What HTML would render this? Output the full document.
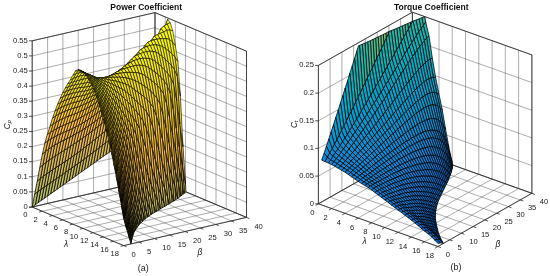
<!DOCTYPE html>
<html><head><meta charset="utf-8"><title>Power and Torque Coefficient</title>
<style>html,body{margin:0;padding:0;background:#fff}svg{display:block}</style></head>
<body>
<svg width="550" height="276" viewBox="0 0 550 276">
<rect width="550" height="276" fill="#fff"/>
<line x1="32.2" y1="207" x2="155" y2="178.8" stroke="#5a5a5a" stroke-width="0.5"/>
<line x1="155" y1="178.8" x2="155" y2="12.6" stroke="#5a5a5a" stroke-width="0.5"/>
<line x1="42.4" y1="211.3" x2="165.2" y2="183.1" stroke="#5a5a5a" stroke-width="0.5"/>
<line x1="165.2" y1="183.1" x2="165.2" y2="16.9" stroke="#5a5a5a" stroke-width="0.5"/>
<line x1="52.5" y1="215.6" x2="175.3" y2="187.4" stroke="#5a5a5a" stroke-width="0.5"/>
<line x1="175.3" y1="187.4" x2="175.3" y2="21.2" stroke="#5a5a5a" stroke-width="0.5"/>
<line x1="62.7" y1="219.9" x2="185.5" y2="191.7" stroke="#5a5a5a" stroke-width="0.5"/>
<line x1="185.5" y1="191.7" x2="185.5" y2="25.5" stroke="#5a5a5a" stroke-width="0.5"/>
<line x1="72.9" y1="224.2" x2="195.7" y2="196" stroke="#5a5a5a" stroke-width="0.5"/>
<line x1="195.7" y1="196" x2="195.7" y2="29.8" stroke="#5a5a5a" stroke-width="0.5"/>
<line x1="83" y1="228.4" x2="205.8" y2="200.2" stroke="#5a5a5a" stroke-width="0.5"/>
<line x1="205.8" y1="200.2" x2="205.8" y2="34" stroke="#5a5a5a" stroke-width="0.5"/>
<line x1="93.2" y1="232.7" x2="216" y2="204.5" stroke="#5a5a5a" stroke-width="0.5"/>
<line x1="216" y1="204.5" x2="216" y2="38.3" stroke="#5a5a5a" stroke-width="0.5"/>
<line x1="103.4" y1="237" x2="226.2" y2="208.8" stroke="#5a5a5a" stroke-width="0.5"/>
<line x1="226.2" y1="208.8" x2="226.2" y2="42.6" stroke="#5a5a5a" stroke-width="0.5"/>
<line x1="113.5" y1="241.3" x2="236.3" y2="213.1" stroke="#5a5a5a" stroke-width="0.5"/>
<line x1="236.3" y1="213.1" x2="236.3" y2="46.9" stroke="#5a5a5a" stroke-width="0.5"/>
<line x1="123.7" y1="245.6" x2="246.5" y2="217.4" stroke="#5a5a5a" stroke-width="0.5"/>
<line x1="246.5" y1="217.4" x2="246.5" y2="51.2" stroke="#5a5a5a" stroke-width="0.5"/>
<line x1="32.2" y1="207" x2="123.7" y2="245.6" stroke="#5a5a5a" stroke-width="0.5"/>
<line x1="32.2" y1="207" x2="32.2" y2="40.8" stroke="#5a5a5a" stroke-width="0.5"/>
<line x1="47.6" y1="203.5" x2="139.1" y2="242.1" stroke="#5a5a5a" stroke-width="0.5"/>
<line x1="47.6" y1="203.5" x2="47.6" y2="37.3" stroke="#5a5a5a" stroke-width="0.5"/>
<line x1="62.9" y1="199.9" x2="154.4" y2="238.5" stroke="#5a5a5a" stroke-width="0.5"/>
<line x1="62.9" y1="199.9" x2="62.9" y2="33.8" stroke="#5a5a5a" stroke-width="0.5"/>
<line x1="78.2" y1="196.4" x2="169.8" y2="235" stroke="#5a5a5a" stroke-width="0.5"/>
<line x1="78.2" y1="196.4" x2="78.2" y2="30.2" stroke="#5a5a5a" stroke-width="0.5"/>
<line x1="93.6" y1="192.9" x2="185.1" y2="231.5" stroke="#5a5a5a" stroke-width="0.5"/>
<line x1="93.6" y1="192.9" x2="93.6" y2="26.7" stroke="#5a5a5a" stroke-width="0.5"/>
<line x1="109" y1="189.4" x2="200.4" y2="228" stroke="#5a5a5a" stroke-width="0.5"/>
<line x1="109" y1="189.4" x2="109" y2="23.2" stroke="#5a5a5a" stroke-width="0.5"/>
<line x1="124.3" y1="185.8" x2="215.8" y2="224.4" stroke="#5a5a5a" stroke-width="0.5"/>
<line x1="124.3" y1="185.8" x2="124.3" y2="19.7" stroke="#5a5a5a" stroke-width="0.5"/>
<line x1="139.7" y1="182.3" x2="231.2" y2="220.9" stroke="#5a5a5a" stroke-width="0.5"/>
<line x1="139.7" y1="182.3" x2="139.7" y2="16.1" stroke="#5a5a5a" stroke-width="0.5"/>
<line x1="155" y1="178.8" x2="246.5" y2="217.4" stroke="#5a5a5a" stroke-width="0.5"/>
<line x1="155" y1="178.8" x2="155" y2="12.6" stroke="#5a5a5a" stroke-width="0.5"/>
<line x1="32.2" y1="207" x2="155" y2="178.8" stroke="#5a5a5a" stroke-width="0.5"/>
<line x1="155" y1="178.8" x2="246.5" y2="217.4" stroke="#5a5a5a" stroke-width="0.5"/>
<line x1="32.2" y1="191.9" x2="155" y2="163.7" stroke="#5a5a5a" stroke-width="0.5"/>
<line x1="155" y1="163.7" x2="246.5" y2="202.3" stroke="#5a5a5a" stroke-width="0.5"/>
<line x1="32.2" y1="176.8" x2="155" y2="148.6" stroke="#5a5a5a" stroke-width="0.5"/>
<line x1="155" y1="148.6" x2="246.5" y2="187.2" stroke="#5a5a5a" stroke-width="0.5"/>
<line x1="32.2" y1="161.7" x2="155" y2="133.5" stroke="#5a5a5a" stroke-width="0.5"/>
<line x1="155" y1="133.5" x2="246.5" y2="172.1" stroke="#5a5a5a" stroke-width="0.5"/>
<line x1="32.2" y1="146.6" x2="155" y2="118.4" stroke="#5a5a5a" stroke-width="0.5"/>
<line x1="155" y1="118.4" x2="246.5" y2="157" stroke="#5a5a5a" stroke-width="0.5"/>
<line x1="32.2" y1="131.5" x2="155" y2="103.3" stroke="#5a5a5a" stroke-width="0.5"/>
<line x1="155" y1="103.3" x2="246.5" y2="141.9" stroke="#5a5a5a" stroke-width="0.5"/>
<line x1="32.2" y1="116.3" x2="155" y2="88.1" stroke="#5a5a5a" stroke-width="0.5"/>
<line x1="155" y1="88.1" x2="246.5" y2="126.7" stroke="#5a5a5a" stroke-width="0.5"/>
<line x1="32.2" y1="101.2" x2="155" y2="73" stroke="#5a5a5a" stroke-width="0.5"/>
<line x1="155" y1="73" x2="246.5" y2="111.6" stroke="#5a5a5a" stroke-width="0.5"/>
<line x1="32.2" y1="86.1" x2="155" y2="57.9" stroke="#5a5a5a" stroke-width="0.5"/>
<line x1="155" y1="57.9" x2="246.5" y2="96.5" stroke="#5a5a5a" stroke-width="0.5"/>
<line x1="32.2" y1="71" x2="155" y2="42.8" stroke="#5a5a5a" stroke-width="0.5"/>
<line x1="155" y1="42.8" x2="246.5" y2="81.4" stroke="#5a5a5a" stroke-width="0.5"/>
<line x1="32.2" y1="55.9" x2="155" y2="27.7" stroke="#5a5a5a" stroke-width="0.5"/>
<line x1="155" y1="27.7" x2="246.5" y2="66.3" stroke="#5a5a5a" stroke-width="0.5"/>
<line x1="32.2" y1="40.8" x2="155" y2="12.6" stroke="#5a5a5a" stroke-width="0.5"/>
<line x1="155" y1="12.6" x2="246.5" y2="51.2" stroke="#5a5a5a" stroke-width="0.5"/>
<line x1="32.2" y1="207" x2="123.7" y2="245.6" stroke="#262626" stroke-width="0.8"/>
<line x1="123.7" y1="245.6" x2="246.5" y2="217.4" stroke="#262626" stroke-width="0.8"/>
<line x1="32.2" y1="207" x2="32.2" y2="40.8" stroke="#262626" stroke-width="0.8"/>
<line x1="32.2" y1="40.8" x2="155" y2="12.6" stroke="#262626" stroke-width="0.8"/>
<line x1="155" y1="12.6" x2="246.5" y2="51.2" stroke="#262626" stroke-width="0.8"/>
<line x1="246.5" y1="51.2" x2="246.5" y2="217.4" stroke="#262626" stroke-width="0.8"/>
<line x1="32.2" y1="207" x2="155" y2="178.8" stroke="#262626" stroke-width="0.8"/>
<line x1="155" y1="178.8" x2="246.5" y2="217.4" stroke="#262626" stroke-width="0.8"/>
<line x1="155" y1="178.8" x2="155" y2="12.6" stroke="#262626" stroke-width="0.8"/>
<line x1="32.2" y1="207" x2="29.1" y2="207.7" stroke="#262626" stroke-width="0.8"/>
<line x1="42.4" y1="211.3" x2="39.2" y2="212" stroke="#262626" stroke-width="0.8"/>
<line x1="52.5" y1="215.6" x2="49.4" y2="216.3" stroke="#262626" stroke-width="0.8"/>
<line x1="62.7" y1="219.9" x2="59.6" y2="220.6" stroke="#262626" stroke-width="0.8"/>
<line x1="72.9" y1="224.2" x2="69.7" y2="224.9" stroke="#262626" stroke-width="0.8"/>
<line x1="83" y1="228.4" x2="79.9" y2="229.2" stroke="#262626" stroke-width="0.8"/>
<line x1="93.2" y1="232.7" x2="90.1" y2="233.4" stroke="#262626" stroke-width="0.8"/>
<line x1="103.4" y1="237" x2="100.2" y2="237.7" stroke="#262626" stroke-width="0.8"/>
<line x1="113.5" y1="241.3" x2="110.4" y2="242" stroke="#262626" stroke-width="0.8"/>
<line x1="123.7" y1="245.6" x2="120.6" y2="246.3" stroke="#262626" stroke-width="0.8"/>
<line x1="123.7" y1="245.6" x2="126.6" y2="246.8" stroke="#262626" stroke-width="0.8"/>
<line x1="139.1" y1="242.1" x2="142" y2="243.3" stroke="#262626" stroke-width="0.8"/>
<line x1="154.4" y1="238.5" x2="157.3" y2="239.8" stroke="#262626" stroke-width="0.8"/>
<line x1="169.8" y1="235" x2="172.7" y2="236.3" stroke="#262626" stroke-width="0.8"/>
<line x1="185.1" y1="231.5" x2="188" y2="232.7" stroke="#262626" stroke-width="0.8"/>
<line x1="200.4" y1="228" x2="203.4" y2="229.2" stroke="#262626" stroke-width="0.8"/>
<line x1="215.8" y1="224.4" x2="218.7" y2="225.7" stroke="#262626" stroke-width="0.8"/>
<line x1="231.2" y1="220.9" x2="234.1" y2="222.2" stroke="#262626" stroke-width="0.8"/>
<line x1="246.5" y1="217.4" x2="249.4" y2="218.6" stroke="#262626" stroke-width="0.8"/>
<line x1="32.2" y1="207" x2="29" y2="207" stroke="#262626" stroke-width="0.8"/>
<line x1="32.2" y1="191.9" x2="29" y2="191.9" stroke="#262626" stroke-width="0.8"/>
<line x1="32.2" y1="176.8" x2="29" y2="176.8" stroke="#262626" stroke-width="0.8"/>
<line x1="32.2" y1="161.7" x2="29" y2="161.7" stroke="#262626" stroke-width="0.8"/>
<line x1="32.2" y1="146.6" x2="29" y2="146.6" stroke="#262626" stroke-width="0.8"/>
<line x1="32.2" y1="131.5" x2="29" y2="131.5" stroke="#262626" stroke-width="0.8"/>
<line x1="32.2" y1="116.3" x2="29" y2="116.3" stroke="#262626" stroke-width="0.8"/>
<line x1="32.2" y1="101.2" x2="29" y2="101.2" stroke="#262626" stroke-width="0.8"/>
<line x1="32.2" y1="86.1" x2="29" y2="86.1" stroke="#262626" stroke-width="0.8"/>
<line x1="32.2" y1="71" x2="29" y2="71" stroke="#262626" stroke-width="0.8"/>
<line x1="32.2" y1="55.9" x2="29" y2="55.9" stroke="#262626" stroke-width="0.8"/>
<line x1="32.2" y1="40.8" x2="29" y2="40.8" stroke="#262626" stroke-width="0.8"/>
<g font-family="Liberation Sans, Arial, sans-serif" font-size="7.6" fill="#1a1a1a">
<text x="27.5" y="217.2" text-anchor="end">0</text>
<text x="37.7" y="221.5" text-anchor="end">2</text>
<text x="47.8" y="225.8" text-anchor="end">4</text>
<text x="58" y="230.1" text-anchor="end">6</text>
<text x="68.2" y="234.4" text-anchor="end">8</text>
<text x="78.3" y="238.6" text-anchor="end">10</text>
<text x="88.5" y="242.9" text-anchor="end">12</text>
<text x="98.7" y="247.2" text-anchor="end">14</text>
<text x="108.8" y="251.5" text-anchor="end">16</text>
<text x="119" y="255.8" text-anchor="end">18</text>
<text x="131.6" y="257.3">0</text>
<text x="147" y="253.8">5</text>
<text x="162.3" y="250.2">10</text>
<text x="177.7" y="246.7">15</text>
<text x="193" y="243.2">20</text>
<text x="208.3" y="239.7">25</text>
<text x="223.7" y="236.1">30</text>
<text x="239.1" y="232.6">35</text>
<text x="254.4" y="229.1">40</text>
<text x="27.8" y="208.7" text-anchor="end">0</text>
<text x="27.8" y="193.6" text-anchor="end">0.05</text>
<text x="27.8" y="178.5" text-anchor="end">0.1</text>
<text x="27.8" y="163.4" text-anchor="end">0.15</text>
<text x="27.8" y="148.3" text-anchor="end">0.2</text>
<text x="27.8" y="133.2" text-anchor="end">0.25</text>
<text x="27.8" y="118" text-anchor="end">0.3</text>
<text x="27.8" y="102.9" text-anchor="end">0.35</text>
<text x="27.8" y="87.8" text-anchor="end">0.4</text>
<text x="27.8" y="72.7" text-anchor="end">0.45</text>
<text x="27.8" y="57.6" text-anchor="end">0.5</text>
<text x="27.8" y="42.5" text-anchor="end">0.55</text>
</g>
<text x="146.2" y="9.6" text-anchor="middle" font-family="Liberation Sans, Arial, sans-serif" font-weight="bold" font-size="8.5" fill="#111">Power Coefficient</text>
<text transform="translate(9.6,124.6) rotate(-90)" text-anchor="middle" font-family="Liberation Sans, sans-serif" font-style="italic" font-size="8.2" fill="#1a1a1a">C<tspan font-size="5.8" dy="1.7">p</tspan></text>
<text x="66.1" y="246.6" text-anchor="middle" font-family="Liberation Sans, sans-serif" font-style="italic" font-size="8.4" fill="#1a1a1a">λ</text>
<text x="199.9" y="255.3" text-anchor="middle" font-family="Liberation Sans, sans-serif" font-style="italic" font-size="8.4" fill="#1a1a1a">β</text>
<text x="143.2" y="270.8" text-anchor="middle" font-family="Liberation Sans, sans-serif" font-size="9" fill="#1a1a1a">(a)</text>
<g stroke="#000" stroke-width="0.62" stroke-linejoin="round">
<path d="M151.9 121.8l2.6 -19.5l3 -2.8l-2.5 20.1z" fill="#efb94b" stroke-width=".69"/>
<path d="M148.9 123.9l2.5 -18.8l3.1 -2.8l-2.6 19.5z" fill="#edb94c" stroke-width=".70"/>
<path d="M145.8 126.1l2.5 -18.1l3.1 -2.9l-2.5 18.8z" fill="#ecb94d" stroke-width=".70"/>
<path d="M142.7 128.3l2.6 -17.6l3 -2.7l-2.5 18.1z" fill="#eab94d" stroke-width=".70"/>
<path d="M139.7 130.5l2.6 -17.2l3.1 -2.6l-2.6 17.6z" fill="#e9b94e" stroke-width=".70"/>
<path d="M136.6 132.7l2.5 -16.9l3.1 -2.5l-2.6 17.2z" fill="#e7b94f" stroke-width=".70"/>
<path d="M133.5 134.9l2.6 -16.6l3 -2.5l-2.5 16.9z" fill="#e6b950" stroke-width=".71"/>
<path d="M154.5 102.3l2.5 -19l3.1 -3.9l-2.6 20.1z" fill="#febf3c" stroke-width=".66"/>
<path d="M130.4 137.1l2.6 -16.4l3.1 -2.4l-2.6 16.6z" fill="#e4b950" stroke-width=".71"/>
<path d="M151.4 105.1l2.5 -18.1l3.1 -3.7l-2.5 19z" fill="#fdbe3d" stroke-width=".67"/>
<path d="M148.3 108l2.6 -17.4l3 -3.6l-2.5 18.1z" fill="#fcbd3f" stroke-width=".67"/>
<path d="M127.4 139.2l2.5 -16l3.1 -2.5l-2.6 16.4z" fill="#e3b951" stroke-width=".71"/>
<path d="M145.3 110.7l2.5 -16.8l3.1 -3.3l-2.6 17.4z" fill="#fbbc41" stroke-width=".67"/>
<path d="M124.3 141.4l2.5 -15.7l3.1 -2.5l-2.5 16z" fill="#e1b952" stroke-width=".71"/>
<path d="M142.2 113.3l2.5 -16.5l3.1 -2.9l-2.5 16.8z" fill="#fabb42" stroke-width=".67"/>
<path d="M121.2 143.6l2.6 -15.4l3 -2.5l-2.5 15.7z" fill="#e0ba53" stroke-width=".72"/>
<path d="M139.1 115.8l2.6 -16.3l3 -2.7l-2.5 16.5z" fill="#f8bb44" stroke-width=".68"/>
<path d="M118.2 145.8l2.5 -15.1l3.1 -2.5l-2.6 15.4z" fill="#deba53" stroke-width=".72"/>
<path d="M182.4 165l2 28.2l1.5 -1.3l-0.4 -8.2z" fill="#d0bb5a" stroke-width=".74"/>
<path d="M136.1 118.3l2.5 -16.1l3.1 -2.7l-2.6 16.3z" fill="#f7ba45" stroke-width=".68"/>
<path d="M115.1 148l2.5 -14.9l3.1 -2.4l-2.5 15.1z" fill="#ddba54" stroke-width=".72"/>
<path d="M157 83.3l2.6 -18.7l3 -5.3l-2.5 20.1z" fill="#fccd2f" stroke-width=".63"/>
<path d="M133 120.7l2.5 -16l3.1 -2.5l-2.5 16.1z" fill="#f5ba46" stroke-width=".68"/>
<path d="M153.9 87l2.6 -17.5l3.1 -4.9l-2.6 18.7z" fill="#fdcb30" stroke-width=".64"/>
<path d="M112 150.2l2.6 -14.6l3 -2.5l-2.5 14.9z" fill="#dbba55" stroke-width=".72"/>
<path d="M129.9 123.2l2.6 -15.8l3 -2.7l-2.5 16z" fill="#f4ba48" stroke-width=".69"/>
<path d="M150.9 90.6l2.5 -16.4l3.1 -4.7l-2.6 17.5z" fill="#fec932" stroke-width=".64"/>
<path d="M181.9 181.1l0.8 13.4l1.1 -0.8z" fill="#c1bc60" stroke-width=".76"/>
<path d="M109 152.4l2.5 -14.4l3.1 -2.4l-2.6 14.6z" fill="#daba55" stroke-width=".72"/>
<path d="M147.8 93.9l2.5 -15.7l3.1 -4l-2.5 16.4z" fill="#fec734" stroke-width=".64"/>
<path d="M126.8 125.7l2.6 -15.7l3.1 -2.6l-2.6 15.8z" fill="#f2b949" stroke-width=".69"/>
<path d="M179.4 147.3l2.5 33.8l1.9 12.6l0.6 -0.5l-2 -28.2z" fill="#e3b951" stroke-width=".71"/>
<path d="M144.7 96.8l2.6 -15l3 -3.6l-2.5 15.7z" fill="#fec535" stroke-width=".65"/>
<path d="M105.9 154.5l2.5 -14l3.1 -2.5l-2.5 14.4z" fill="#d8ba56" stroke-width=".73"/>
<path d="M123.8 128.2l2.5 -15.6l3.1 -2.6l-2.6 15.7z" fill="#f0b94a" stroke-width=".69"/>
<path d="M179.9 124.2l2.5 40.8l3.1 18.7l-2.5 -36.9z" fill="#f7ba45" stroke-width=".68"/>
<path d="M141.7 99.5l2.5 -14.3l3.1 -3.4l-2.6 15z" fill="#ffc436" stroke-width=".65"/>
<path d="M102.8 156.7l2.6 -13.8l3 -2.4l-2.5 14z" fill="#d7ba57" stroke-width=".73"/>
<path d="M120.7 130.7l2.5 -15.4l3.1 -2.7l-2.5 15.6z" fill="#eeb94b" stroke-width=".69"/>
<path d="M178.8 166.1l2.4 29.7l1.5 -1.3l-0.8 -13.4z" fill="#d1bb59" stroke-width=".74"/>
<path d="M138.6 102.2l2.5 -13.9l3.1 -3.1l-2.5 14.3z" fill="#ffc338" stroke-width=".65"/>
<path d="M99.7 158.9l2.6 -13.6l3.1 -2.4l-2.6 13.8z" fill="#d5ba57" stroke-width=".73"/>
<path d="M117.6 133.1l2.6 -15.1l3 -2.7l-2.5 15.4z" fill="#edb94c" stroke-width=".70"/>
<path d="M135.5 104.7l2.6 -13.4l3 -3l-2.5 13.9z" fill="#fec239" stroke-width=".66"/>
<path d="M96.7 161.1l2.5 -13.4l3.1 -2.4l-2.6 13.6z" fill="#d4bb58" stroke-width=".73"/>
<path d="M114.6 135.6l2.5 -15l3.1 -2.6l-2.6 15.1z" fill="#ebb94d" stroke-width=".70"/>
<path d="M159.6 64.6l2.5 -18.5l3.1 -6.8l-2.6 20z" fill="#f7da25" stroke-width=".60"/>
<path d="M132.5 107.4l2.5 -13.1l3.1 -3l-2.6 13.4z" fill="#fec03a" stroke-width=".66"/>
<path d="M178.3 182.3l1 14.8l1.6 -1.1z" fill="#c2bc5f" stroke-width=".76"/>
<path d="M156.5 69.5l2.5 -17.1l3.1 -6.3l-2.5 18.5z" fill="#f8d727" stroke-width=".61"/>
<path d="M93.6 163.3l2.5 -13.3l3.1 -2.3l-2.5 13.4z" fill="#d2bb59" stroke-width=".74"/>
<path d="M153.4 74.2l2.6 -15.9l3 -5.9l-2.5 17.1z" fill="#f9d429" stroke-width=".61"/>
<path d="M111.5 138l2.5 -14.7l3.1 -2.7l-2.5 15z" fill="#e9b94e" stroke-width=".70"/>
<path d="M129.4 110l2.5 -12.8l3.1 -2.9l-2.5 13.1z" fill="#febf3c" stroke-width=".66"/>
<path d="M150.3 78.2l2.6 -14.9l3.1 -5l-2.6 15.9z" fill="#fad22a" stroke-width=".62"/>
<path d="M175.8 151.2l2.5 31.1l2.6 13.7l0.3 -0.2l-2.4 -29.7z" fill="#e1b952" stroke-width=".71"/>
<path d="M90.5 165.5l2.6 -13.2l3 -2.3l-2.5 13.3z" fill="#d1bb59" stroke-width=".74"/>
<path d="M108.4 140.5l2.6 -14.5l3 -2.7l-2.5 14.7z" fill="#e8b94f" stroke-width=".70"/>
<path d="M147.3 81.8l2.5 -14.1l3.1 -4.4l-2.6 14.9z" fill="#fbd02c" stroke-width=".62"/>
<path d="M126.3 112.6l2.6 -12.5l3 -2.9l-2.5 12.8z" fill="#fdbe3d" stroke-width=".67"/>
<path d="M176.3 128.3l2.5 37.8l3.1 15l-2.5 -33.8z" fill="#f6ba46" stroke-width=".68"/>
<path d="M144.2 85.2l2.5 -13.6l3.1 -3.9l-2.5 14.1z" fill="#fcce2d" stroke-width=".63"/>
<path d="M176.8 100.9l2.6 46.4l3 17.7l-2.5 -40.8z" fill="#fec833" stroke-width=".64"/>
<path d="M105.4 142.9l2.5 -14.3l3.1 -2.6l-2.6 14.5z" fill="#e6b950" stroke-width=".71"/>
<path d="M87.5 167.7l2.5 -13l3.1 -2.4l-2.6 13.2z" fill="#cfbb5a" stroke-width=".74"/>
<path d="M175.2 169.8l2.5 28.6l1.6 -1.3l-1 -14.8z" fill="#d0bb59" stroke-width=".74"/>
<path d="M123.2 115.3l2.6 -12.4l3.1 -2.8l-2.6 12.5z" fill="#fcbd3f" stroke-width=".67"/>
<path d="M141.1 88.3l2.6 -13.2l3 -3.5l-2.5 13.6z" fill="#fccd2f" stroke-width=".63"/>
<path d="M102.3 145.3l2.5 -14l3.1 -2.7l-2.5 14.3z" fill="#e4b951" stroke-width=".71"/>
<path d="M177.3 76l2.6 48.2l3.1 22.6l-2.6 -50.8z" fill="#f8d727" stroke-width=".61"/>
<path d="M84.4 169.8l2.5 -12.9l3.1 -2.2l-2.5 13z" fill="#cebb5b" stroke-width=".74"/>
<path d="M120.2 118l2.5 -12.3l3.1 -2.8l-2.6 12.4z" fill="#fbbc41" stroke-width=".67"/>
<path d="M138.1 91.3l2.5 -12.8l3.1 -3.4l-2.6 13.2z" fill="#fdcb30" stroke-width=".64"/>
<path d="M99.2 147.7l2.6 -13.8l3 -2.6l-2.5 14z" fill="#e2b951" stroke-width=".71"/>
<path d="M174.7 185.8l1 13.8l1.9 -1.1z" fill="#c1bc60" stroke-width=".76"/>
<path d="M117.1 120.6l2.5 -12.2l3.1 -2.7l-2.5 12.3z" fill="#fabb42" stroke-width=".67"/>
<path d="M81.3 172l2.6 -12.8l3 -2.3l-2.5 12.9z" fill="#ccbb5b" stroke-width=".74"/>
<path d="M135 94.3l2.5 -12.4l3.1 -3.4l-2.5 12.8z" fill="#fdca31" stroke-width=".64"/>
<path d="M96.1 150l2.6 -13.6l3.1 -2.5l-2.6 13.8z" fill="#e1ba52" stroke-width=".71"/>
<path d="M172.2 156.9l2.5 28.9l2.9 12.7l0.1 -0.1l-2.5 -28.6z" fill="#deba53" stroke-width=".72"/>
<path d="M114 123.3l2.6 -12.3l3 -2.6l-2.5 12.2z" fill="#f8bb44" stroke-width=".68"/>
<path d="M131.9 97.2l2.6 -12l3 -3.3l-2.5 12.4z" fill="#fec832" stroke-width=".64"/>
<path d="M78.2 174.2l2.6 -12.7l3.1 -2.3l-2.6 12.8z" fill="#cabb5c" stroke-width=".75"/>
<path d="M159 52.4l2.6 -16.8l3 -7.8l-2.5 18.3z" fill="#f5e41d" stroke-width=".58"/>
<path d="M162.1 46.1l2.5 -18.3l3.1 -8.6l-2.5 20.1z" fill="#f5e91a" stroke-width=".57"/>
<path d="M156 58.3l2.5 -15.5l3.1 -7.2l-2.6 16.8z" fill="#f5e020" stroke-width=".59"/>
<path d="M172.7 134.9l2.5 34.9l3.1 12.5l-2.5 -31.1z" fill="#f2b949" stroke-width=".69"/>
<path d="M152.9 63.3l2.5 -14.3l3.1 -6.2l-2.5 15.5z" fill="#f6dd22" stroke-width=".60"/>
<path d="M93.1 152.3l2.5 -13.4l3.1 -2.5l-2.6 13.6z" fill="#dfba53" stroke-width=".72"/>
<path d="M111 126l2.5 -12.3l3.1 -2.7l-2.6 12.3z" fill="#f7ba45" stroke-width=".68"/>
<path d="M128.9 100.1l2.5 -11.7l3.1 -3.2l-2.6 12z" fill="#fec734" stroke-width=".65"/>
<path d="M75.2 176.4l2.5 -12.7l3.1 -2.2l-2.6 12.7z" fill="#c9bc5c" stroke-width=".75"/>
<path d="M149.8 67.7l2.6 -13.5l3 -5.2l-2.5 14.3z" fill="#f7da24" stroke-width=".60"/>
<path d="M173.2 108.7l2.6 42.5l3 14.9l-2.5 -37.8z" fill="#ffc436" stroke-width=".65"/>
<path d="M171.6 174.8l2.4 26l1.7 -1.2l-1 -13.8z" fill="#cdbb5b" stroke-width=".74"/>
<path d="M146.7 71.6l2.6 -12.8l3.1 -4.6l-2.6 13.5z" fill="#f7d826" stroke-width=".61"/>
<path d="M125.8 102.9l2.5 -11.4l3.1 -3.1l-2.5 11.7z" fill="#fec535" stroke-width=".65"/>
<path d="M107.9 128.6l2.5 -12.2l3.1 -2.7l-2.5 12.3z" fill="#f5ba47" stroke-width=".68"/>
<path d="M90 154.7l2.5 -13.4l3.1 -2.4l-2.5 13.4z" fill="#ddba54" stroke-width=".72"/>
<path d="M72.1 178.6l2.6 -12.7l3 -2.2l-2.5 12.7z" fill="#c7bc5d" stroke-width=".75"/>
<path d="M173.7 84.1l2.6 44.2l3.1 19l-2.6 -46.4z" fill="#f9d329" stroke-width=".62"/>
<path d="M143.7 75.1l2.5 -12.2l3.1 -4.1l-2.6 12.8z" fill="#f8d627" stroke-width=".61"/>
<path d="M122.7 105.7l2.6 -11.1l3 -3.1l-2.5 11.4z" fill="#ffc436" stroke-width=".65"/>
<path d="M104.8 131.3l2.6 -12.3l3 -2.6l-2.5 12.2z" fill="#f3ba48" stroke-width=".69"/>
<path d="M86.9 156.9l2.6 -13.2l3 -2.4l-2.5 13.4z" fill="#dcba54" stroke-width=".72"/>
<path d="M140.6 78.5l2.5 -11.7l3.1 -3.9l-2.5 12.2z" fill="#f9d429" stroke-width=".61"/>
<path d="M174.3 69l2.5 31.9l3.1 23.3l-2.6 -48.2z" fill="#f6dc23" stroke-width=".60"/>
<path d="M69 180.8l2.6 -12.7l3.1 -2.2l-2.6 12.7z" fill="#c6bc5e" stroke-width=".75"/>
<path d="M174.8 56.7l2.5 19.3l3.1 20l-2.5 -34.5z" fill="#f5e41d" stroke-width=".58"/>
<path d="M171.1 190.6l0.9 11.4l1.7 -1z" fill="#bfbc61" stroke-width=".76"/>
<path d="M119.6 108.4l2.6 -10.8l3.1 -3l-2.6 11.1z" fill="#ffc338" stroke-width=".65"/>
<path d="M101.8 133.9l2.5 -12.4l3.1 -2.5l-2.6 12.3z" fill="#f1b949" stroke-width=".69"/>
<path d="M137.5 81.9l2.6 -11.4l3 -3.7l-2.5 11.7z" fill="#fad32a" stroke-width=".62"/>
<path d="M83.9 159.2l2.5 -13.1l3.1 -2.4l-2.6 13.2z" fill="#daba55" stroke-width=".72"/>
<path d="M66 183l2.5 -12.8l3.1 -2.1l-2.6 12.7z" fill="#c4bc5e" stroke-width=".76"/>
<path d="M168.6 163.7l2.5 26.9l2.6 10.4l0.3 -0.2l-2.4 -26z" fill="#daba55" stroke-width=".72"/>
<path d="M116.6 111l2.5 -10.4l3.1 -3l-2.6 10.8z" fill="#fec139" stroke-width=".66"/>
<path d="M164.6 27.8l2.6 -3.8l3 -1.3l-2.5 -3.5z" fill="#f9fb0e" stroke-width=".54"/>
<path d="M134.5 85.2l2.5 -11l3.1 -3.7l-2.6 11.4z" fill="#fbd12b" stroke-width=".62"/>
<path d="M98.7 136.4l2.5 -12.4l3.1 -2.5l-2.5 12.4z" fill="#efb94a" stroke-width=".69"/>
<path d="M169.1 142.7l2.5 32.1l3.1 11l-2.5 -28.9z" fill="#edb94c" stroke-width=".70"/>
<path d="M80.8 161.5l2.5 -13l3.1 -2.4l-2.5 13.1z" fill="#d9ba56" stroke-width=".73"/>
<path d="M161.6 35.6l2.5 -9.7l3.1 -1.9l-2.6 3.8z" fill="#f7f412" stroke-width=".55"/>
<path d="M169.6 117.8l2.6 39.1l3 12.9l-2.5 -34.9z" fill="#fec03b" stroke-width=".66"/>
<path d="M62.9 185.1l2.5 -12.7l3.1 -2.2l-2.5 12.8z" fill="#c3bc5f" stroke-width=".76"/>
<path d="M113.5 113.7l2.5 -10.1l3.1 -3l-2.5 10.4z" fill="#fec03b" stroke-width=".66"/>
<path d="M131.4 88.4l2.5 -10.7l3.1 -3.5l-2.5 11z" fill="#fbcf2d" stroke-width=".63"/>
<path d="M158.5 42.8l2.5 -14.2l3.1 -2.7l-2.5 9.7z" fill="#f5ee16" stroke-width=".56"/>
<path d="M172.3 41.6l2.5 15.1l3.1 4.8l-2.6 -16.2z" fill="#f6f114" stroke-width=".56"/>
<path d="M95.6 138.9l2.6 -12.6l3 -2.3l-2.5 12.4z" fill="#eeb94b" stroke-width=".69"/>
<path d="M168 180.6l2.1 22.6l1.9 -1.2l-0.9 -11.4z" fill="#cabb5c" stroke-width=".75"/>
<path d="M155.4 49l2.6 -13.9l3 -6.5l-2.5 14.2z" fill="#f5e919" stroke-width=".57"/>
<path d="M77.7 163.7l2.6 -12.9l3 -2.3l-2.5 13z" fill="#d7ba56" stroke-width=".73"/>
<path d="M167.2 24l2.5 6l3.1 0.7l-2.6 -8z" fill="#f9fb0e" stroke-width=".54"/>
<path d="M170.2 93.2l2.5 41.7l3.1 16.3l-2.6 -42.5z" fill="#fbcf2d" stroke-width=".63"/>
<path d="M152.4 54.2l2.5 -13.2l3.1 -5.9l-2.6 13.9z" fill="#f5e51c" stroke-width=".58"/>
<path d="M169.7 30l2.6 11.6l3 3.7l-2.5 -14.6z" fill="#f9fb0e" stroke-width=".54"/>
<path d="M128.3 91.5l2.6 -10.4l3 -3.4l-2.5 10.7z" fill="#fcce2e" stroke-width=".63"/>
<path d="M110.4 116.4l2.6 -9.9l3 -2.9l-2.5 10.1z" fill="#febf3c" stroke-width=".66"/>
<path d="M59.8 187.3l2.6 -12.8l3 -2.1l-2.5 12.7z" fill="#c1bc60" stroke-width=".76"/>
<path d="M149.3 58.8l2.5 -12.5l3.1 -5.3l-2.5 13.2z" fill="#f5e21e" stroke-width=".59"/>
<path d="M171.7 53.4l2.6 15.6l3 7l-2.5 -19.3z" fill="#f5e81a" stroke-width=".57"/>
<path d="M92.5 141.3l2.6 -12.6l3.1 -2.4l-2.6 12.6z" fill="#ecb94c" stroke-width=".70"/>
<path d="M170.7 77.4l2.5 31.3l3.1 19.6l-2.6 -44.2z" fill="#f7d826" stroke-width=".61"/>
<path d="M74.7 165.9l2.5 -12.9l3.1 -2.2l-2.6 12.9z" fill="#d6ba57" stroke-width=".73"/>
<path d="M125.3 94.6l2.5 -10.1l3.1 -3.4l-2.6 10.4z" fill="#fdcc2f" stroke-width=".63"/>
<path d="M146.2 62.9l2.6 -11.6l3 -5l-2.5 12.5z" fill="#f5e020" stroke-width=".59"/>
<path d="M171.2 65.1l2.5 19l3.1 16.8l-2.5 -31.9z" fill="#f5e020" stroke-width=".59"/>
<path d="M107.4 119l2.5 -9.7l3.1 -2.8l-2.6 9.9z" fill="#fdbe3e" stroke-width=".67"/>
<path d="M164.1 25.9l2.6 4.4l3 -0.3l-2.5 -6z" fill="#f9fb0e" stroke-width=".54"/>
<path d="M56.8 189.5l2.5 -12.9l3.1 -2.1l-2.6 12.8z" fill="#bfbc60" stroke-width=".76"/>
<path d="M143.1 66.8l2.6 -11l3.1 -4.5l-2.6 11.6z" fill="#f6dd22" stroke-width=".59"/>
<path d="M89.5 143.7l2.5 -12.6l3.1 -2.4l-2.6 12.6z" fill="#eab94d" stroke-width=".70"/>
<path d="M169.2 39.2l2.5 14.2l3.1 3.3l-2.5 -15.1z" fill="#f7f412" stroke-width=".55"/>
<path d="M122.2 97.6l2.5 -9.9l3.1 -3.2l-2.5 10.1z" fill="#fdcb30" stroke-width=".64"/>
<path d="M167.5 196.5l0.6 7.8l1.3 -0.7z" fill="#bbbd62" stroke-width=".77"/>
<path d="M71.6 168.1l2.5 -12.9l3.1 -2.2l-2.5 12.9z" fill="#d4bb58" stroke-width=".73"/>
<path d="M166.7 30.3l2.5 8.9l3.1 2.4l-2.6 -11.6z" fill="#f9fb0e" stroke-width=".54"/>
<path d="M104.3 121.5l2.5 -9.5l3.1 -2.7l-2.5 9.7z" fill="#fcbd3f" stroke-width=".67"/>
<path d="M140.1 70.5l2.5 -10.5l3.1 -4.2l-2.6 11z" fill="#f6db24" stroke-width=".60"/>
<path d="M53.7 191.7l2.5 -13l3.1 -2.1l-2.5 12.9z" fill="#bebc61" stroke-width=".76"/>
<path d="M165 171.3l2.5 25.2l1.9 7.1l0.7 -0.4l-2.1 -22.6z" fill="#d4bb58" stroke-width=".73"/>
<path d="M161 28.6l2.6 3.3l3.1 -1.6l-2.6 -4.4z" fill="#f9fb0e" stroke-width=".54"/>
<path d="M165.5 151.2l2.5 29.4l3.1 10l-2.5 -26.9z" fill="#e7b94f" stroke-width=".70"/>
<path d="M86.4 146.1l2.5 -12.7l3.1 -2.3l-2.5 12.6z" fill="#e9b94e" stroke-width=".70"/>
<path d="M119.1 100.6l2.6 -9.8l3 -3.1l-2.5 9.9z" fill="#fec932" stroke-width=".64"/>
<path d="M166 127.7l2.6 36l3 11.1l-2.5 -32.1z" fill="#fbbc41" stroke-width=".67"/>
<path d="M137 74.2l2.6 -10.1l3 -4.1l-2.5 10.5z" fill="#f7d925" stroke-width=".60"/>
<path d="M68.5 170.2l2.6 -12.8l3 -2.2l-2.5 12.9z" fill="#d3bb58" stroke-width=".73"/>
<path d="M168.7 50.8l2.5 14.3l3.1 3.9l-2.6 -15.6z" fill="#f5eb18" stroke-width=".57"/>
<path d="M101.2 124l2.6 -9.4l3 -2.6l-2.5 9.5z" fill="#fbbc41" stroke-width=".67"/>
<path d="M158 35.1l2.5 -1.8l3.1 -1.4l-2.6 -3.3z" fill="#f8f710" stroke-width=".55"/>
<path d="M50.6 193.9l2.6 -13.1l3 -2.1l-2.5 13z" fill="#bcbd62" stroke-width=".77"/>
<path d="M163.6 31.9l2.5 6.8l3.1 0.5l-2.5 -8.9z" fill="#f9fb0e" stroke-width=".54"/>
<path d="M166.6 103.2l2.5 39.5l3.1 14.2l-2.6 -39.1z" fill="#fdca31" stroke-width=".64"/>
<path d="M116 103.6l2.6 -9.6l3.1 -3.2l-2.6 9.8z" fill="#fec833" stroke-width=".64"/>
<path d="M166.1 38.7l2.6 12.1l3 2.6l-2.5 -14.2z" fill="#f7f511" stroke-width=".55"/>
<path d="M83.3 148.5l2.6 -12.8l3 -2.3l-2.5 12.7z" fill="#e7b94f" stroke-width=".70"/>
<path d="M133.9 77.7l2.6 -9.7l3.1 -3.9l-2.6 10.1z" fill="#f8d727" stroke-width=".61"/>
<path d="M164.4 187.4l1.7 18.1l2 -1.2l-0.6 -7.8z" fill="#c5bc5e" stroke-width=".75"/>
<path d="M65.4 172.4l2.6 -12.9l3.1 -2.1l-2.6 12.8z" fill="#d1bb59" stroke-width=".74"/>
<path d="M154.9 41l2.5 -6.4l3.1 -1.3l-2.5 1.8z" fill="#f6f213" stroke-width=".56"/>
<path d="M98.2 126.3l2.5 -9.3l3.1 -2.4l-2.6 9.4z" fill="#fabc42" stroke-width=".67"/>
<path d="M168.1 62.1l2.6 15.3l3 6.7l-2.5 -19z" fill="#f5e31e" stroke-width=".58"/>
<path d="M167.1 85.3l2.5 32.5l3.1 17.1l-2.5 -41.7z" fill="#f9d528" stroke-width=".61"/>
<path d="M130.9 81.1l2.5 -9.4l3.1 -3.7l-2.6 9.7z" fill="#f9d528" stroke-width=".61"/>
<path d="M113 106.5l2.5 -9.4l3.1 -3.1l-2.6 9.6z" fill="#fec634" stroke-width=".65"/>
<path d="M47.6 196.1l2.5 -13.2l3.1 -2.1l-2.6 13.1z" fill="#bbbd62" stroke-width=".77"/>
<path d="M167.6 73.1l2.6 20.1l3 15.5l-2.5 -31.3z" fill="#f6dc23" stroke-width=".60"/>
<path d="M80.3 150.8l2.5 -12.9l3.1 -2.2l-2.6 12.8z" fill="#e5b950" stroke-width=".71"/>
<path d="M151.8 46.3l2.6 -10.3l3 -1.4l-2.5 6.4z" fill="#f5ee16" stroke-width=".56"/>
<path d="M160.5 33.3l2.6 5.3l3 0.1l-2.5 -6.8z" fill="#f9fa0e" stroke-width=".55"/>
<path d="M165.6 48.3l2.5 13.8l3.1 3l-2.5 -14.3z" fill="#f5ee16" stroke-width=".56"/>
<path d="M62.4 174.5l2.5 -12.9l3.1 -2.1l-2.6 12.9z" fill="#d0bb5a" stroke-width=".74"/>
<path d="M95.1 128.7l2.5 -9.4l3.1 -2.3l-2.5 9.3z" fill="#f9bb43" stroke-width=".68"/>
<path d="M127.8 84.5l2.5 -9.2l3.1 -3.6l-2.5 9.4z" fill="#f9d329" stroke-width=".62"/>
<path d="M109.9 109.3l2.5 -9.2l3.1 -3l-2.5 9.4z" fill="#fec536" stroke-width=".65"/>
<path d="M163.1 38.6l2.5 9.7l3.1 2.5l-2.6 -12.1z" fill="#f7f611" stroke-width=".55"/>
<path d="M148.8 51.3l2.5 -10.9l3.1 -4.4l-2.6 10.3z" fill="#f5ea19" stroke-width=".57"/>
<path d="M44.5 198.3l2.5 -13.3l3.1 -2.1l-2.5 13.2z" fill="#b9bd63" stroke-width=".77"/>
<path d="M77.2 153l2.5 -12.9l3.1 -2.2l-2.5 12.9z" fill="#e4b951" stroke-width=".71"/>
<path d="M124.7 87.7l2.6 -9l3 -3.4l-2.5 9.2z" fill="#fad22b" stroke-width=".62"/>
<path d="M145.7 55.8l2.5 -10.9l3.1 -4.5l-2.5 10.9z" fill="#f5e71b" stroke-width=".58"/>
<path d="M92 131.1l2.6 -9.5l3 -2.3l-2.5 9.4z" fill="#f7ba45" stroke-width=".68"/>
<path d="M59.3 176.6l2.5 -12.9l3.1 -2.1l-2.5 12.9z" fill="#cebb5a" stroke-width=".74"/>
<path d="M157.4 34.6l2.6 4.1l3.1 -0.1l-2.6 -5.3z" fill="#f9fa0e" stroke-width=".55"/>
<path d="M106.8 112l2.6 -9.1l3 -2.8l-2.5 9.2z" fill="#ffc337" stroke-width=".65"/>
<path d="M161.9 160.7l2.5 26.7l3.1 9.1l-2.5 -25.2z" fill="#e0ba53" stroke-width=".72"/>
<path d="M162.4 138.6l2.6 32.7l3 9.3l-2.5 -29.4z" fill="#f4ba47" stroke-width=".68"/>
<path d="M163.9 203.1l0.3 3.6l0.6 -0.3z" fill="#b6bd64" stroke-width=".77"/>
<path d="M165.1 59.1l2.5 14l3.1 4.3l-2.6 -15.3z" fill="#f5e61c" stroke-width=".58"/>
<path d="M41.4 200.4l2.6 -13.2l3 -2.2l-2.5 13.3z" fill="#b7bd63" stroke-width=".77"/>
<path d="M161.4 179.1l2.5 24l0.9 3.3l1.3 -0.9l-1.7 -18.1z" fill="#cfbb5a" stroke-width=".74"/>
<path d="M142.6 60l2.6 -10.4l3 -4.7l-2.5 10.9z" fill="#f5e41d" stroke-width=".58"/>
<path d="M74.1 155.2l2.6 -13l3 -2.1l-2.5 12.9z" fill="#e2b951" stroke-width=".71"/>
<path d="M121.7 90.8l2.5 -8.7l3.1 -3.4l-2.6 9z" fill="#fbd02c" stroke-width=".62"/>
<path d="M163 114.2l2.5 37l3.1 12.5l-2.6 -36z" fill="#ffc436" stroke-width=".65"/>
<path d="M162.5 46.5l2.6 12.6l3 3l-2.5 -13.8z" fill="#f6f015" stroke-width=".56"/>
<path d="M160 38.7l2.5 7.8l3.1 1.8l-2.5 -9.7z" fill="#f8f710" stroke-width=".55"/>
<path d="M88.9 133.4l2.6 -9.5l3.1 -2.3l-2.6 9.5z" fill="#f6ba46" stroke-width=".68"/>
<path d="M103.8 114.6l2.5 -9l3.1 -2.7l-2.6 9.1z" fill="#fec238" stroke-width=".66"/>
<path d="M56.2 178.7l2.6 -13.1l3 -1.9l-2.5 12.9z" fill="#cdbb5b" stroke-width=".74"/>
<path d="M139.6 64.1l2.5 -9.8l3.1 -4.7l-2.6 10.4z" fill="#f5e11f" stroke-width=".59"/>
<path d="M154.4 36l2.5 3.2l3.1 -0.5l-2.6 -4.1z" fill="#f8f90f" stroke-width=".55"/>
<path d="M38.3 202.6l2.6 -13.2l3.1 -2.2l-2.6 13.2z" fill="#b6bd64" stroke-width=".78"/>
<path d="M118.6 94l2.5 -8.5l3.1 -3.4l-2.5 8.7z" fill="#fccf2d" stroke-width=".63"/>
<path d="M164.5 69.7l2.6 15.6l3.1 7.9l-2.6 -20.1z" fill="#f5df21" stroke-width=".59"/>
<path d="M163.5 93.6l2.5 34.1l3.1 15l-2.5 -39.5z" fill="#fbd12b" stroke-width=".62"/>
<path d="M71.1 157.4l2.5 -13.2l3.1 -2l-2.6 13z" fill="#e1ba52" stroke-width=".71"/>
<path d="M136.5 68l2.5 -9.1l3.1 -4.6l-2.5 9.8z" fill="#f5df21" stroke-width=".59"/>
<path d="M160.8 194l1.3 13.8l2.1 -1.1l-0.3 -3.6z" fill="#c1bc60" stroke-width=".76"/>
<path d="M164 80.7l2.6 22.5l3 14.6l-2.5 -32.5z" fill="#f7d826" stroke-width=".61"/>
<path d="M85.9 135.7l2.5 -9.7l3.1 -2.1l-2.6 9.5z" fill="#f4ba47" stroke-width=".68"/>
<path d="M100.7 117l2.5 -8.9l3.1 -2.5l-2.5 9z" fill="#fec13a" stroke-width=".66"/>
<path d="M53.2 180.8l2.5 -13.2l3.1 -2l-2.6 13.1z" fill="#cbbb5b" stroke-width=".75"/>
<path d="M115.5 97.1l2.6 -8.4l3 -3.2l-2.5 8.5z" fill="#fccd2e" stroke-width=".63"/>
<path d="M133.4 71.7l2.6 -8.6l3 -4.2l-2.5 9.1z" fill="#f6dc23" stroke-width=".60"/>
<path d="M35.3 204.8l2.5 -13.1l3.1 -2.3l-2.6 13.2z" fill="#b4bd65" stroke-width=".78"/>
<path d="M162 56.2l2.5 13.5l3.1 3.4l-2.5 -14z" fill="#f5e91a" stroke-width=".57"/>
<path d="M151.3 40.4l2.5 -0.5l3.1 -0.7l-2.5 -3.2z" fill="#f7f511" stroke-width=".55"/>
<path d="M156.9 39.2l2.6 6.3l3 1l-2.5 -7.8z" fill="#f8f710" stroke-width=".55"/>
<path d="M68 159.5l2.5 -13.2l3.1 -2.1l-2.5 13.2z" fill="#dfba53" stroke-width=".72"/>
<path d="M159.5 45.5l2.5 10.7l3.1 2.9l-2.6 -12.6z" fill="#f6f214" stroke-width=".56"/>
<path d="M97.6 119.3l2.6 -8.7l3 -2.5l-2.5 8.9z" fill="#fec03b" stroke-width=".66"/>
<path d="M82.8 137.9l2.5 -9.9l3.1 -2l-2.5 9.7z" fill="#f3ba48" stroke-width=".69"/>
<path d="M130.3 75.3l2.6 -8.3l3.1 -3.9l-2.6 8.6z" fill="#f7da24" stroke-width=".60"/>
<path d="M112.4 100.1l2.6 -8.2l3.1 -3.2l-2.6 8.4z" fill="#fdcb30" stroke-width=".63"/>
<path d="M50.1 182.9l2.5 -13.2l3.1 -2.1l-2.5 13.2z" fill="#cabb5c" stroke-width=".75"/>
<path d="M148.2 44.9l2.6 -4.1l3 -0.9l-2.5 0.5z" fill="#f6f214" stroke-width=".56"/>
<path d="M32.2 207l2.5 -13l3.1 -2.3l-2.5 13.1z" fill="#b2bd65" stroke-width=".78"/>
<path d="M158.8 149.4l2.6 29.7l3 8.3l-2.5 -26.7z" fill="#ecb94d" stroke-width=".70"/>
<path d="M158.3 169.7l2.5 24.3l3.1 9.1l-2.5 -24z" fill="#d9ba56" stroke-width=".73"/>
<path d="M64.9 161.6l2.6 -13.3l3 -2l-2.5 13.2z" fill="#deba53" stroke-width=".72"/>
<path d="M127.3 78.7l2.5 -8l3.1 -3.7l-2.6 8.3z" fill="#f7d825" stroke-width=".60"/>
<path d="M159.4 125.9l2.5 34.8l3.1 10.6l-2.6 -32.7z" fill="#febe3d" stroke-width=".66"/>
<path d="M161.5 66.6l2.5 14.1l3.1 4.6l-2.6 -15.6z" fill="#f5e21f" stroke-width=".59"/>
<path d="M94.6 121.6l2.5 -8.6l3.1 -2.4l-2.6 8.7z" fill="#febf3c" stroke-width=".66"/>
<path d="M153.8 39.9l2.6 5l3.1 0.6l-2.6 -6.3z" fill="#f8f710" stroke-width=".55"/>
<path d="M109.4 102.9l2.5 -8.1l3.1 -2.9l-2.6 8.2z" fill="#fdca31" stroke-width=".64"/>
<path d="M79.7 140.1l2.6 -10.1l3 -2l-2.5 9.9z" fill="#f2b949" stroke-width=".69"/>
<path d="M47 185l2.6 -13.2l3 -2.1l-2.5 13.2z" fill="#c8bc5d" stroke-width=".75"/>
<path d="M145.2 49.6l2.5 -7.3l3.1 -1.5l-2.6 4.1z" fill="#f5ee16" stroke-width=".56"/>
<path d="M124.2 82.1l2.5 -7.8l3.1 -3.6l-2.5 8z" fill="#f8d727" stroke-width=".61"/>
<path d="M158.9 53.7l2.6 12.9l3 3.1l-2.5 -13.5z" fill="#f5ec18" stroke-width=".57"/>
<path d="M157.8 185.8l2.5 23.2l0 0l1.8 -1.2l-1.3 -13.8z" fill="#cabb5c" stroke-width=".75"/>
<path d="M156.4 44.9l2.5 8.8l3.1 2.5l-2.5 -10.7z" fill="#f6f313" stroke-width=".56"/>
<path d="M159.9 103.4l2.5 35.2l3.1 12.6l-2.5 -37z" fill="#fdcc2f" stroke-width=".63"/>
<path d="M61.8 163.7l2.6 -13.5l3.1 -1.9l-2.6 13.3z" fill="#ddba54" stroke-width=".72"/>
<path d="M106.3 105.6l2.5 -8.1l3.1 -2.7l-2.5 8.1z" fill="#fec932" stroke-width=".64"/>
<path d="M91.5 123.9l2.5 -8.5l3.1 -2.4l-2.5 8.6z" fill="#fdbe3d" stroke-width=".67"/>
<path d="M160.9 77.1l2.6 16.5l3.1 9.6l-2.6 -22.5z" fill="#f6db23" stroke-width=".60"/>
<path d="M142.1 54.3l2.5 -8.3l3.1 -3.7l-2.5 7.3z" fill="#f5ea19" stroke-width=".57"/>
<path d="M76.7 142.2l2.5 -10.4l3.1 -1.8l-2.6 10.1z" fill="#f0b94a" stroke-width=".69"/>
<path d="M160.4 88.8l2.6 25.4l3 13.5l-2.5 -34.1z" fill="#f9d429" stroke-width=".61"/>
<path d="M44 187.2l2.5 -13.2l3.1 -2.2l-2.6 13.2z" fill="#c7bc5d" stroke-width=".75"/>
<path d="M121.1 85.5l2.6 -7.7l3 -3.5l-2.5 7.8z" fill="#f9d528" stroke-width=".61"/>
<path d="M150.8 40.8l2.5 4l3.1 0.1l-2.6 -5z" fill="#f8f710" stroke-width=".55"/>
<path d="M139 58.9l2.6 -8.8l3 -4.1l-2.5 8.3z" fill="#f5e71b" stroke-width=".58"/>
<path d="M103.2 108.1l2.6 -8l3 -2.6l-2.5 8.1z" fill="#fec833" stroke-width=".64"/>
<path d="M58.8 165.6l2.5 -13.6l3.1 -1.8l-2.6 13.5z" fill="#dbba55" stroke-width=".72"/>
<path d="M88.4 126l2.6 -8.4l3 -2.2l-2.5 8.5z" fill="#fcbd3f" stroke-width=".67"/>
<path d="M157.2 199.8l1 10.4l2.1 -1.2l0 0z" fill="#bdbc61" stroke-width=".77"/>
<path d="M118.1 88.7l2.5 -7.4l3.1 -3.5l-2.6 7.7z" fill="#fad329" stroke-width=".62"/>
<path d="M158.4 63.8l2.5 13.3l3.1 3.6l-2.5 -14.1z" fill="#f5e41d" stroke-width=".58"/>
<path d="M73.6 144.2l2.5 -10.7l3.1 -1.7l-2.5 10.4z" fill="#efb94b" stroke-width=".69"/>
<path d="M40.9 189.4l2.5 -13.2l3.1 -2.2l-2.5 13.2z" fill="#c5bc5e" stroke-width=".75"/>
<path d="M136 63.1l2.5 -8.7l3.1 -4.3l-2.6 8.8z" fill="#f5e41d" stroke-width=".58"/>
<path d="M153.3 44.8l2.6 7.3l3 1.6l-2.5 -8.8z" fill="#f7f412" stroke-width=".56"/>
<path d="M155.9 52.1l2.5 11.7l3.1 2.8l-2.6 -12.9z" fill="#f5ee16" stroke-width=".56"/>
<path d="M147.7 42.3l2.5 3.1l3.1 -0.6l-2.5 -4z" fill="#f7f611" stroke-width=".55"/>
<path d="M100.2 110.6l2.5 -8l3.1 -2.5l-2.6 8z" fill="#fec634" stroke-width=".65"/>
<path d="M115 91.9l2.5 -7.4l3.1 -3.2l-2.5 7.4z" fill="#fad22b" stroke-width=".62"/>
<path d="M132.9 67l2.5 -8.3l3.1 -4.3l-2.5 8.7z" fill="#f5e11f" stroke-width=".59"/>
<path d="M55.7 167.6l2.5 -13.7l3.1 -1.9l-2.5 13.6z" fill="#daba55" stroke-width=".72"/>
<path d="M85.3 128l2.6 -8.3l3.1 -2.1l-2.6 8.4z" fill="#fcbd40" stroke-width=".67"/>
<path d="M155.8 137.5l2.5 32.2l3.1 9.4l-2.6 -29.7z" fill="#f8ba44" stroke-width=".68"/>
<path d="M155.2 158.9l2.6 26.9l3 8.2l-2.5 -24.3z" fill="#e5b950" stroke-width=".71"/>
<path d="M70.5 146.3l2.6 -11l3 -1.8l-2.5 10.7z" fill="#eeb94b" stroke-width=".69"/>
<path d="M37.8 191.7l2.6 -13.2l3 -2.3l-2.5 13.2z" fill="#c4bc5f" stroke-width=".76"/>
<path d="M157.9 74.3l2.5 14.5l3.1 4.8l-2.6 -16.5z" fill="#f6de22" stroke-width=".59"/>
<path d="M154.7 177.4l2.5 22.4l3.1 9.2l-2.5 -23.2z" fill="#d4bb58" stroke-width=".73"/>
<path d="M129.8 70.7l2.6 -7.8l3 -4.2l-2.5 8.3z" fill="#f5df21" stroke-width=".59"/>
<path d="M156.3 115.1l2.5 34.3l3.1 11.3l-2.5 -34.8z" fill="#fec635" stroke-width=".65"/>
<path d="M111.9 94.8l2.6 -7.2l3 -3.1l-2.5 7.4z" fill="#fbd02c" stroke-width=".62"/>
<path d="M97.1 113l2.5 -8l3.1 -2.4l-2.5 8z" fill="#fec535" stroke-width=".65"/>
<path d="M144.6 46l2.6 0.4l3 -1l-2.5 -3.1z" fill="#f6f313" stroke-width=".56"/>
<path d="M150.2 45.4l2.6 6l3.1 0.7l-2.6 -7.3z" fill="#f7f412" stroke-width=".56"/>
<path d="M52.6 169.7l2.6 -13.8l3 -2l-2.5 13.7z" fill="#d9ba56" stroke-width=".73"/>
<path d="M82.3 130l2.5 -8.3l3.1 -2l-2.6 8.3z" fill="#fbbc41" stroke-width=".67"/>
<path d="M155.3 61.3l2.6 13l3 2.8l-2.5 -13.3z" fill="#f5e71b" stroke-width=".58"/>
<path d="M156.8 97.8l2.6 28.1l3 12.7l-2.5 -35.2z" fill="#fbd02c" stroke-width=".62"/>
<path d="M157.3 85.3l2.6 18.1l3.1 10.8l-2.6 -25.4z" fill="#f8d726" stroke-width=".61"/>
<path d="M126.7 74.3l2.6 -7.3l3.1 -4.1l-2.6 7.8z" fill="#f6dd22" stroke-width=".60"/>
<path d="M34.7 194l2.6 -13l3.1 -2.5l-2.6 13.2z" fill="#c2bc5f" stroke-width=".76"/>
<path d="M152.8 51.4l2.5 9.9l3.1 2.5l-2.5 -11.7z" fill="#f6ef16" stroke-width=".56"/>
<path d="M67.5 148.3l2.5 -11.3l3.1 -1.7l-2.6 11z" fill="#ecb94c" stroke-width=".70"/>
<path d="M108.8 97.5l2.6 -7.1l3.1 -2.8l-2.6 7.2z" fill="#fbcf2d" stroke-width=".63"/>
<path d="M154.2 191.9l2.2 19.5l1.8 -1.2l-1 -10.4z" fill="#c7bc5d" stroke-width=".75"/>
<path d="M94 115.4l2.6 -8l3 -2.4l-2.5 8z" fill="#ffc436" stroke-width=".65"/>
<path d="M141.6 50.1l2.5 -2.5l3.1 -1.2l-2.6 -0.4z" fill="#f6f015" stroke-width=".56"/>
<path d="M123.7 77.8l2.5 -6.9l3.1 -3.9l-2.6 7.3z" fill="#f6db24" stroke-width=".60"/>
<path d="M49.6 171.8l2.5 -13.9l3.1 -2l-2.6 13.8z" fill="#d7ba56" stroke-width=".73"/>
<path d="M79.2 131.8l2.5 -8.3l3.1 -1.8l-2.5 8.3z" fill="#fabc42" stroke-width=".67"/>
<path d="M147.2 46.4l2.5 4.8l3.1 0.2l-2.6 -6z" fill="#f7f413" stroke-width=".56"/>
<path d="M64.4 150.2l2.5 -11.6l3.1 -1.6l-2.5 11.3z" fill="#ebb94d" stroke-width=".70"/>
<path d="M105.8 100.1l2.5 -7.1l3.1 -2.6l-2.6 7.1z" fill="#fcce2e" stroke-width=".63"/>
<path d="M154.8 71.8l2.5 13.5l3.1 3.5l-2.5 -14.5z" fill="#f5e020" stroke-width=".59"/>
<path d="M120.6 81.3l2.5 -6.7l3.1 -3.7l-2.5 6.9z" fill="#f7d925" stroke-width=".60"/>
<path d="M138.5 54.4l2.5 -5.1l3.1 -1.7l-2.5 2.5z" fill="#f5ec17" stroke-width=".57"/>
<path d="M91 117.6l2.5 -8l3.1 -2.2l-2.6 8z" fill="#ffc337" stroke-width=".65"/>
<path d="M149.7 51.2l2.6 8.3l3 1.8l-2.5 -9.9z" fill="#f6f015" stroke-width=".56"/>
<path d="M152.3 59.5l2.5 12.3l3.1 2.5l-2.6 -13z" fill="#f5e919" stroke-width=".57"/>
<path d="M46.5 174l2.5 -13.9l3.1 -2.2l-2.5 13.9z" fill="#d6ba57" stroke-width=".73"/>
<path d="M76.1 133.5l2.6 -8.3l3 -1.7l-2.5 8.3z" fill="#f9bb42" stroke-width=".67"/>
<path d="M152.2 147.8l2.5 29.6l3.1 8.4l-2.6 -26.9z" fill="#f1b94a" stroke-width=".69"/>
<path d="M117.5 84.5l2.6 -6.5l3 -3.4l-2.5 6.7z" fill="#f8d726" stroke-width=".61"/>
<path d="M135.4 58.7l2.6 -6.2l3 -3.2l-2.5 5.1z" fill="#f5e91a" stroke-width=".57"/>
<path d="M102.7 102.6l2.6 -7.1l3 -2.5l-2.5 7.1z" fill="#fccc2f" stroke-width=".63"/>
<path d="M61.3 152l2.6 -11.9l3 -1.5l-2.5 11.6z" fill="#eab94e" stroke-width=".70"/>
<path d="M152.7 126.4l2.5 32.5l3.1 10.8l-2.5 -32.2z" fill="#fec03b" stroke-width=".66"/>
<path d="M144.1 47.6l2.5 4l3.1 -0.4l-2.5 -4.8z" fill="#f6f313" stroke-width=".56"/>
<path d="M151.6 167.4l2.6 24.5l3 7.9l-2.5 -22.4z" fill="#dfba53" stroke-width=".72"/>
<path d="M87.9 119.7l2.5 -8l3.1 -2.1l-2.5 8z" fill="#ffc238" stroke-width=".66"/>
<path d="M154.3 82.5l2.5 15.3l3.1 5.6l-2.6 -18.1z" fill="#f7da25" stroke-width=".60"/>
<path d="M153.6 205.3l0.7 7.2l1.5 -0.8z" fill="#babd62" stroke-width=".77"/>
<path d="M153.2 107.3l2.6 30.2l3 11.9l-2.5 -34.3z" fill="#fdcb30" stroke-width=".63"/>
<path d="M43.4 176.2l2.6 -13.8l3 -2.3l-2.5 13.9z" fill="#d4bb58" stroke-width=".73"/>
<path d="M151.1 184.3l2.5 21l2.2 6.4l0.6 -0.3l-2.2 -19.5z" fill="#cfbb5a" stroke-width=".74"/>
<path d="M132.4 62.9l2.5 -6.9l3.1 -3.5l-2.6 6.2z" fill="#f5e61c" stroke-width=".58"/>
<path d="M114.5 87.6l2.5 -6.4l3.1 -3.2l-2.6 6.5z" fill="#f8d628" stroke-width=".61"/>
<path d="M153.7 94.1l2.6 21l3.1 10.8l-2.6 -28.1z" fill="#fad32a" stroke-width=".62"/>
<path d="M73.1 135.3l2.5 -8.4l3.1 -1.7l-2.6 8.3z" fill="#f9bb43" stroke-width=".68"/>
<path d="M99.6 105l2.6 -7l3.1 -2.5l-2.6 7.1z" fill="#fdcb30" stroke-width=".63"/>
<path d="M151.7 69.6l2.6 12.9l3 2.8l-2.5 -13.5z" fill="#f5e21e" stroke-width=".58"/>
<path d="M146.6 51.6l2.6 7.1l3.1 0.8l-2.6 -8.3z" fill="#f6f015" stroke-width=".56"/>
<path d="M58.2 153.9l2.6 -12.3l3.1 -1.5l-2.6 11.9z" fill="#e9b94e" stroke-width=".70"/>
<path d="M84.8 121.7l2.6 -8.1l3 -1.9l-2.5 8z" fill="#fec139" stroke-width=".66"/>
<path d="M129.3 67l2.5 -7.3l3.1 -3.7l-2.5 6.9z" fill="#f5e31e" stroke-width=".58"/>
<path d="M149.2 58.7l2.5 10.9l3.1 2.2l-2.5 -12.3z" fill="#f5eb18" stroke-width=".57"/>
<path d="M141 49.3l2.6 3.1l3 -0.8l-2.5 -4z" fill="#f6f214" stroke-width=".56"/>
<path d="M40.4 178.5l2.5 -13.7l3.1 -2.4l-2.6 13.8z" fill="#d2bb58" stroke-width=".74"/>
<path d="M111.4 90.4l2.5 -6.3l3.1 -2.9l-2.5 6.4z" fill="#f9d429" stroke-width=".61"/>
<path d="M96.6 107.4l2.5 -7l3.1 -2.4l-2.6 7z" fill="#fdca31" stroke-width=".64"/>
<path d="M70 137l2.5 -8.5l3.1 -1.6l-2.5 8.4z" fill="#f8ba44" stroke-width=".68"/>
<path d="M126.2 70.9l2.6 -7.2l3 -4l-2.5 7.3z" fill="#f5e11f" stroke-width=".59"/>
<path d="M55.2 155.9l2.5 -12.6l3.1 -1.7l-2.6 12.3z" fill="#e8b94f" stroke-width=".70"/>
<path d="M150.6 197.4l1.8 16.3l1.9 -1.2l-0.7 -7.2z" fill="#c3bc5f" stroke-width=".76"/>
<path d="M81.7 123.5l2.6 -8.1l3.1 -1.8l-2.6 8.1z" fill="#fec13a" stroke-width=".66"/>
<path d="M151.2 80.2l2.5 13.9l3.1 3.7l-2.5 -15.3z" fill="#f6dc23" stroke-width=".60"/>
<path d="M138 52.5l2.5 1l3.1 -1.1l-2.6 -3.1z" fill="#f6f015" stroke-width=".56"/>
<path d="M108.3 93l2.6 -6.3l3 -2.6l-2.5 6.3z" fill="#fad32a" stroke-width=".62"/>
<path d="M143.6 52.4l2.5 5.9l3.1 0.4l-2.6 -7.1z" fill="#f6f015" stroke-width=".56"/>
<path d="M37.3 181l2.5 -13.6l3.1 -2.6l-2.5 13.7z" fill="#d1bb59" stroke-width=".74"/>
<path d="M123.1 74.6l2.6 -6.8l3.1 -4.1l-2.6 7.2z" fill="#f5de21" stroke-width=".59"/>
<path d="M93.5 109.6l2.5 -7l3.1 -2.2l-2.5 7z" fill="#fec932" stroke-width=".64"/>
<path d="M148.7 67.6l2.5 12.6l3.1 2.3l-2.6 -12.9z" fill="#f5e41d" stroke-width=".58"/>
<path d="M146.1 58.3l2.6 9.3l3 2l-2.5 -10.9z" fill="#f5ec18" stroke-width=".57"/>
<path d="M66.9 138.6l2.6 -8.7l3 -1.4l-2.5 8.5z" fill="#f7ba45" stroke-width=".68"/>
<path d="M149.1 136.9l2.5 30.5l3.1 10l-2.5 -29.6z" fill="#fabc41" stroke-width=".67"/>
<path d="M52.1 157.9l2.5 -12.8l3.1 -1.8l-2.5 12.6z" fill="#e6b94f" stroke-width=".71"/>
<path d="M120.1 78l2.5 -6.3l3.1 -3.9l-2.6 6.8z" fill="#f6dc22" stroke-width=".60"/>
<path d="M148.6 157.2l2.5 27.1l3.1 7.6l-2.6 -24.5z" fill="#eab94e" stroke-width=".70"/>
<path d="M150.7 91l2.5 16.3l3.1 7.8l-2.6 -21z" fill="#f9d528" stroke-width=".61"/>
<path d="M105.3 95.5l2.5 -6.2l3.1 -2.6l-2.6 6.3z" fill="#fad22b" stroke-width=".62"/>
<path d="M134.9 56l2.5 -1.2l3.1 -1.3l-2.5 -1z" fill="#f5ed17" stroke-width=".57"/>
<path d="M78.7 125.2l2.5 -8.1l3.1 -1.7l-2.6 8.1z" fill="#fec03b" stroke-width=".66"/>
<path d="M149.6 117.1l2.6 30.7l3 11.1l-2.5 -32.5z" fill="#fec734" stroke-width=".65"/>
<path d="M150.1 102.9l2.6 23.5l3.1 11.1l-2.6 -30.2z" fill="#fbcf2d" stroke-width=".63"/>
<path d="M140.5 53.5l2.5 4.8l3.1 0l-2.5 -5.9z" fill="#f6f015" stroke-width=".56"/>
<path d="M90.4 111.7l2.6 -7l3 -2.1l-2.5 7z" fill="#fec832" stroke-width=".64"/>
<path d="M148 175l2.6 22.4l3 7.9l-2.5 -21z" fill="#daba55" stroke-width=".72"/>
<path d="M117 81.2l2.5 -5.9l3.1 -3.6l-2.5 6.3z" fill="#f7db24" stroke-width=".60"/>
<path d="M63.9 140.1l2.5 -8.9l3.1 -1.3l-2.6 8.7z" fill="#f7ba45" stroke-width=".68"/>
<path d="M49 160.1l2.6 -13l3 -2l-2.5 12.8z" fill="#e5b950" stroke-width=".71"/>
<path d="M102.2 98l2.5 -6.2l3.1 -2.5l-2.5 6.2z" fill="#fbd12c" stroke-width=".62"/>
<path d="M131.8 59.7l2.6 -3.3l3 -1.6l-2.5 1.2z" fill="#f5ea19" stroke-width=".57"/>
<path d="M148.1 78l2.6 13l3 3.1l-2.5 -13.9z" fill="#f6de21" stroke-width=".59"/>
<path d="M75.6 126.9l2.6 -8.1l3 -1.7l-2.5 8.1z" fill="#febf3c" stroke-width=".66"/>
<path d="M143 58.3l2.6 7.9l3.1 1.4l-2.6 -9.3z" fill="#f5ec17" stroke-width=".57"/>
<path d="M145.6 66.2l2.5 11.8l3.1 2.2l-2.5 -12.6z" fill="#f5e61b" stroke-width=".58"/>
<path d="M147.5 189.8l2.5 19.8l1.5 4.8l0.9 -0.7l-1.8 -16.3z" fill="#ccbb5b" stroke-width=".74"/>
<path d="M150 209.6l0.6 5.3l0.9 -0.5z" fill="#b8bd63" stroke-width=".77"/>
<path d="M113.9 84.1l2.6 -5.7l3 -3.1l-2.5 5.9z" fill="#f7d925" stroke-width=".60"/>
<path d="M87.4 113.6l2.5 -7.1l3.1 -1.8l-2.6 7z" fill="#fec733" stroke-width=".64"/>
<path d="M137.4 54.8l2.6 3.9l3 -0.4l-2.5 -4.8z" fill="#f6ef15" stroke-width=".56"/>
<path d="M128.8 63.7l2.5 -4.4l3.1 -2.9l-2.6 3.3z" fill="#f5e71b" stroke-width=".58"/>
<path d="M99.1 100.4l2.6 -6.3l3 -2.3l-2.5 6.2z" fill="#fbcf2c" stroke-width=".63"/>
<path d="M60.8 141.6l2.5 -9.2l3.1 -1.2l-2.5 8.9z" fill="#f6ba46" stroke-width=".68"/>
<path d="M46 162.4l2.5 -13.2l3.1 -2.1l-2.6 13z" fill="#e3b951" stroke-width=".71"/>
<path d="M72.5 128.5l2.6 -8.1l3.1 -1.6l-2.6 8.1z" fill="#febf3c" stroke-width=".66"/>
<path d="M147.6 88.4l2.5 14.5l3.1 4.4l-2.5 -16.3z" fill="#f8d826" stroke-width=".61"/>
<path d="M110.9 86.7l2.5 -5.6l3.1 -2.7l-2.6 5.7z" fill="#f7d826" stroke-width=".61"/>
<path d="M125.7 67.8l2.5 -5.2l3.1 -3.3l-2.5 4.4z" fill="#f5e51d" stroke-width=".58"/>
<path d="M84.3 115.4l2.5 -7.2l3.1 -1.7l-2.5 7.1z" fill="#fec734" stroke-width=".65"/>
<path d="M140 58.7l2.5 6.8l3.1 0.7l-2.6 -7.9z" fill="#f5ed17" stroke-width=".57"/>
<path d="M96 102.6l2.6 -6.3l3.1 -2.2l-2.6 6.3z" fill="#fcce2d" stroke-width=".63"/>
<path d="M145.1 75.8l2.5 12.6l3.1 2.6l-2.6 -13z" fill="#f5e020" stroke-width=".59"/>
<path d="M42.9 164.8l2.5 -13.3l3.1 -2.3l-2.5 13.2z" fill="#e2b952" stroke-width=".71"/>
<path d="M134.4 56.4l2.5 3.1l3.1 -0.8l-2.6 -3.9z" fill="#f5ee16" stroke-width=".56"/>
<path d="M142.5 65.5l2.6 10.3l3 2.2l-2.5 -11.8z" fill="#f5e81b" stroke-width=".58"/>
<path d="M57.7 143.3l2.6 -9.5l3 -1.4l-2.5 9.2z" fill="#f5ba47" stroke-width=".68"/>
<path d="M147.1 99.4l2.5 17.7l3.1 9.3l-2.6 -23.5z" fill="#fad22b" stroke-width=".62"/>
<path d="M147 201.3l1.8 14.9l1.8 -1.3l-0.6 -5.3z" fill="#c2bc5f" stroke-width=".76"/>
<path d="M145.5 146.6l2.5 28.4l3.1 9.3l-2.5 -27.1z" fill="#f5ba47" stroke-width=".68"/>
<path d="M122.6 71.7l2.6 -5.9l3 -3.2l-2.5 5.2z" fill="#f5e21e" stroke-width=".59"/>
<path d="M146 127.6l2.6 29.6l3 10.2l-2.5 -30.5z" fill="#fec139" stroke-width=".66"/>
<path d="M107.8 89.3l2.5 -5.5l3.1 -2.7l-2.5 5.6z" fill="#f8d727" stroke-width=".61"/>
<path d="M146.5 111.7l2.6 25.2l3.1 10.9l-2.6 -30.7z" fill="#fdcb30" stroke-width=".64"/>
<path d="M69.5 129.9l2.5 -8.2l3.1 -1.3l-2.6 8.1z" fill="#febf3d" stroke-width=".66"/>
<path d="M81.2 117.1l2.6 -7.3l3 -1.6l-2.5 7.2z" fill="#fec634" stroke-width=".65"/>
<path d="M145 164.8l2.5 25l3.1 7.6l-2.6 -22.4z" fill="#e5b950" stroke-width=".71"/>
<path d="M39.8 167.4l2.6 -13.3l3 -2.6l-2.5 13.3z" fill="#e0ba53" stroke-width=".72"/>
<path d="M93 104.7l2.5 -6.3l3.1 -2.1l-2.6 6.3z" fill="#fcce2e" stroke-width=".63"/>
<path d="M119.5 75.3l2.6 -6.1l3.1 -3.4l-2.6 5.9z" fill="#f5e020" stroke-width=".59"/>
<path d="M131.3 59.3l2.5 1.4l3.1 -1.2l-2.5 -3.1z" fill="#f5ec17" stroke-width=".57"/>
<path d="M136.9 59.5l2.5 5.7l3.1 0.3l-2.5 -6.8z" fill="#f5ec17" stroke-width=".57"/>
<path d="M54.6 145.1l2.6 -9.8l3.1 -1.5l-2.6 9.5z" fill="#f4ba47" stroke-width=".68"/>
<path d="M104.7 91.8l2.6 -5.5l3 -2.5l-2.5 5.5z" fill="#f9d528" stroke-width=".61"/>
<path d="M144.5 86.1l2.6 13.3l3 3.5l-2.5 -14.5z" fill="#f7da24" stroke-width=".60"/>
<path d="M66.4 131.2l2.5 -8.3l3.1 -1.2l-2.5 8.2z" fill="#fdbe3d" stroke-width=".67"/>
<path d="M144.4 180.5l2.6 20.8l3 8.3l-2.5 -19.8z" fill="#d7ba57" stroke-width=".73"/>
<path d="M139.4 65.2l2.6 8.9l3.1 1.7l-2.6 -10.3z" fill="#f5e81a" stroke-width=".57"/>
<path d="M142 74.1l2.5 12l3.1 2.3l-2.5 -12.6z" fill="#f5e21f" stroke-width=".59"/>
<path d="M116.5 78.4l2.5 -6l3.1 -3.2l-2.6 6.1z" fill="#f5de21" stroke-width=".59"/>
<path d="M78.2 118.8l2.5 -7.5l3.1 -1.5l-2.6 7.3z" fill="#fec535" stroke-width=".65"/>
<path d="M89.9 106.5l2.5 -6.4l3.1 -1.7l-2.5 6.3z" fill="#fccd2e" stroke-width=".63"/>
<path d="M128.2 62.6l2.6 -0.4l3 -1.5l-2.5 -1.4z" fill="#f5ea19" stroke-width=".57"/>
<path d="M101.7 94.1l2.5 -5.5l3.1 -2.3l-2.6 5.5z" fill="#f9d429" stroke-width=".61"/>
<path d="M51.6 147.1l2.5 -10.1l3.1 -1.7l-2.6 9.8z" fill="#f3b948" stroke-width=".69"/>
<path d="M133.8 60.7l2.6 4.7l3 -0.2l-2.5 -5.7z" fill="#f5ec18" stroke-width=".57"/>
<path d="M144 96.7l2.5 15l3.1 5.4l-2.5 -17.7z" fill="#f9d429" stroke-width=".62"/>
<path d="M113.4 81.1l2.5 -5.6l3.1 -3.1l-2.5 6z" fill="#f6dd22" stroke-width=".60"/>
<path d="M63.3 132.4l2.6 -8.2l3 -1.3l-2.5 8.3z" fill="#fdbe3e" stroke-width=".67"/>
<path d="M143.9 193.2l2.5 18.7l1.5 5l0.9 -0.7l-1.8 -14.9z" fill="#cbbb5c" stroke-width=".75"/>
<path d="M75.1 120.4l2.5 -7.7l3.1 -1.4l-2.5 7.5z" fill="#fec536" stroke-width=".65"/>
<path d="M146.4 211.9l0.6 5.5l0.9 -0.5z" fill="#b8bd63" stroke-width=".77"/>
<path d="M86.8 108.2l2.6 -6.4l3 -1.7l-2.5 6.4z" fill="#fccc2f" stroke-width=".63"/>
<path d="M125.2 65.8l2.5 -1.9l3.1 -1.7l-2.6 0.4z" fill="#f5e81a" stroke-width=".57"/>
<path d="M98.6 96.3l2.5 -5.5l3.1 -2.2l-2.5 5.5z" fill="#f9d329" stroke-width=".62"/>
<path d="M143.5 108l2.5 19.6l3.1 9.3l-2.6 -25.2z" fill="#fcce2e" stroke-width=".63"/>
<path d="M141.5 84.1l2.5 12.6l3.1 2.7l-2.6 -13.3z" fill="#f6dc23" stroke-width=".60"/>
<path d="M136.4 65.4l2.5 7.6l3.1 1.1l-2.6 -8.9z" fill="#f5e91a" stroke-width=".57"/>
<path d="M48.5 149.2l2.5 -10.5l3.1 -1.7l-2.5 10.1z" fill="#f1b949" stroke-width=".69"/>
<path d="M110.3 83.8l2.6 -5.3l3 -3l-2.5 5.6z" fill="#f6db23" stroke-width=".60"/>
<path d="M142.9 120.5l2.6 26.1l3.1 10.6l-2.6 -29.6z" fill="#fec734" stroke-width=".65"/>
<path d="M138.9 73l2.6 11.1l3 2l-2.5 -12z" fill="#f5e31e" stroke-width=".58"/>
<path d="M142.4 136.8l2.6 28l3 10.2l-2.5 -28.4z" fill="#fdbd3e" stroke-width=".67"/>
<path d="M130.8 62.2l2.5 3.8l3.1 -0.6l-2.6 -4.7z" fill="#f5eb18" stroke-width=".57"/>
<path d="M60.3 133.8l2.5 -8.3l3.1 -1.3l-2.6 8.2z" fill="#fdbe3e" stroke-width=".67"/>
<path d="M122.1 69.2l2.5 -3.1l3.1 -2.2l-2.5 1.9z" fill="#f5e61c" stroke-width=".58"/>
<path d="M141.9 153.9l2.5 26.6l3.1 9.3l-2.5 -25z" fill="#f0b94a" stroke-width=".69"/>
<path d="M72 121.7l2.6 -7.8l3 -1.2l-2.5 7.7z" fill="#ffc436" stroke-width=".65"/>
<path d="M83.8 109.8l2.5 -6.5l3.1 -1.5l-2.6 6.4z" fill="#fdcc30" stroke-width=".63"/>
<path d="M95.5 98.4l2.6 -5.6l3 -2l-2.5 5.5z" fill="#fad22a" stroke-width=".62"/>
<path d="M107.3 86.3l2.5 -5l3.1 -2.8l-2.6 5.3z" fill="#f7da24" stroke-width=".60"/>
<path d="M45.4 151.5l2.6 -10.8l3 -2l-2.5 10.5z" fill="#f0b94a" stroke-width=".69"/>
<path d="M140.9 94.3l2.6 13.7l3 3.7l-2.5 -15z" fill="#f8d627" stroke-width=".61"/>
<path d="M133.3 66l2.6 6.6l3 0.4l-2.5 -7.6z" fill="#f5e91a" stroke-width=".57"/>
<path d="M143.4 203.3l2 15.5l1.6 -1.4l-0.6 -5.5z" fill="#c2bc5f" stroke-width=".76"/>
<path d="M141.4 169.6l2.5 23.6l3.1 8.1l-2.6 -20.8z" fill="#e2b951" stroke-width=".71"/>
<path d="M119 72.4l2.6 -3.9l3 -2.4l-2.5 3.1z" fill="#f5e41d" stroke-width=".58"/>
<path d="M127.7 63.9l2.5 3l3.1 -0.9l-2.5 -3.8z" fill="#f5ea19" stroke-width=".57"/>
<path d="M57.2 135.3l2.5 -8.3l3.1 -1.5l-2.5 8.3z" fill="#fcbd3f" stroke-width=".67"/>
<path d="M138.4 82.3l2.5 12l3.1 2.4l-2.5 -12.6z" fill="#f6de22" stroke-width=".59"/>
<path d="M135.9 72.6l2.5 9.7l3.1 1.8l-2.6 -11.1z" fill="#f5e41d" stroke-width=".58"/>
<path d="M92.4 100.1l2.6 -5.5l3.1 -1.8l-2.6 5.6z" fill="#fad22b" stroke-width=".62"/>
<path d="M68.9 122.9l2.6 -7.9l3.1 -1.1l-2.6 7.8z" fill="#ffc436" stroke-width=".65"/>
<path d="M80.7 111.3l2.5 -6.6l3.1 -1.4l-2.5 6.5z" fill="#fdcb30" stroke-width=".64"/>
<path d="M104.2 88.6l2.5 -4.9l3.1 -2.4l-2.5 5z" fill="#f7d925" stroke-width=".60"/>
<path d="M42.4 154.1l2.5 -11.2l3.1 -2.2l-2.6 10.8z" fill="#eeb94b" stroke-width=".69"/>
<path d="M115.9 75.5l2.6 -4.8l3.1 -2.2l-2.6 3.9z" fill="#f5e21f" stroke-width=".59"/>
<path d="M140.4 104.9l2.5 15.6l3.1 7.1l-2.5 -19.6z" fill="#fbd02c" stroke-width=".62"/>
<path d="M140.8 183.4l2.6 19.9l3 8.6l-2.5 -18.7z" fill="#d6ba57" stroke-width=".73"/>
<path d="M124.6 66.1l2.6 1.7l3 -0.9l-2.5 -3z" fill="#f5e91a" stroke-width=".57"/>
<path d="M130.2 66.9l2.6 5.5l3.1 0.2l-2.6 -6.6z" fill="#f5e91a" stroke-width=".57"/>
<path d="M54.1 137l2.6 -8.4l3 -1.6l-2.5 8.3z" fill="#fcbd40" stroke-width=".67"/>
<path d="M101.1 90.8l2.6 -4.8l3 -2.3l-2.5 4.9z" fill="#f8d826" stroke-width=".61"/>
<path d="M89.4 101.8l2.5 -5.7l3.1 -1.5l-2.6 5.5z" fill="#fad12b" stroke-width=".62"/>
<path d="M77.6 112.7l2.6 -6.6l3 -1.4l-2.5 6.6z" fill="#fdcb30" stroke-width=".64"/>
<path d="M65.9 124.2l2.5 -8.1l3.1 -1.1l-2.6 7.9z" fill="#ffc437" stroke-width=".65"/>
<path d="M139.9 115.9l2.5 20.9l3.1 9.8l-2.6 -26.1z" fill="#fdca31" stroke-width=".64"/>
<path d="M112.9 78.5l2.5 -5.3l3.1 -2.5l-2.6 4.8z" fill="#f5e020" stroke-width=".59"/>
<path d="M137.9 92.1l2.5 12.8l3.1 3.1l-2.6 -13.7z" fill="#f7d826" stroke-width=".61"/>
<path d="M132.8 72.4l2.5 8.4l3.1 1.5l-2.5 -9.7z" fill="#f5e51c" stroke-width=".58"/>
<path d="M135.3 80.8l2.6 11.3l3 2.2l-2.5 -12z" fill="#f5df20" stroke-width=".59"/>
<path d="M139.3 128.1l2.5 25.8l3.1 10.9l-2.6 -28z" fill="#ffc337" stroke-width=".65"/>
<path d="M121.6 68.5l2.5 0.2l3.1 -0.9l-2.6 -1.7z" fill="#f5e81a" stroke-width=".58"/>
<path d="M51 138.7l2.6 -8.4l3.1 -1.7l-2.6 8.4z" fill="#fbbc41" stroke-width=".67"/>
<path d="M98.1 92.8l2.5 -4.8l3.1 -2l-2.6 4.8z" fill="#f8d727" stroke-width=".61"/>
<path d="M138.8 143.2l2.6 26.4l3 10.9l-2.5 -26.6z" fill="#fabc42" stroke-width=".67"/>
<path d="M140.3 194.9l2.5 17.5l2.1 6.8l0.5 -0.4l-2 -15.5z" fill="#ccbb5b" stroke-width=".74"/>
<path d="M86.3 103.3l2.5 -5.8l3.1 -1.4l-2.5 5.7z" fill="#fbd12b" stroke-width=".62"/>
<path d="M127.2 67.8l2.5 4.6l3.1 0l-2.6 -5.5z" fill="#f5e91a" stroke-width=".57"/>
<path d="M109.8 81.3l2.5 -5.5l3.1 -2.6l-2.5 5.3z" fill="#f5de21" stroke-width=".59"/>
<path d="M142.8 212.4l0.9 7.7l1.2 -0.9z" fill="#babd62" stroke-width=".77"/>
<path d="M74.6 113.9l2.5 -6.8l3.1 -1l-2.6 6.6z" fill="#fdca31" stroke-width=".64"/>
<path d="M62.8 125.5l2.5 -8.1l3.1 -1.3l-2.5 8.1z" fill="#ffc337" stroke-width=".65"/>
<path d="M137.3 101.9l2.6 14l3 4.6l-2.5 -15.6z" fill="#fad22a" stroke-width=".62"/>
<path d="M138.3 158.4l2.5 25l3.1 9.8l-2.5 -23.6z" fill="#eeb94b" stroke-width=".69"/>
<path d="M118.5 70.7l2.5 -1l3.1 -1l-2.5 -0.2z" fill="#f5e61b" stroke-width=".58"/>
<path d="M95 94.6l2.5 -4.9l3.1 -1.7l-2.5 4.8z" fill="#f8d627" stroke-width=".61"/>
<path d="M48 140.7l2.5 -8.5l3.1 -1.9l-2.6 8.4z" fill="#fabc42" stroke-width=".67"/>
<path d="M129.7 72.4l2.6 7.2l3 1.2l-2.5 -8.4z" fill="#f5e61c" stroke-width=".58"/>
<path d="M106.7 83.7l2.6 -5.2l3 -2.7l-2.5 5.5z" fill="#f6dd22" stroke-width=".60"/>
<path d="M134.8 89.9l2.5 12l3.1 3l-2.5 -12.8z" fill="#f7da24" stroke-width=".60"/>
<path d="M83.2 104.7l2.6 -5.8l3 -1.4l-2.5 5.8z" fill="#fbd02c" stroke-width=".62"/>
<path d="M132.3 79.6l2.5 10.3l3.1 2.2l-2.6 -11.3z" fill="#f5e11f" stroke-width=".59"/>
<path d="M59.7 127l2.6 -8.2l3 -1.4l-2.5 8.1z" fill="#ffc338" stroke-width=".65"/>
<path d="M71.5 115l2.5 -7l3.1 -0.9l-2.5 6.8z" fill="#fdca31" stroke-width=".64"/>
<path d="M124.1 68.7l2.5 3.7l3.1 0l-2.5 -4.6z" fill="#f5e81a" stroke-width=".57"/>
<path d="M136.8 111.9l2.6 16.2l3 8.7l-2.5 -20.9z" fill="#fccd2e" stroke-width=".63"/>
<path d="M137.8 172.2l2.5 22.7l3.1 8.4l-2.6 -19.9z" fill="#e2b951" stroke-width=".71"/>
<path d="M103.7 86l2.5 -5l3.1 -2.5l-2.6 5.2z" fill="#f6dc23" stroke-width=".60"/>
<path d="M115.4 73.2l2.6 -2l3 -1.5l-2.5 1z" fill="#f5e51c" stroke-width=".58"/>
<path d="M44.9 142.9l2.5 -8.6l3.1 -2.1l-2.5 8.5z" fill="#f9bb43" stroke-width=".68"/>
<path d="M91.9 96.1l2.6 -5l3 -1.4l-2.5 4.9z" fill="#f8d628" stroke-width=".61"/>
<path d="M80.2 106.1l2.5 -6l3.1 -1.2l-2.6 5.8z" fill="#fbd02c" stroke-width=".62"/>
<path d="M139.8 203.7l2.5 17.3l0.1 0.4l1.3 -1.3l-0.9 -7.7z" fill="#c5bc5e" stroke-width=".75"/>
<path d="M126.6 72.4l2.6 6.3l3.1 0.9l-2.6 -7.2z" fill="#f5e61c" stroke-width=".58"/>
<path d="M56.7 128.6l2.5 -8.3l3.1 -1.5l-2.6 8.2z" fill="#ffc238" stroke-width=".66"/>
<path d="M68.4 116.1l2.6 -7.2l3 -0.9l-2.5 7z" fill="#fdca31" stroke-width=".64"/>
<path d="M136.3 122.3l2.5 20.9l3.1 10.7l-2.5 -25.8z" fill="#fec733" stroke-width=".64"/>
<path d="M121 69.7l2.6 3l3 -0.3l-2.5 -3.7z" fill="#f5e81a" stroke-width=".57"/>
<path d="M134.3 99.1l2.5 12.8l3.1 4l-2.6 -14z" fill="#f9d528" stroke-width=".61"/>
<path d="M100.6 88l2.5 -4.7l3.1 -2.3l-2.5 5z" fill="#f6db24" stroke-width=".60"/>
<path d="M112.3 75.8l2.6 -2.8l3.1 -1.8l-2.6 2z" fill="#f5e31e" stroke-width=".58"/>
<path d="M142.3 221l0.1 0.5l0 -0.1z" fill="#b3bd65" stroke-width=".78"/>
<path d="M129.2 78.7l2.5 8.9l3.1 2.3l-2.5 -10.3z" fill="#f5e21f" stroke-width=".59"/>
<path d="M131.7 87.6l2.6 11.5l3 2.8l-2.5 -12z" fill="#f6dc23" stroke-width=".60"/>
<path d="M88.8 97.5l2.6 -5l3.1 -1.4l-2.6 5z" fill="#f9d528" stroke-width=".61"/>
<path d="M135.8 133.9l2.5 24.5l3.1 11.2l-2.6 -26.4z" fill="#fec13a" stroke-width=".66"/>
<path d="M137.2 184.3l2.6 19.4l3 8.7l-2.5 -17.5z" fill="#d8ba56" stroke-width=".73"/>
<path d="M77.1 107.1l2.5 -6.1l3.1 -0.9l-2.5 6z" fill="#fbcf2c" stroke-width=".63"/>
<path d="M53.6 130.3l2.5 -8.3l3.1 -1.7l-2.5 8.3z" fill="#fec239" stroke-width=".66"/>
<path d="M65.3 117.4l2.6 -7.4l3.1 -1.1l-2.6 7.2z" fill="#fec931" stroke-width=".64"/>
<path d="M109.3 78.5l2.5 -3.8l3.1 -1.7l-2.6 2.8z" fill="#f5e21f" stroke-width=".59"/>
<path d="M123.6 72.7l2.5 5.2l3.1 0.8l-2.6 -6.3z" fill="#f5e71b" stroke-width=".58"/>
<path d="M97.5 89.7l2.6 -4.5l3 -1.9l-2.5 4.7z" fill="#f7da24" stroke-width=".60"/>
<path d="M118 71.2l2.5 1.9l3.1 -0.4l-2.6 -3z" fill="#f5e71b" stroke-width=".58"/>
<path d="M135.2 147.5l2.6 24.7l3 11.2l-2.5 -25z" fill="#f9bb43" stroke-width=".68"/>
<path d="M133.7 108.2l2.6 14.1l3.1 5.8l-2.6 -16.2z" fill="#fbd02c" stroke-width=".62"/>
<path d="M85.8 98.9l2.5 -5.2l3.1 -1.2l-2.6 5z" fill="#f9d528" stroke-width=".61"/>
<path d="M139.2 211.5l1.6 11.3l1.6 -1.3l-0.1 -0.5z" fill="#bebc61" stroke-width=".76"/>
<path d="M50.5 132.2l2.6 -8.3l3 -1.9l-2.5 8.3z" fill="#fec13a" stroke-width=".66"/>
<path d="M126.1 77.9l2.6 7.7l3 2l-2.5 -8.9z" fill="#f5e31e" stroke-width=".58"/>
<path d="M74 108l2.6 -6.2l3 -0.8l-2.5 6.1z" fill="#fbcf2c" stroke-width=".63"/>
<path d="M131.2 96.2l2.5 12l3.1 3.7l-2.5 -12.8z" fill="#f8d726" stroke-width=".61"/>
<path d="M106.2 81l2.6 -4.5l3 -1.8l-2.5 3.8z" fill="#f5e020" stroke-width=".59"/>
<path d="M128.7 85.6l2.5 10.6l3.1 2.9l-2.6 -11.5z" fill="#f5de21" stroke-width=".59"/>
<path d="M62.3 118.8l2.5 -7.6l3.1 -1.2l-2.6 7.4z" fill="#fec932" stroke-width=".64"/>
<path d="M94.5 91.1l2.5 -4.4l3.1 -1.5l-2.6 4.5z" fill="#f7da25" stroke-width=".60"/>
<path d="M114.9 73l2.5 0.7l3.1 -0.6l-2.5 -1.9z" fill="#f5e71b" stroke-width=".58"/>
<path d="M136.7 194.8l2.5 16.7l3.1 9.5l-2.5 -17.3z" fill="#cfbb5a" stroke-width=".74"/>
<path d="M134.7 160.7l2.5 23.6l3.1 10.6l-2.5 -22.7z" fill="#eeb94b" stroke-width=".69"/>
<path d="M120.5 73.1l2.5 4.3l3.1 0.5l-2.5 -5.2z" fill="#f5e71b" stroke-width=".58"/>
<path d="M82.7 100.1l2.5 -5.3l3.1 -1.1l-2.5 5.2z" fill="#f9d429" stroke-width=".61"/>
<path d="M133.2 117.7l2.6 16.2l3 9.3l-2.5 -20.9z" fill="#fdcb30" stroke-width=".64"/>
<path d="M47.5 134.3l2.6 -8.2l3.1 -2.2l-2.6 8.3z" fill="#fec03b" stroke-width=".66"/>
<path d="M103.1 83.3l2.6 -4.9l3.1 -1.9l-2.6 4.5z" fill="#f5df21" stroke-width=".59"/>
<path d="M71 108.9l2.5 -6.4l3.1 -0.7l-2.6 6.2z" fill="#fbcf2d" stroke-width=".63"/>
<path d="M59.2 120.3l2.5 -7.7l3.1 -1.4l-2.5 7.6z" fill="#fec832" stroke-width=".64"/>
<path d="M91.4 92.5l2.5 -4.5l3.1 -1.3l-2.5 4.4z" fill="#f7d925" stroke-width=".60"/>
<path d="M123 77.4l2.6 6.7l3.1 1.5l-2.6 -7.7z" fill="#f5e41d" stroke-width=".58"/>
<path d="M111.8 74.7l2.6 -0.3l3 -0.7l-2.5 -0.7z" fill="#f5e61c" stroke-width=".58"/>
<path d="M130.7 104.8l2.5 12.9l3.1 4.6l-2.6 -14.1z" fill="#fad32a" stroke-width=".62"/>
<path d="M132.7 127.4l2.5 20.1l3.1 10.9l-2.5 -24.5z" fill="#fec635" stroke-width=".65"/>
<path d="M79.6 101l2.6 -5.4l3 -0.8l-2.5 5.3z" fill="#f9d429" stroke-width=".61"/>
<path d="M134.2 172.7l2.5 22.1l3.1 8.9l-2.6 -19.4z" fill="#e4b950" stroke-width=".71"/>
<path d="M117.4 73.7l2.6 3.5l3 0.2l-2.5 -4.3z" fill="#f5e71b" stroke-width=".58"/>
<path d="M125.6 84.1l2.5 9.4l3.1 2.7l-2.5 -10.6z" fill="#f5e020" stroke-width=".59"/>
<path d="M128.1 93.5l2.6 11.3l3 3.4l-2.5 -12z" fill="#f7da25" stroke-width=".60"/>
<path d="M100.1 85.2l2.5 -5l3.1 -1.8l-2.6 4.9z" fill="#f5de21" stroke-width=".59"/>
<path d="M67.9 110l2.5 -6.5l3.1 -1l-2.5 6.4z" fill="#fbcf2d" stroke-width=".63"/>
<path d="M56.1 122l2.6 -7.9l3 -1.5l-2.5 7.7z" fill="#fec833" stroke-width=".64"/>
<path d="M136.2 202.7l2.5 15.9l1.4 5l0.7 -0.8l-1.6 -11.3z" fill="#c8bc5d" stroke-width=".75"/>
<path d="M88.3 93.7l2.6 -4.5l3 -1.2l-2.5 4.5z" fill="#f7d925" stroke-width=".60"/>
<path d="M108.8 76.5l2.5 -1.1l3.1 -1l-2.6 0.3z" fill="#f5e51c" stroke-width=".58"/>
<path d="M132.2 138l2.5 22.7l3.1 11.5l-2.6 -24.7z" fill="#fec03b" stroke-width=".66"/>
<path d="M138.7 218.6l0.7 5.6l0.7 -0.6z" fill="#b8bd63" stroke-width=".77"/>
<path d="M120 77.2l2.5 5.8l3.1 1.1l-2.6 -6.7z" fill="#f5e51c" stroke-width=".58"/>
<path d="M76.6 101.8l2.5 -5.6l3.1 -0.6l-2.6 5.4z" fill="#f9d429" stroke-width=".61"/>
<path d="M97 86.7l2.5 -4.8l3.1 -1.7l-2.5 5z" fill="#f6de22" stroke-width=".59"/>
<path d="M114.4 74.4l2.5 2.8l3.1 0l-2.6 -3.5z" fill="#f5e71b" stroke-width=".58"/>
<path d="M130.1 113.5l2.6 13.9l3.1 6.5l-2.6 -16.2z" fill="#fcce2d" stroke-width=".63"/>
<path d="M53.1 123.9l2.5 -8l3.1 -1.8l-2.6 7.9z" fill="#fec734" stroke-width=".64"/>
<path d="M64.8 111.2l2.6 -6.6l3 -1.1l-2.5 6.5z" fill="#fccf2d" stroke-width=".63"/>
<path d="M133.6 183.1l2.6 19.6l3 8.8l-2.5 -16.7z" fill="#dbba55" stroke-width=".72"/>
<path d="M85.2 94.8l2.6 -4.6l3.1 -1l-2.6 4.5z" fill="#f7d925" stroke-width=".60"/>
<path d="M122.5 83l2.6 8.1l3 2.4l-2.5 -9.4z" fill="#f5e11f" stroke-width=".59"/>
<path d="M105.7 78.4l2.5 -1.9l3.1 -1.1l-2.5 1.1z" fill="#f5e41d" stroke-width=".58"/>
<path d="M127.6 101.6l2.5 11.9l3.1 4.2l-2.5 -12.9z" fill="#f9d528" stroke-width=".61"/>
<path d="M125.1 91.1l2.5 10.5l3.1 3.2l-2.6 -11.3z" fill="#f6dc23" stroke-width=".60"/>
<path d="M131.6 149.8l2.6 22.9l3 11.6l-2.5 -23.6z" fill="#f9bb43" stroke-width=".68"/>
<path d="M93.9 88l2.6 -4.6l3 -1.5l-2.5 4.8z" fill="#f6dd22" stroke-width=".59"/>
<path d="M73.5 102.5l2.5 -5.7l3.1 -0.6l-2.5 5.6z" fill="#f9d429" stroke-width=".61"/>
<path d="M50 126.1l2.5 -8l3.1 -2.2l-2.5 8z" fill="#fec635" stroke-width=".65"/>
<path d="M116.9 77.2l2.5 4.9l3.1 0.9l-2.5 -5.8z" fill="#f5e51c" stroke-width=".58"/>
<path d="M111.3 75.4l2.5 1.9l3.1 -0.1l-2.5 -2.8z" fill="#f5e71b" stroke-width=".58"/>
<path d="M129.6 122.3l2.6 15.7l3 9.5l-2.5 -20.1z" fill="#fdc931" stroke-width=".64"/>
<path d="M61.7 112.6l2.6 -6.8l3.1 -1.2l-2.6 6.6z" fill="#fcce2d" stroke-width=".63"/>
<path d="M102.6 80.2l2.6 -3l3 -0.7l-2.5 1.9z" fill="#f5e31e" stroke-width=".58"/>
<path d="M82.2 95.6l2.5 -4.7l3.1 -0.7l-2.6 4.6z" fill="#f7d925" stroke-width=".60"/>
<path d="M135.7 209.2l2.5 15.5l0.2 1l1 -1.5l-0.7 -5.6z" fill="#c3bc5f" stroke-width=".76"/>
<path d="M131.1 160.9l2.5 22.2l3.1 11.7l-2.5 -22.1z" fill="#f1b94a" stroke-width=".69"/>
<path d="M119.4 82.1l2.6 7l3.1 2l-2.6 -8.1z" fill="#f5e21e" stroke-width=".58"/>
<path d="M90.9 89.2l2.5 -4.3l3.1 -1.5l-2.6 4.6z" fill="#f6dd22" stroke-width=".60"/>
<path d="M127.1 109.7l2.5 12.6l3.1 5.1l-2.6 -13.9z" fill="#fad12b" stroke-width=".62"/>
<path d="M70.4 103.5l2.6 -5.9l3 -0.8l-2.5 5.7z" fill="#f9d429" stroke-width=".62"/>
<path d="M133.1 192.1l2.6 17.1l3 9.4l-2.5 -15.9z" fill="#d4bb58" stroke-width=".73"/>
<path d="M138.2 224.7l0.1 1.1l0.1 -0.1z" fill="#b4bd65" stroke-width=".78"/>
<path d="M122 89.1l2.5 9.5l3.1 3l-2.5 -10.5z" fill="#f6de22" stroke-width=".59"/>
<path d="M108.2 76.5l2.6 0.9l3 -0.1l-2.5 -1.9z" fill="#f5e61b" stroke-width=".58"/>
<path d="M58.7 114.1l2.5 -6.9l3.1 -1.4l-2.6 6.8z" fill="#fcce2e" stroke-width=".63"/>
<path d="M124.5 98.6l2.6 11.1l3 3.8l-2.5 -11.9z" fill="#f8d826" stroke-width=".61"/>
<path d="M113.8 77.3l2.6 4l3 0.8l-2.5 -4.9z" fill="#f5e61c" stroke-width=".58"/>
<path d="M99.5 81.9l2.6 -3.9l3.1 -0.8l-2.6 3z" fill="#f5e21e" stroke-width=".59"/>
<path d="M129.1 131.2l2.5 18.6l3.1 10.9l-2.5 -22.7z" fill="#fec536" stroke-width=".65"/>
<path d="M79.1 96.2l2.5 -4.9l3.1 -0.4l-2.5 4.7z" fill="#f7d925" stroke-width=".60"/>
<path d="M87.8 90.2l2.5 -4.2l3.1 -1.1l-2.5 4.3z" fill="#f6dd22" stroke-width=".60"/>
<path d="M67.4 104.6l2.5 -6.1l3.1 -0.9l-2.6 5.9z" fill="#f9d429" stroke-width=".62"/>
<path d="M55.6 115.9l2.5 -7.1l3.1 -1.6l-2.5 6.9z" fill="#fccd2e" stroke-width=".63"/>
<path d="M116.4 81.3l2.5 6.2l3.1 1.6l-2.6 -7z" fill="#f5e31d" stroke-width=".58"/>
<path d="M130.6 171l2.5 21.1l3.1 10.6l-2.6 -19.6z" fill="#e8b94e" stroke-width=".70"/>
<path d="M105.2 77.2l2.5 0.2l3.1 0l-2.6 -0.9z" fill="#f5e61b" stroke-width=".58"/>
<path d="M96.5 83.4l2.5 -4.4l3.1 -1l-2.6 3.9z" fill="#f5e11f" stroke-width=".59"/>
<path d="M135.1 214.8l2 12.5l1.2 -1.5l-0.1 -1.1z" fill="#bfbc60" stroke-width=".76"/>
<path d="M126.5 117.7l2.6 13.5l3.1 6.8l-2.6 -15.7z" fill="#fccd2e" stroke-width=".63"/>
<path d="M110.8 77.4l2.5 3.3l3.1 0.6l-2.6 -4z" fill="#f5e61b" stroke-width=".58"/>
<path d="M76 96.8l2.6 -5l3 -0.5l-2.5 4.9z" fill="#f7d925" stroke-width=".60"/>
<path d="M128.6 140.3l2.5 20.6l3.1 11.8l-2.6 -22.9z" fill="#fec03b" stroke-width=".66"/>
<path d="M118.9 87.5l2.6 8.2l3 2.9l-2.5 -9.5z" fill="#f5e020" stroke-width=".59"/>
<path d="M124 106.1l2.5 11.6l3.1 4.6l-2.5 -12.6z" fill="#f9d429" stroke-width=".62"/>
<path d="M84.7 90.9l2.6 -4.3l3 -0.6l-2.5 4.2z" fill="#f6dd22" stroke-width=".60"/>
<path d="M121.5 95.7l2.5 10.4l3.1 3.6l-2.6 -11.1z" fill="#f7da24" stroke-width=".60"/>
<path d="M132.6 199.7l2.5 15.1l3.1 9.9l-2.5 -15.5z" fill="#cebb5a" stroke-width=".74"/>
<path d="M52.5 118.1l2.6 -7.3l3 -2l-2.5 7.1z" fill="#fdcc2f" stroke-width=".63"/>
<path d="M64.3 105.8l2.5 -6.2l3.1 -1.1l-2.5 6.1z" fill="#f9d329" stroke-width=".62"/>
<path d="M93.4 84.9l2.5 -4.7l3.1 -1.2l-2.5 4.4z" fill="#f5e11f" stroke-width=".59"/>
<path d="M102.1 78l2.5 -0.5l3.1 -0.1l-2.5 -0.2z" fill="#f5e61b" stroke-width=".58"/>
<path d="M113.3 80.7l2.5 5.3l3.1 1.5l-2.5 -6.2z" fill="#f5e41d" stroke-width=".58"/>
<path d="M73 97.6l2.5 -5.2l3.1 -0.6l-2.6 5z" fill="#f7d925" stroke-width=".60"/>
<path d="M107.7 77.4l2.5 2.7l3.1 0.6l-2.5 -3.3z" fill="#f5e71b" stroke-width=".58"/>
<path d="M128 150l2.6 21l3 12.1l-2.5 -22.2z" fill="#fabc41" stroke-width=".67"/>
<path d="M126 125.6l2.6 14.7l3 9.5l-2.5 -18.6z" fill="#fec932" stroke-width=".64"/>
<path d="M130 179.5l2.6 20.2l3.1 9.5l-2.6 -17.1z" fill="#e2b952" stroke-width=".71"/>
<path d="M81.6 91.3l2.6 -4.3l3.1 -0.4l-2.6 4.3z" fill="#f6dd22" stroke-width=".60"/>
<path d="M61.2 107.2l2.6 -6.4l3 -1.2l-2.5 6.2z" fill="#fad32a" stroke-width=".62"/>
<path d="M115.8 86l2.6 7.2l3.1 2.5l-2.6 -8.2z" fill="#f5e11f" stroke-width=".59"/>
<path d="M90.3 86l2.6 -4.7l3 -1.1l-2.5 4.7z" fill="#f5e11f" stroke-width=".59"/>
<path d="M123.5 113.3l2.5 12.3l3.1 5.6l-2.6 -13.5z" fill="#fbd02c" stroke-width=".62"/>
<path d="M99 79l2.6 -1.3l3 -0.2l-2.5 0.5z" fill="#f5e61c" stroke-width=".58"/>
<path d="M118.4 93.2l2.5 9.3l3.1 3.6l-2.5 -10.4z" fill="#f6dd22" stroke-width=".60"/>
<path d="M120.9 102.5l2.6 10.8l3 4.4l-2.5 -11.6z" fill="#f8d727" stroke-width=".61"/>
<path d="M69.9 98.5l2.5 -5.3l3.1 -0.8l-2.5 5.2z" fill="#f7d825" stroke-width=".60"/>
<path d="M132.1 205.4l2.5 14.3l2.2 8l0.3 -0.4l-2 -12.5z" fill="#cabb5c" stroke-width=".75"/>
<path d="M110.2 80.1l2.6 4.4l3 1.5l-2.5 -5.3z" fill="#f5e61c" stroke-width=".58"/>
<path d="M58.1 108.8l2.6 -6.5l3.1 -1.5l-2.6 6.4z" fill="#fad22a" stroke-width=".62"/>
<path d="M104.6 77.5l2.6 1.9l3 0.7l-2.5 -2.7z" fill="#f5e81b" stroke-width=".58"/>
<path d="M78.6 91.8l2.5 -4.5l3.1 -0.3l-2.6 4.3z" fill="#f6dd22" stroke-width=".60"/>
<path d="M134.6 219.7l1.4 9.1l0.8 -1.1z" fill="#bcbd62" stroke-width=".77"/>
<path d="M127.5 158.9l2.5 20.6l3.1 12.6l-2.5 -21.1z" fill="#f5ba47" stroke-width=".68"/>
<path d="M125.5 133.2l2.5 16.8l3.1 10.9l-2.5 -20.6z" fill="#fec535" stroke-width=".65"/>
<path d="M87.3 86.6l2.5 -4.6l3.1 -0.7l-2.6 4.7z" fill="#f5e11f" stroke-width=".59"/>
<path d="M95.9 80.2l2.6 -2.4l3.1 -0.1l-2.6 1.3z" fill="#f5e61c" stroke-width=".58"/>
<path d="M66.8 99.6l2.6 -5.5l3 -0.9l-2.5 5.3z" fill="#f7d826" stroke-width=".61"/>
<path d="M112.8 84.5l2.5 6.3l3.1 2.4l-2.6 -7.2z" fill="#f5e31e" stroke-width=".58"/>
<path d="M129.5 187l2.6 18.4l3 9.4l-2.5 -15.1z" fill="#dcba54" stroke-width=".72"/>
<path d="M55.1 110.8l2.5 -6.6l3.1 -1.9l-2.6 6.5z" fill="#fad12b" stroke-width=".62"/>
<path d="M122.9 120.3l2.6 12.9l3.1 7.1l-2.6 -14.7z" fill="#fccd2e" stroke-width=".63"/>
<path d="M75.5 92.4l2.5 -4.6l3.1 -0.5l-2.5 4.5z" fill="#f6dd22" stroke-width=".60"/>
<path d="M101.6 77.7l2.5 1.1l3.1 0.6l-2.6 -1.9z" fill="#f5e81a" stroke-width=".57"/>
<path d="M115.3 90.8l2.6 8.2l3 3.5l-2.5 -9.3z" fill="#f5df21" stroke-width=".59"/>
<path d="M107.2 79.4l2.5 3.7l3.1 1.4l-2.6 -4.4z" fill="#f5e71b" stroke-width=".58"/>
<path d="M84.2 87l2.5 -4.4l3.1 -0.6l-2.5 4.6z" fill="#f5e11f" stroke-width=".59"/>
<path d="M120.4 109.1l2.5 11.2l3.1 5.3l-2.5 -12.3z" fill="#f9d429" stroke-width=".62"/>
<path d="M117.9 99l2.5 10.1l3.1 4.2l-2.6 -10.8z" fill="#f7da25" stroke-width=".60"/>
<path d="M92.9 81.3l2.5 -3.4l3.1 -0.1l-2.6 2.4z" fill="#f5e51c" stroke-width=".58"/>
<path d="M63.8 100.8l2.5 -5.7l3.1 -1l-2.6 5.5z" fill="#f7d826" stroke-width=".61"/>
<path d="M125 140.7l2.5 18.2l3.1 12.1l-2.6 -21z" fill="#fec139" stroke-width=".66"/>
<path d="M127 167.1l2.5 19.9l3.1 12.7l-2.6 -20.2z" fill="#efb94b" stroke-width=".69"/>
<path d="M131.5 210.2l2.6 13.8l1.4 5.6l0.5 -0.8l-1.4 -9.1z" fill="#c7bc5d" stroke-width=".75"/>
<path d="M109.7 83.1l2.5 5.5l3.1 2.2l-2.5 -6.3z" fill="#f5e51d" stroke-width=".58"/>
<path d="M72.4 93.2l2.6 -4.8l3 -0.6l-2.5 4.6z" fill="#f6dd22" stroke-width=".60"/>
<path d="M98.5 77.8l2.5 0.5l3.1 0.5l-2.5 -1.1z" fill="#f5e81a" stroke-width=".57"/>
<path d="M81.1 87.3l2.6 -4.1l3 -0.6l-2.5 4.4z" fill="#f5e11f" stroke-width=".59"/>
<path d="M104.1 78.8l2.5 3l3.1 1.3l-2.5 -3.7z" fill="#f5e81a" stroke-width=".57"/>
<path d="M60.7 102.3l2.5 -5.8l3.1 -1.4l-2.5 5.7z" fill="#f8d726" stroke-width=".61"/>
<path d="M89.8 82l2.5 -4.1l3.1 0l-2.5 3.4z" fill="#f5e51c" stroke-width=".58"/>
<path d="M134.1 224l0.9 6.4l0.5 -0.8z" fill="#b9bd63" stroke-width=".77"/>
<path d="M122.4 127l2.6 13.7l3 9.3l-2.5 -16.8z" fill="#fdca31" stroke-width=".64"/>
<path d="M129 193.6l2.5 16.6l3.1 9.5l-2.5 -14.3z" fill="#d7ba57" stroke-width=".73"/>
<path d="M112.2 88.6l2.6 7.1l3.1 3.3l-2.6 -8.2z" fill="#f5e11f" stroke-width=".59"/>
<path d="M114.8 95.7l2.5 9.2l3.1 4.2l-2.5 -10.1z" fill="#f6dd22" stroke-width=".60"/>
<path d="M119.9 115.3l2.5 11.7l3.1 6.2l-2.6 -12.9z" fill="#fbd12b" stroke-width=".62"/>
<path d="M69.4 94.1l2.5 -4.9l3.1 -0.8l-2.6 4.8z" fill="#f6dd22" stroke-width=".60"/>
<path d="M117.3 104.9l2.6 10.4l3 5l-2.5 -11.2z" fill="#f8d727" stroke-width=".61"/>
<path d="M124.4 148.3l2.6 18.8l3 12.4l-2.5 -20.6z" fill="#fdbe3e" stroke-width=".67"/>
<path d="M57.6 104.2l2.6 -6l3 -1.7l-2.5 5.8z" fill="#f8d627" stroke-width=".61"/>
<path d="M78 87.8l2.6 -4.1l3.1 -0.5l-2.6 4.1z" fill="#f5e11f" stroke-width=".59"/>
<path d="M95.4 77.9l2.6 -0.1l3 0.5l-2.5 -0.5z" fill="#f5e91a" stroke-width=".57"/>
<path d="M106.6 81.8l2.6 4.7l3 2.1l-2.5 -5.5z" fill="#f5e61b" stroke-width=".58"/>
<path d="M126.4 174.4l2.6 19.2l3.1 11.8l-2.6 -18.4z" fill="#e9b94e" stroke-width=".70"/>
<path d="M86.7 82.6l2.6 -4.5l3 -0.2l-2.5 4.1z" fill="#f5e51c" stroke-width=".58"/>
<path d="M101 78.3l2.6 2.4l3 1.1l-2.5 -3z" fill="#f5e91a" stroke-width=".57"/>
<path d="M66.3 95.1l2.5 -5l3.1 -0.9l-2.5 4.9z" fill="#f6dd22" stroke-width=".60"/>
<path d="M109.2 86.5l2.5 6.3l3.1 2.9l-2.6 -7.1z" fill="#f5e31e" stroke-width=".58"/>
<path d="M121.9 133.5l2.5 14.8l3.1 10.6l-2.5 -18.2z" fill="#fec734" stroke-width=".65"/>
<path d="M131 214.3l2.5 13.4l0.9 3.8l0.6 -1.1l-0.9 -6.4z" fill="#c4bc5e" stroke-width=".76"/>
<path d="M75 88.4l2.5 -4.2l3.1 -0.5l-2.6 4.1z" fill="#f5e11f" stroke-width=".59"/>
<path d="M92.3 77.9l2.6 -0.8l3.1 0.7l-2.6 0.1z" fill="#f5ea19" stroke-width=".57"/>
<path d="M83.7 83.2l2.5 -4.8l3.1 -0.3l-2.6 4.5z" fill="#f5e51c" stroke-width=".58"/>
<path d="M111.7 92.8l2.6 8.1l3 4l-2.5 -9.2z" fill="#f5df20" stroke-width=".59"/>
<path d="M128.5 199.3l2.5 15l3.1 9.7l-2.6 -13.8z" fill="#d3bb58" stroke-width=".73"/>
<path d="M103.6 80.7l2.5 4l3.1 1.8l-2.6 -4.7z" fill="#f5e81a" stroke-width=".57"/>
<path d="M123.9 155.7l2.5 18.7l3.1 12.6l-2.5 -19.9z" fill="#f9bb42" stroke-width=".67"/>
<path d="M119.3 121.3l2.6 12.2l3.1 7.2l-2.6 -13.7z" fill="#fcce2e" stroke-width=".63"/>
<path d="M98 77.8l2.5 1.8l3.1 1.1l-2.6 -2.4z" fill="#f5ea19" stroke-width=".57"/>
<path d="M114.3 100.9l2.5 9.6l3.1 4.8l-2.6 -10.4z" fill="#f7da24" stroke-width=".60"/>
<path d="M133.5 227.7l0.7 4.3l0.2 -0.5z" fill="#b7bd64" stroke-width=".77"/>
<path d="M63.2 96.5l2.6 -5.2l3 -1.2l-2.5 5z" fill="#f6dc23" stroke-width=".60"/>
<path d="M116.8 110.5l2.5 10.8l3.1 5.7l-2.5 -11.7z" fill="#f9d429" stroke-width=".61"/>
<path d="M71.9 89.2l2.6 -4.4l3 -0.6l-2.5 4.2z" fill="#f5e11f" stroke-width=".59"/>
<path d="M125.9 180.7l2.6 18.6l3 10.9l-2.5 -16.6z" fill="#e5b950" stroke-width=".71"/>
<path d="M106.1 84.7l2.5 5.5l3.1 2.6l-2.5 -6.3z" fill="#f5e51c" stroke-width=".58"/>
<path d="M80.6 83.7l2.5 -4.7l3.1 -0.6l-2.5 4.8z" fill="#f5e61c" stroke-width=".58"/>
<path d="M89.3 78.1l2.5 -2l3.1 1l-2.6 0.8z" fill="#f5ea19" stroke-width=".57"/>
<path d="M60.2 98.2l2.5 -5.4l3.1 -1.5l-2.6 5.2z" fill="#f6db23" stroke-width=".60"/>
<path d="M121.4 139.8l2.5 15.9l3.1 11.4l-2.6 -18.8z" fill="#ffc437" stroke-width=".65"/>
<path d="M100.5 79.6l2.5 3.3l3.1 1.8l-2.5 -4z" fill="#f5e919" stroke-width=".57"/>
<path d="M94.9 77.1l2.5 1.1l3.1 1.4l-2.5 -1.8z" fill="#f5eb18" stroke-width=".57"/>
<path d="M108.7 90.2l2.6 7.1l3.1 3.6l-2.6 -8.1z" fill="#f5e21f" stroke-width=".59"/>
<path d="M68.8 90.1l2.6 -4.5l3.1 -0.8l-2.6 4.4z" fill="#f5e11f" stroke-width=".59"/>
<path d="M123.4 162.4l2.5 18.3l3.1 12.9l-2.6 -19.2z" fill="#f5ba46" stroke-width=".68"/>
<path d="M118.8 127.2l2.6 12.6l3 8.5l-2.5 -14.8z" fill="#fdcb30" stroke-width=".64"/>
<path d="M130.5 217.7l2.5 13.1l0.6 2.6l0.6 -1.4l-0.7 -4.3z" fill="#c3bc5f" stroke-width=".76"/>
<path d="M111.2 97.3l2.5 8.8l3.1 4.4l-2.5 -9.6z" fill="#f6dd22" stroke-width=".59"/>
<path d="M77.5 84.2l2.6 -4.4l3 -0.8l-2.5 4.7z" fill="#f5e61c" stroke-width=".58"/>
<path d="M116.3 116l2.5 11.2l3.1 6.3l-2.6 -12.2z" fill="#fad22b" stroke-width=".62"/>
<path d="M127.9 204.1l2.6 13.6l3 10l-2.5 -13.4z" fill="#d0bb5a" stroke-width=".74"/>
<path d="M113.7 106.1l2.6 9.9l3 5.3l-2.5 -10.8z" fill="#f8d826" stroke-width=".61"/>
<path d="M86.2 78.4l2.5 -3.2l3.1 0.9l-2.5 2z" fill="#f5ea19" stroke-width=".57"/>
<path d="M103 82.9l2.6 4.8l3 2.5l-2.5 -5.5z" fill="#f5e71b" stroke-width=".58"/>
<path d="M65.8 91.3l2.5 -4.6l3.1 -1.1l-2.6 4.5z" fill="#f5e11f" stroke-width=".59"/>
<path d="M133 230.8l0.4 2.9l0.2 -0.3z" fill="#b6bd64" stroke-width=".78"/>
<path d="M91.8 76.1l2.6 0.6l3 1.5l-2.5 -1.1z" fill="#f5ed17" stroke-width=".57"/>
<path d="M97.4 78.2l2.6 2.8l3 1.9l-2.5 -3.3z" fill="#f5eb18" stroke-width=".57"/>
<path d="M125.4 186l2.5 18.1l3.1 10.2l-2.5 -15z" fill="#e1b952" stroke-width=".71"/>
<path d="M120.8 145.8l2.6 16.6l3 12l-2.5 -18.7z" fill="#fec13a" stroke-width=".66"/>
<path d="M74.5 84.8l2.5 -4.1l3.1 -0.9l-2.6 4.4z" fill="#f5e61c" stroke-width=".58"/>
<path d="M105.6 87.7l2.5 6.3l3.1 3.3l-2.6 -7.1z" fill="#f5e41d" stroke-width=".58"/>
<path d="M83.1 79l2.6 -4l3 0.2l-2.5 3.2z" fill="#f5eb19" stroke-width=".57"/>
<path d="M62.7 92.8l2.5 -4.8l3.1 -1.3l-2.5 4.6z" fill="#f5e020" stroke-width=".59"/>
<path d="M108.1 94l2.6 7.8l3 4.3l-2.5 -8.8z" fill="#f5e020" stroke-width=".59"/>
<path d="M118.3 132.7l2.5 13.1l3.1 9.9l-2.5 -15.9z" fill="#fec932" stroke-width=".64"/>
<path d="M122.8 168.1l2.6 17.9l3.1 13.3l-2.6 -18.6z" fill="#f2b949" stroke-width=".69"/>
<path d="M100 81l2.5 4.1l3.1 2.6l-2.6 -4.8z" fill="#f5ea19" stroke-width=".57"/>
<path d="M110.7 101.8l2.5 9.2l3.1 5l-2.6 -9.9z" fill="#f6db23" stroke-width=".60"/>
<path d="M88.7 75.2l2.6 0.2l3.1 1.3l-2.6 -0.6z" fill="#f5ee16" stroke-width=".56"/>
<path d="M71.4 85.6l2.5 -4.1l3.1 -0.8l-2.5 4.1z" fill="#f5e61c" stroke-width=".58"/>
<path d="M115.7 121.2l2.6 11.5l3.1 7.1l-2.6 -12.6z" fill="#fbd02c" stroke-width=".63"/>
<path d="M94.4 76.7l2.5 2.2l3.1 2.1l-2.6 -2.8z" fill="#f5ed17" stroke-width=".57"/>
<path d="M113.2 111l2.5 10.2l3.1 6l-2.5 -11.2z" fill="#f8d628" stroke-width=".61"/>
<path d="M129.9 220.5l2.6 12.6l0.4 2.1l0.5 -1.5l-0.4 -2.9z" fill="#c1bc5f" stroke-width=".76"/>
<path d="M80.1 79.8l2.5 -4.5l3.1 -0.3l-2.6 4z" fill="#f5ea19" stroke-width=".57"/>
<path d="M127.4 207.6l2.5 12.9l3.1 10.3l-2.5 -13.1z" fill="#cebb5a" stroke-width=".74"/>
<path d="M102.5 85.1l2.6 5.5l3 3.4l-2.5 -6.3z" fill="#f5e71b" stroke-width=".58"/>
<path d="M120.3 151.5l2.5 16.6l3.1 12.6l-2.5 -18.3z" fill="#febe3d" stroke-width=".66"/>
<path d="M124.9 190.3l2.5 17.3l3.1 10.1l-2.6 -13.6z" fill="#dfba53" stroke-width=".72"/>
<path d="M68.3 86.7l2.6 -4.2l3 -1l-2.5 4.1z" fill="#f5e51c" stroke-width=".58"/>
<path d="M132.5 233.1l0.3 2.3l0.1 -0.2z" fill="#b5bd65" stroke-width=".78"/>
<path d="M85.7 75l2.5 -0.7l3.1 1.1l-2.6 -0.2z" fill="#f6ef15" stroke-width=".56"/>
<path d="M96.9 78.9l2.5 3.6l3.1 2.6l-2.5 -4.1z" fill="#f5ec17" stroke-width=".57"/>
<path d="M77 80.7l2.5 -4.8l3.1 -0.6l-2.5 4.5z" fill="#f5ea19" stroke-width=".57"/>
<path d="M105.1 90.6l2.5 6.9l3.1 4.3l-2.6 -7.8z" fill="#f5e31d" stroke-width=".58"/>
<path d="M91.3 75.4l2.5 1.6l3.1 1.9l-2.5 -2.2z" fill="#f6ef15" stroke-width=".56"/>
<path d="M117.8 137.8l2.5 13.7l3.1 10.9l-2.6 -16.6z" fill="#fec734" stroke-width=".65"/>
<path d="M122.3 172.9l2.6 17.4l3 13.8l-2.5 -18.1z" fill="#efb94b" stroke-width=".69"/>
<path d="M107.6 97.5l2.5 8.4l3.1 5.1l-2.5 -9.2z" fill="#f5df21" stroke-width=".59"/>
<path d="M65.2 88l2.6 -4.3l3.1 -1.2l-2.6 4.2z" fill="#f5e51c" stroke-width=".58"/>
<path d="M115.2 125.9l2.6 11.9l3 8l-2.5 -13.1z" fill="#fcce2e" stroke-width=".63"/>
<path d="M110.1 105.9l2.6 9.5l3 5.8l-2.5 -10.2z" fill="#f7da25" stroke-width=".60"/>
<path d="M112.7 115.4l2.5 10.5l3.1 6.8l-2.6 -11.5z" fill="#f9d429" stroke-width=".62"/>
<path d="M99.4 82.5l2.6 4.8l3.1 3.3l-2.6 -5.5z" fill="#f5ea19" stroke-width=".57"/>
<path d="M73.9 81.5l2.6 -4.5l3 -1.1l-2.5 4.8z" fill="#f5ea19" stroke-width=".57"/>
<path d="M82.6 75.3l2.5 -2.1l3.1 1.1l-2.5 0.7z" fill="#f6f015" stroke-width=".56"/>
<path d="M93.8 77l2.6 3l3 2.5l-2.5 -3.6z" fill="#f6ef16" stroke-width=".56"/>
<path d="M119.8 156.5l2.5 16.4l3.1 13.1l-2.6 -17.9z" fill="#fcbd40" stroke-width=".67"/>
<path d="M129.4 222.8l2.6 12.2l0.4 2l0.4 -1.6l-0.3 -2.3z" fill="#c1bc60" stroke-width=".76"/>
<path d="M88.2 74.3l2.6 1l3 1.7l-2.5 -1.6z" fill="#f6f114" stroke-width=".56"/>
<path d="M126.9 210.4l2.5 12.4l3.1 10.3l-2.6 -12.6z" fill="#cdbb5b" stroke-width=".74"/>
<path d="M102 87.3l2.5 6.2l3.1 4l-2.5 -6.9z" fill="#f5e71b" stroke-width=".58"/>
<path d="M124.3 193.8l2.6 16.6l3 10.1l-2.5 -12.9z" fill="#ddba54" stroke-width=".72"/>
<path d="M70.9 82.5l2.5 -4.2l3.1 -1.3l-2.6 4.5z" fill="#f5ea19" stroke-width=".57"/>
<path d="M79.5 75.9l2.6 -3.3l3 0.6l-2.5 2.1z" fill="#f6f015" stroke-width=".56"/>
<path d="M117.2 142.3l2.6 14.2l3 11.6l-2.5 -16.6z" fill="#fec536" stroke-width=".65"/>
<path d="M104.5 93.5l2.6 7.4l3 5l-2.5 -8.4z" fill="#f5e31e" stroke-width=".58"/>
<path d="M132 235l0.3 2.2l0.1 -0.2z" fill="#b5bd65" stroke-width=".78"/>
<path d="M96.4 80l2.5 4.2l3.1 3.1l-2.6 -4.8z" fill="#f5ed17" stroke-width=".57"/>
<path d="M121.8 177l2.5 16.8l3.1 13.8l-2.5 -17.3z" fill="#edb94c" stroke-width=".70"/>
<path d="M107.1 100.9l2.5 8.8l3.1 5.7l-2.6 -9.5z" fill="#f6de22" stroke-width=".59"/>
<path d="M114.7 130.2l2.5 12.1l3.1 9.2l-2.5 -13.7z" fill="#fdcc2f" stroke-width=".63"/>
<path d="M85.1 73.2l2.6 0.7l3.1 1.4l-2.6 -1z" fill="#f6f313" stroke-width=".56"/>
<path d="M90.8 75.3l2.5 2.4l3.1 2.3l-2.6 -3z" fill="#f6f114" stroke-width=".56"/>
<path d="M109.6 109.7l2.5 9.7l3.1 6.5l-2.5 -10.5z" fill="#f7d826" stroke-width=".61"/>
<path d="M67.8 83.7l2.5 -3.9l3.1 -1.5l-2.5 4.2z" fill="#f5e919" stroke-width=".57"/>
<path d="M112.1 119.4l2.6 10.8l3.1 7.6l-2.6 -11.9z" fill="#fad22a" stroke-width=".62"/>
<path d="M76.5 77l2.5 -4.3l3.1 -0.1l-2.6 3.3z" fill="#f6ef15" stroke-width=".56"/>
<path d="M98.9 84.2l2.6 5.4l3 3.9l-2.5 -6.2z" fill="#f5ea19" stroke-width=".57"/>
<path d="M119.2 160.8l2.6 16.2l3.1 13.3l-2.6 -17.4z" fill="#fabc42" stroke-width=".67"/>
<path d="M126.3 212.7l2.6 12l3.1 10.3l-2.6 -12.2z" fill="#ccbb5b" stroke-width=".74"/>
<path d="M128.9 224.7l2.5 11.8l0.5 2.3l0.4 -1.6l-0.3 -2.2z" fill="#c1bc60" stroke-width=".76"/>
<path d="M93.3 77.7l2.5 3.7l3.1 2.8l-2.5 -4.2z" fill="#f6f015" stroke-width=".56"/>
<path d="M101.5 89.6l2.5 6.7l3.1 4.6l-2.6 -7.4z" fill="#f5e61b" stroke-width=".58"/>
<path d="M82.1 72.6l2.5 0l3.1 1.3l-2.6 -0.7z" fill="#f7f412" stroke-width=".56"/>
<path d="M87.7 73.9l2.5 1.9l3.1 1.9l-2.5 -2.4z" fill="#f6f313" stroke-width=".56"/>
<path d="M123.8 196.8l2.5 15.9l3.1 10.1l-2.5 -12.4z" fill="#dcba54" stroke-width=".72"/>
<path d="M73.4 78.3l2.5 -4.7l3.1 -0.9l-2.5 4.3z" fill="#f6ef16" stroke-width=".56"/>
<path d="M116.7 146.4l2.5 14.4l3.1 12.1l-2.5 -16.4z" fill="#ffc337" stroke-width=".65"/>
<path d="M104 96.3l2.5 7.9l3.1 5.5l-2.5 -8.8z" fill="#f5e21f" stroke-width=".59"/>
<path d="M114.2 134.2l2.5 12.2l3.1 10.1l-2.6 -14.2z" fill="#fdcb30" stroke-width=".64"/>
<path d="M131.4 236.5l0.4 2.5l0.1 -0.2z" fill="#b5bd64" stroke-width=".78"/>
<path d="M106.5 104.2l2.6 9l3 6.2l-2.5 -9.7z" fill="#f6dd22" stroke-width=".60"/>
<path d="M121.3 180.4l2.5 16.4l3.1 13.6l-2.6 -16.6z" fill="#ebb94d" stroke-width=".70"/>
<path d="M95.8 81.4l2.6 4.7l3.1 3.5l-2.6 -5.4z" fill="#f5ed17" stroke-width=".57"/>
<path d="M109.1 113.2l2.5 9.9l3.1 7.1l-2.6 -10.8z" fill="#f8d727" stroke-width=".61"/>
<path d="M111.6 123.1l2.6 11.1l3 8.1l-2.5 -12.1z" fill="#fad12b" stroke-width=".62"/>
<path d="M70.3 79.8l2.6 -4.6l3 -1.6l-2.5 4.7z" fill="#f5ee16" stroke-width=".56"/>
<path d="M79 72.7l2.5 -1.3l3.1 1.2l-2.5 0z" fill="#f7f512" stroke-width=".55"/>
<path d="M90.2 75.8l2.6 3l3 2.6l-2.5 -3.7z" fill="#f6f214" stroke-width=".56"/>
<path d="M84.6 72.6l2.6 1.3l3 1.9l-2.5 -1.9z" fill="#f7f512" stroke-width=".55"/>
<path d="M118.7 164.6l2.6 15.8l3 13.4l-2.5 -16.8z" fill="#f9bb43" stroke-width=".68"/>
<path d="M98.4 86.1l2.5 6l3.1 4.2l-2.5 -6.7z" fill="#f5ea19" stroke-width=".57"/>
<path d="M100.9 92.1l2.6 7l3 5.1l-2.5 -7.9z" fill="#f5e61c" stroke-width=".58"/>
<path d="M75.9 73.6l2.6 -3l3 0.8l-2.5 1.3z" fill="#f7f412" stroke-width=".55"/>
<path d="M125.8 214.7l2.6 11.6l3 10.2l-2.5 -11.8z" fill="#ccbb5b" stroke-width=".74"/>
<path d="M116.2 150.2l2.5 14.4l3.1 12.4l-2.6 -16.2z" fill="#fec239" stroke-width=".66"/>
<path d="M128.4 226.3l2.5 11.5l0.6 2.7l0.3 -1.5l-0.4 -2.5z" fill="#c1bc60" stroke-width=".76"/>
<path d="M92.8 78.8l2.5 4.2l3.1 3.1l-2.6 -4.7z" fill="#f6f015" stroke-width=".56"/>
<path d="M123.3 199.2l2.5 15.5l3.1 10l-2.6 -12z" fill="#dbba55" stroke-width=".72"/>
<path d="M103.5 99.1l2.5 8.2l3.1 5.9l-2.6 -9z" fill="#f5e11f" stroke-width=".59"/>
<path d="M87.2 73.9l2.5 2.5l3.1 2.4l-2.6 -3z" fill="#f7f512" stroke-width=".55"/>
<path d="M81.5 71.4l2.6 0.8l3.1 1.7l-2.6 -1.3z" fill="#f8f710" stroke-width=".55"/>
<path d="M113.6 137.8l2.6 12.4l3 10.6l-2.5 -14.4z" fill="#fec931" stroke-width=".64"/>
<path d="M106 107.3l2.6 9.2l3 6.6l-2.5 -9.9z" fill="#f6dc23" stroke-width=".60"/>
<path d="M111.1 126.7l2.5 11.1l3.1 8.6l-2.5 -12.2z" fill="#fbd02c" stroke-width=".62"/>
<path d="M108.5 116.5l2.5 10.2l3.1 7.5l-2.6 -11.1z" fill="#f8d627" stroke-width=".61"/>
<path d="M120.7 183.3l2.6 15.9l3 13.5l-2.5 -15.9z" fill="#eab94e" stroke-width=".70"/>
<path d="M130.9 237.8l0.5 3.1l0.1 -0.4z" fill="#b6bd64" stroke-width=".78"/>
<path d="M95.3 83l2.6 5.2l3 3.9l-2.5 -6z" fill="#f5ed17" stroke-width=".57"/>
<path d="M72.9 75.2l2.5 -4.2l3.1 -0.4l-2.6 3z" fill="#f7f313" stroke-width=".56"/>
<path d="M118.2 168l2.5 15.3l3.1 13.5l-2.5 -16.4z" fill="#f8ba45" stroke-width=".68"/>
<path d="M89.7 76.4l2.5 3.6l3.1 3l-2.5 -4.2z" fill="#f7f313" stroke-width=".56"/>
<path d="M97.9 88.2l2.5 6.3l3.1 4.6l-2.6 -7z" fill="#f5ea19" stroke-width=".57"/>
<path d="M78.5 70.6l2.5 0.2l3.1 1.4l-2.6 -0.8z" fill="#f8f80f" stroke-width=".55"/>
<path d="M84.1 72.2l2.5 1.9l3.1 2.3l-2.5 -2.5z" fill="#f8f710" stroke-width=".55"/>
<path d="M115.6 153.8l2.6 14.2l3.1 12.4l-2.6 -15.8z" fill="#fec13a" stroke-width=".66"/>
<path d="M100.4 94.5l2.5 7.5l3.1 5.3l-2.5 -8.2z" fill="#f5e51c" stroke-width=".58"/>
<path d="M125.3 216.3l2.5 11.3l3.1 10.2l-2.5 -11.5z" fill="#ccbb5b" stroke-width=".74"/>
<path d="M127.8 227.6l2.6 11.2l0.7 3.4l0.3 -1.3l-0.5 -3.1z" fill="#c1bc5f" stroke-width=".76"/>
<path d="M92.2 80l2.6 4.6l3.1 3.6l-2.6 -5.2z" fill="#f6f114" stroke-width=".56"/>
<path d="M102.9 102l2.6 8.4l3.1 6.1l-2.6 -9.2z" fill="#f5e020" stroke-width=".59"/>
<path d="M113.1 141.3l2.5 12.5l3.1 10.8l-2.5 -14.4z" fill="#fec832" stroke-width=".64"/>
<path d="M122.7 201.3l2.6 15l3.1 10l-2.6 -11.6z" fill="#dbba55" stroke-width=".72"/>
<path d="M105.5 110.4l2.5 9.3l3.1 7l-2.5 -10.2z" fill="#f7db24" stroke-width=".60"/>
<path d="M110.6 130l2.5 11.3l3.1 8.9l-2.6 -12.4z" fill="#fbcf2d" stroke-width=".63"/>
<path d="M75.4 71l2.6 -1.5l3 1.3l-2.5 -0.2z" fill="#f8f90f" stroke-width=".55"/>
<path d="M108 119.7l2.6 10.3l3 7.8l-2.5 -11.1z" fill="#f9d528" stroke-width=".61"/>
<path d="M86.6 74.1l2.6 3l3 2.9l-2.5 -3.6z" fill="#f8f611" stroke-width=".55"/>
<path d="M120.2 185.7l2.5 15.6l3.1 13.4l-2.5 -15.5z" fill="#e9b94e" stroke-width=".70"/>
<path d="M81 70.8l2.6 1.2l3 2.1l-2.5 -1.9z" fill="#f9f90f" stroke-width=".55"/>
<path d="M94.8 84.6l2.5 5.7l3.1 4.2l-2.5 -6.3z" fill="#f5ee17" stroke-width=".57"/>
<path d="M130.4 238.8l0.7 3.9l0 -0.5z" fill="#b6bd64" stroke-width=".77"/>
<path d="M117.7 170.8l2.5 14.9l3.1 13.5l-2.6 -15.9z" fill="#f7ba45" stroke-width=".68"/>
<path d="M97.3 90.3l2.6 6.6l3 5.1l-2.5 -7.5z" fill="#f5e919" stroke-width=".57"/>
<path d="M89.2 77.1l2.5 4.1l3.1 3.4l-2.6 -4.6z" fill="#f7f412" stroke-width=".55"/>
<path d="M115.1 156.9l2.6 13.9l3 12.5l-2.5 -15.3z" fill="#fec03b" stroke-width=".66"/>
<path d="M83.6 72l2.5 2.4l3.1 2.7l-2.6 -3z" fill="#f8f90f" stroke-width=".55"/>
<path d="M99.9 96.9l2.5 7.7l3.1 5.8l-2.6 -8.4z" fill="#f5e51d" stroke-width=".58"/>
<path d="M78 69.5l2.5 0.7l3.1 1.8l-2.6 -1.2z" fill="#f9fb0e" stroke-width=".54"/>
<path d="M102.4 104.6l2.6 8.6l3 6.5l-2.5 -9.3z" fill="#f5df20" stroke-width=".59"/>
<path d="M112.6 144.4l2.5 12.5l3.1 11.1l-2.6 -14.2z" fill="#fec733" stroke-width=".64"/>
<path d="M124.8 217.8l2.5 11l3.1 10l-2.6 -11.2z" fill="#cdbb5b" stroke-width=".74"/>
<path d="M91.7 81.2l2.6 5l3 4.1l-2.5 -5.7z" fill="#f6f114" stroke-width=".56"/>
<path d="M127.3 228.8l2.5 11l1 4.2l0.3 -1.3l-0.7 -3.9z" fill="#c2bc5f" stroke-width=".76"/>
<path d="M105 113.2l2.5 9.5l3.1 7.3l-2.6 -10.3z" fill="#f7da24" stroke-width=".60"/>
<path d="M110 133.1l2.6 11.3l3 9.4l-2.5 -12.5z" fill="#fcce2d" stroke-width=".63"/>
<path d="M122.2 203l2.6 14.8l3 9.8l-2.5 -11.3z" fill="#dbba55" stroke-width=".72"/>
<path d="M107.5 122.7l2.5 10.4l3.1 8.2l-2.5 -11.3z" fill="#f9d429" stroke-width=".61"/>
<path d="M119.7 187.8l2.5 15.2l3.1 13.3l-2.6 -15z" fill="#e9b94e" stroke-width=".70"/>
<path d="M86.1 74.4l2.5 3.4l3.1 3.4l-2.5 -4.1z" fill="#f8f810" stroke-width=".55"/>
<path d="M94.3 86.2l2.5 5.9l3.1 4.8l-2.6 -6.6z" fill="#f5ee16" stroke-width=".56"/>
<path d="M80.5 70.2l2.5 1.7l3.1 2.5l-2.5 -2.4z" fill="#f9fb0e" stroke-width=".54"/>
<path d="M117.1 173.2l2.6 14.6l3 13.5l-2.5 -15.6z" fill="#f6ba46" stroke-width=".68"/>
<path d="M96.8 92.1l2.5 6.9l3.1 5.6l-2.5 -7.7z" fill="#f5e919" stroke-width=".57"/>
<path d="M88.6 77.8l2.6 4.4l3.1 4l-2.6 -5z" fill="#f7f511" stroke-width=".55"/>
<path d="M114.6 159.6l2.5 13.6l3.1 12.5l-2.5 -14.9z" fill="#febf3c" stroke-width=".66"/>
<path d="M99.3 99l2.6 7.9l3.1 6.3l-2.6 -8.6z" fill="#f5e41d" stroke-width=".58"/>
<path d="M83 71.9l2.6 2.7l3 3.2l-2.5 -3.4z" fill="#f9fb0e" stroke-width=".54"/>
<path d="M112 147.1l2.6 12.5l3.1 11.2l-2.6 -13.9z" fill="#fec734" stroke-width=".65"/>
<path d="M101.9 106.9l2.5 8.8l3.1 7l-2.5 -9.5z" fill="#f5df21" stroke-width=".59"/>
<path d="M104.4 115.7l2.6 9.6l3 7.8l-2.5 -10.4z" fill="#f7d925" stroke-width=".60"/>
<path d="M109.5 135.7l2.5 11.4l3.1 9.8l-2.5 -12.5z" fill="#fccd2e" stroke-width=".63"/>
<path d="M107 125.3l2.5 10.4l3.1 8.7l-2.6 -11.3z" fill="#f9d429" stroke-width=".62"/>
<path d="M91.2 82.2l2.5 5.3l3.1 4.6l-2.5 -5.9z" fill="#f6f214" stroke-width=".56"/>
<path d="M124.2 218.5l2.6 11l3 10.3l-2.5 -11z" fill="#cebb5a" stroke-width=".74"/>
<path d="M121.7 203.8l2.5 14.7l3.1 10.3l-2.5 -11z" fill="#dcba54" stroke-width=".72"/>
<path d="M119.1 188.9l2.6 14.9l3.1 14l-2.6 -14.8z" fill="#eab94e" stroke-width=".70"/>
<path d="M93.7 87.5l2.6 6.2l3 5.3l-2.5 -6.9z" fill="#f5ee16" stroke-width=".56"/>
<path d="M85.6 74.6l2.5 3.7l3.1 3.9l-2.6 -4.4z" fill="#f9f90f" stroke-width=".55"/>
<path d="M116.6 174.8l2.5 14.1l3.1 14.1l-2.5 -15.2z" fill="#f6ba46" stroke-width=".68"/>
<path d="M96.3 93.7l2.5 7.1l3.1 6.1l-2.6 -7.9z" fill="#f5ea19" stroke-width=".57"/>
<path d="M114.1 161.5l2.5 13.3l3.1 13l-2.6 -14.6z" fill="#febf3c" stroke-width=".66"/>
<path d="M88.1 78.3l2.6 4.6l3 4.6l-2.5 -5.3z" fill="#f8f710" stroke-width=".55"/>
<path d="M98.8 100.8l2.6 8l3 6.9l-2.5 -8.8z" fill="#f5e41d" stroke-width=".58"/>
<path d="M111.5 149.2l2.6 12.3l3 11.7l-2.5 -13.6z" fill="#fec734" stroke-width=".65"/>
<path d="M101.4 108.8l2.5 8.8l3.1 7.7l-2.6 -9.6z" fill="#f5df21" stroke-width=".59"/>
<path d="M109 137.8l2.5 11.4l3.1 10.4l-2.6 -12.5z" fill="#fccd2e" stroke-width=".63"/>
<path d="M103.9 117.6l2.5 9.7l3.1 8.4l-2.5 -10.4z" fill="#f7d925" stroke-width=".60"/>
<path d="M106.4 127.3l2.6 10.5l3 9.3l-2.5 -11.4z" fill="#f9d329" stroke-width=".62"/>
<path d="M90.7 82.9l2.5 5.5l3.1 5.3l-2.6 -6.2z" fill="#f7f313" stroke-width=".56"/>
<path d="M121.2 204l2.5 14.8l3.1 10.7l-2.6 -11z" fill="#ddba54" stroke-width=".72"/>
<path d="M93.2 88.4l2.5 6.4l3.1 6l-2.5 -7.1z" fill="#f6ef16" stroke-width=".56"/>
<path d="M118.6 189.4l2.6 14.6l3 14.5l-2.5 -14.7z" fill="#ebb94d" stroke-width=".70"/>
<path d="M116.1 175.7l2.5 13.7l3.1 14.4l-2.6 -14.9z" fill="#f7ba45" stroke-width=".68"/>
<path d="M95.7 94.8l2.6 7.2l3.1 6.8l-2.6 -8z" fill="#f5ea19" stroke-width=".57"/>
<path d="M113.5 162.7l2.6 13l3 13.2l-2.5 -14.1z" fill="#fec03b" stroke-width=".66"/>
<path d="M98.3 102l2.5 8l3.1 7.6l-2.5 -8.8z" fill="#f5e51c" stroke-width=".58"/>
<path d="M111 150.6l2.5 12.1l3.1 12.1l-2.5 -13.3z" fill="#fec734" stroke-width=".65"/>
<path d="M100.8 110l2.6 9l3 8.3l-2.5 -9.7z" fill="#f5df20" stroke-width=".59"/>
<path d="M108.5 139.2l2.6 11.4l3.1 10.9l-2.6 -12.3z" fill="#fcce2e" stroke-width=".63"/>
<path d="M103.4 119l2.5 9.7l3.1 9.1l-2.6 -10.5z" fill="#f7da25" stroke-width=".60"/>
<path d="M105.9 128.7l2.5 10.5l3.1 10l-2.5 -11.4z" fill="#f9d429" stroke-width=".62"/>
</g>
<line x1="318.4" y1="203.8" x2="412.4" y2="150.6" stroke="#5a5a5a" stroke-width="0.5"/>
<line x1="412.4" y1="150.6" x2="412.4" y2="12.2" stroke="#5a5a5a" stroke-width="0.5"/>
<line x1="331.7" y1="208.5" x2="425.7" y2="155.3" stroke="#5a5a5a" stroke-width="0.5"/>
<line x1="425.7" y1="155.3" x2="425.7" y2="16.9" stroke="#5a5a5a" stroke-width="0.5"/>
<line x1="345" y1="213.3" x2="439" y2="160.1" stroke="#5a5a5a" stroke-width="0.5"/>
<line x1="439" y1="160.1" x2="439" y2="21.7" stroke="#5a5a5a" stroke-width="0.5"/>
<line x1="358.2" y1="218" x2="452.2" y2="164.8" stroke="#5a5a5a" stroke-width="0.5"/>
<line x1="452.2" y1="164.8" x2="452.2" y2="26.4" stroke="#5a5a5a" stroke-width="0.5"/>
<line x1="371.5" y1="222.8" x2="465.5" y2="169.6" stroke="#5a5a5a" stroke-width="0.5"/>
<line x1="465.5" y1="169.6" x2="465.5" y2="31.2" stroke="#5a5a5a" stroke-width="0.5"/>
<line x1="384.8" y1="227.5" x2="478.8" y2="174.3" stroke="#5a5a5a" stroke-width="0.5"/>
<line x1="478.8" y1="174.3" x2="478.8" y2="35.9" stroke="#5a5a5a" stroke-width="0.5"/>
<line x1="398.1" y1="232.3" x2="492.1" y2="179.1" stroke="#5a5a5a" stroke-width="0.5"/>
<line x1="492.1" y1="179.1" x2="492.1" y2="40.7" stroke="#5a5a5a" stroke-width="0.5"/>
<line x1="411.3" y1="237" x2="505.3" y2="183.8" stroke="#5a5a5a" stroke-width="0.5"/>
<line x1="505.3" y1="183.8" x2="505.3" y2="45.4" stroke="#5a5a5a" stroke-width="0.5"/>
<line x1="424.6" y1="241.8" x2="518.6" y2="188.6" stroke="#5a5a5a" stroke-width="0.5"/>
<line x1="518.6" y1="188.6" x2="518.6" y2="50.2" stroke="#5a5a5a" stroke-width="0.5"/>
<line x1="437.9" y1="246.5" x2="531.9" y2="193.3" stroke="#5a5a5a" stroke-width="0.5"/>
<line x1="531.9" y1="193.3" x2="531.9" y2="54.9" stroke="#5a5a5a" stroke-width="0.5"/>
<line x1="318.4" y1="203.8" x2="437.9" y2="246.5" stroke="#5a5a5a" stroke-width="0.5"/>
<line x1="318.4" y1="203.8" x2="318.4" y2="65.4" stroke="#5a5a5a" stroke-width="0.5"/>
<line x1="330.1" y1="197.2" x2="449.6" y2="239.8" stroke="#5a5a5a" stroke-width="0.5"/>
<line x1="330.1" y1="197.2" x2="330.1" y2="58.8" stroke="#5a5a5a" stroke-width="0.5"/>
<line x1="341.9" y1="190.5" x2="461.4" y2="233.2" stroke="#5a5a5a" stroke-width="0.5"/>
<line x1="341.9" y1="190.5" x2="341.9" y2="52.1" stroke="#5a5a5a" stroke-width="0.5"/>
<line x1="353.6" y1="183.9" x2="473.1" y2="226.6" stroke="#5a5a5a" stroke-width="0.5"/>
<line x1="353.6" y1="183.9" x2="353.6" y2="45.5" stroke="#5a5a5a" stroke-width="0.5"/>
<line x1="365.4" y1="177.2" x2="484.9" y2="219.9" stroke="#5a5a5a" stroke-width="0.5"/>
<line x1="365.4" y1="177.2" x2="365.4" y2="38.8" stroke="#5a5a5a" stroke-width="0.5"/>
<line x1="377.1" y1="170.6" x2="496.6" y2="213.2" stroke="#5a5a5a" stroke-width="0.5"/>
<line x1="377.1" y1="170.6" x2="377.1" y2="32.2" stroke="#5a5a5a" stroke-width="0.5"/>
<line x1="388.9" y1="163.9" x2="508.4" y2="206.6" stroke="#5a5a5a" stroke-width="0.5"/>
<line x1="388.9" y1="163.9" x2="388.9" y2="25.5" stroke="#5a5a5a" stroke-width="0.5"/>
<line x1="400.6" y1="157.2" x2="520.1" y2="199.9" stroke="#5a5a5a" stroke-width="0.5"/>
<line x1="400.6" y1="157.2" x2="400.6" y2="18.8" stroke="#5a5a5a" stroke-width="0.5"/>
<line x1="412.4" y1="150.6" x2="531.9" y2="193.3" stroke="#5a5a5a" stroke-width="0.5"/>
<line x1="412.4" y1="150.6" x2="412.4" y2="12.2" stroke="#5a5a5a" stroke-width="0.5"/>
<line x1="318.4" y1="203.8" x2="412.4" y2="150.6" stroke="#5a5a5a" stroke-width="0.5"/>
<line x1="412.4" y1="150.6" x2="531.9" y2="193.3" stroke="#5a5a5a" stroke-width="0.5"/>
<line x1="318.4" y1="176.1" x2="412.4" y2="122.9" stroke="#5a5a5a" stroke-width="0.5"/>
<line x1="412.4" y1="122.9" x2="531.9" y2="165.6" stroke="#5a5a5a" stroke-width="0.5"/>
<line x1="318.4" y1="148.4" x2="412.4" y2="95.2" stroke="#5a5a5a" stroke-width="0.5"/>
<line x1="412.4" y1="95.2" x2="531.9" y2="137.9" stroke="#5a5a5a" stroke-width="0.5"/>
<line x1="318.4" y1="120.8" x2="412.4" y2="67.6" stroke="#5a5a5a" stroke-width="0.5"/>
<line x1="412.4" y1="67.6" x2="531.9" y2="110.3" stroke="#5a5a5a" stroke-width="0.5"/>
<line x1="318.4" y1="93.1" x2="412.4" y2="39.9" stroke="#5a5a5a" stroke-width="0.5"/>
<line x1="412.4" y1="39.9" x2="531.9" y2="82.6" stroke="#5a5a5a" stroke-width="0.5"/>
<line x1="318.4" y1="65.4" x2="412.4" y2="12.2" stroke="#5a5a5a" stroke-width="0.5"/>
<line x1="412.4" y1="12.2" x2="531.9" y2="54.9" stroke="#5a5a5a" stroke-width="0.5"/>
<line x1="318.4" y1="203.8" x2="437.9" y2="246.5" stroke="#262626" stroke-width="0.8"/>
<line x1="437.9" y1="246.5" x2="531.9" y2="193.3" stroke="#262626" stroke-width="0.8"/>
<line x1="318.4" y1="203.8" x2="318.4" y2="65.4" stroke="#262626" stroke-width="0.8"/>
<line x1="318.4" y1="65.4" x2="412.4" y2="12.2" stroke="#262626" stroke-width="0.8"/>
<line x1="412.4" y1="12.2" x2="531.9" y2="54.9" stroke="#262626" stroke-width="0.8"/>
<line x1="531.9" y1="54.9" x2="531.9" y2="193.3" stroke="#262626" stroke-width="0.8"/>
<line x1="318.4" y1="203.8" x2="412.4" y2="150.6" stroke="#262626" stroke-width="0.8"/>
<line x1="412.4" y1="150.6" x2="531.9" y2="193.3" stroke="#262626" stroke-width="0.8"/>
<line x1="412.4" y1="150.6" x2="412.4" y2="12.2" stroke="#262626" stroke-width="0.8"/>
<line x1="318.4" y1="203.8" x2="315.6" y2="205.4" stroke="#262626" stroke-width="0.8"/>
<line x1="331.7" y1="208.5" x2="328.9" y2="210.1" stroke="#262626" stroke-width="0.8"/>
<line x1="345" y1="213.3" x2="342.2" y2="214.9" stroke="#262626" stroke-width="0.8"/>
<line x1="358.2" y1="218" x2="355.4" y2="219.6" stroke="#262626" stroke-width="0.8"/>
<line x1="371.5" y1="222.8" x2="368.7" y2="224.4" stroke="#262626" stroke-width="0.8"/>
<line x1="384.8" y1="227.5" x2="382" y2="229.1" stroke="#262626" stroke-width="0.8"/>
<line x1="398.1" y1="232.3" x2="395.3" y2="233.8" stroke="#262626" stroke-width="0.8"/>
<line x1="411.3" y1="237" x2="408.6" y2="238.6" stroke="#262626" stroke-width="0.8"/>
<line x1="424.6" y1="241.8" x2="421.8" y2="243.3" stroke="#262626" stroke-width="0.8"/>
<line x1="437.9" y1="246.5" x2="435.1" y2="248.1" stroke="#262626" stroke-width="0.8"/>
<line x1="437.9" y1="246.5" x2="440.9" y2="247.6" stroke="#262626" stroke-width="0.8"/>
<line x1="449.6" y1="239.8" x2="452.7" y2="240.9" stroke="#262626" stroke-width="0.8"/>
<line x1="461.4" y1="233.2" x2="464.4" y2="234.3" stroke="#262626" stroke-width="0.8"/>
<line x1="473.1" y1="226.6" x2="476.2" y2="227.6" stroke="#262626" stroke-width="0.8"/>
<line x1="484.9" y1="219.9" x2="487.9" y2="221" stroke="#262626" stroke-width="0.8"/>
<line x1="496.6" y1="213.2" x2="499.7" y2="214.3" stroke="#262626" stroke-width="0.8"/>
<line x1="508.4" y1="206.6" x2="511.4" y2="207.7" stroke="#262626" stroke-width="0.8"/>
<line x1="520.1" y1="199.9" x2="523.2" y2="201" stroke="#262626" stroke-width="0.8"/>
<line x1="531.9" y1="193.3" x2="534.9" y2="194.4" stroke="#262626" stroke-width="0.8"/>
<line x1="318.4" y1="203.8" x2="315.2" y2="203.8" stroke="#262626" stroke-width="0.8"/>
<line x1="318.4" y1="176.1" x2="315.2" y2="176.1" stroke="#262626" stroke-width="0.8"/>
<line x1="318.4" y1="148.4" x2="315.2" y2="148.4" stroke="#262626" stroke-width="0.8"/>
<line x1="318.4" y1="120.8" x2="315.2" y2="120.8" stroke="#262626" stroke-width="0.8"/>
<line x1="318.4" y1="93.1" x2="315.2" y2="93.1" stroke="#262626" stroke-width="0.8"/>
<line x1="318.4" y1="65.4" x2="315.2" y2="65.4" stroke="#262626" stroke-width="0.8"/>
<g font-family="Liberation Sans, Arial, sans-serif" font-size="7.6" fill="#1a1a1a">
<text x="314.4" y="215.4" text-anchor="end">0</text>
<text x="327.7" y="220.1" text-anchor="end">2</text>
<text x="341" y="224.9" text-anchor="end">4</text>
<text x="354.2" y="229.6" text-anchor="end">6</text>
<text x="367.5" y="234.4" text-anchor="end">8</text>
<text x="380.8" y="239.1" text-anchor="end">10</text>
<text x="394.1" y="243.9" text-anchor="end">12</text>
<text x="407.3" y="248.6" text-anchor="end">14</text>
<text x="420.6" y="253.4" text-anchor="end">16</text>
<text x="433.9" y="258.1" text-anchor="end">18</text>
<text x="445.7" y="256.9">0</text>
<text x="457.4" y="250.2">5</text>
<text x="469.2" y="243.6">10</text>
<text x="480.9" y="237">15</text>
<text x="492.7" y="230.3">20</text>
<text x="504.4" y="223.7">25</text>
<text x="516.2" y="217">30</text>
<text x="527.9" y="210.3">35</text>
<text x="539.7" y="203.7">40</text>
<text x="314" y="205.5" text-anchor="end">0</text>
<text x="314" y="177.8" text-anchor="end">0.05</text>
<text x="314" y="150.1" text-anchor="end">0.1</text>
<text x="314" y="122.5" text-anchor="end">0.15</text>
<text x="314" y="94.8" text-anchor="end">0.2</text>
<text x="314" y="67.1" text-anchor="end">0.25</text>
</g>
<text x="431.3" y="9.6" text-anchor="middle" font-family="Liberation Sans, Arial, sans-serif" font-weight="bold" font-size="8.5" fill="#111">Torque Coefficient</text>
<text transform="translate(296.6,124.3) rotate(-90)" text-anchor="middle" font-family="Liberation Sans, sans-serif" font-style="italic" font-size="8.2" fill="#1a1a1a">C<tspan font-size="5.8" dy="1.7">t</tspan></text>
<text x="364.5" y="244.4" text-anchor="middle" font-family="Liberation Sans, sans-serif" font-style="italic" font-size="8.4" fill="#1a1a1a">λ</text>
<text x="497.8" y="247.3" text-anchor="middle" font-family="Liberation Sans, sans-serif" font-style="italic" font-size="8.4" fill="#1a1a1a">β</text>
<text x="456.1" y="270" text-anchor="middle" font-family="Liberation Sans, sans-serif" font-size="9" fill="#1a1a1a">(b)</text>
<g stroke="#000" stroke-width="0.75" stroke-linejoin="round">
<path d="M449.9 154.6l2.6 12.5l0.2 -2.1l-0.5 -2.6z" fill="#0b74dd"/>
<path d="M446.6 141.4l3.3 13.2l2.3 7.8l-3.3 -14.9z" fill="#117ad9"/>
<path d="M450.9 163.3l1.2 5.8l0.2 -1.3z" fill="#0870df"/>
<path d="M447.5 148.9l3.4 14.4l1.4 4.5l0.2 -0.7l-2.6 -12.5z" fill="#0f78db"/>
<path d="M443.2 124.8l3.4 16.6l2.3 6.1l-3.3 -18.3z" fill="#1483d5"/>
<path d="M448.5 158l3.1 13.1l0.5 -2l-1.2 -5.8z" fill="#0c74dd"/>
<path d="M444.2 137l3.3 11.9l2.4 5.7l-3.3 -13.2z" fill="#137dd7"/>
<path d="M445.2 144.9l3.3 13.1l2.4 5.3l-3.4 -14.4z" fill="#117bd9"/>
<path d="M449.5 167.1l1.5 6l0.5 -1.7z" fill="#0870df"/>
<path d="M446.2 154.1l3.3 13l2 4.3l0.1 -0.3l-3.1 -13.1z" fill="#0e77db"/>
<path d="M440.9 121.8l3.3 15.2l2.4 4.4l-3.4 -16.6z" fill="#1485d4"/>
<path d="M439.9 107.3l3.3 17.5l2.4 4.4l-3.3 -19z" fill="#118dd2"/>
<path d="M441.9 134l3.3 10.9l2.3 4l-3.3 -11.9z" fill="#1480d6"/>
<path d="M447.1 163.4l3.2 11.6l0.7 -1.9l-1.5 -6z" fill="#0b73dd"/>
<path d="M442.8 142l3.4 12.1l2.3 3.9l-3.3 -13.1z" fill="#137dd8"/>
<path d="M443.8 151.4l3.3 12l2.4 3.7l-3.3 -13z" fill="#1079da"/>
<path d="M438.5 119.9l3.4 14.1l2.3 3l-3.3 -15.2z" fill="#1388d3"/>
<path d="M437.6 105.6l3.3 16.2l2.3 3l-3.3 -17.5z" fill="#0f90d2"/>
<path d="M448.1 171.8l1.5 5.1l0.7 -1.8z" fill="#0770df"/>
<path d="M436.6 92.8l3.3 14.5l2.4 2.9l-3.3 -15.9z" fill="#0a97d1"/>
<path d="M444.8 160.6l3.3 11.2l2.2 3.3l0 -0.1l-3.2 -11.6z" fill="#0d75dc"/>
<path d="M439.5 132l3.3 10l2.4 2.9l-3.3 -10.9z" fill="#1482d5"/>
<path d="M440.5 140.1l3.3 11.3l2.4 2.7l-3.4 -12.1z" fill="#137fd7"/>
<path d="M436.2 118.8l3.3 13.2l2.4 2l-3.4 -14.1z" fill="#1389d3"/>
<path d="M445.7 169l3.1 9.8l0.8 -1.9l-1.5 -5.1z" fill="#0a72de"/>
<path d="M435.2 104.8l3.3 15.1l2.4 1.9l-3.3 -16.2z" fill="#0e91d2"/>
<path d="M441.5 149.4l3.3 11.2l2.3 2.8l-3.3 -12z" fill="#117bd9"/>
<path d="M434.3 92.2l3.3 13.4l2.3 1.7l-3.3 -14.5z" fill="#0998d1"/>
<path d="M437.2 130.8l3.3 9.3l2.3 1.9l-3.3 -10z" fill="#1483d5"/>
<path d="M433.3 77.2l3.3 15.6l2.4 1.5l-3.4 -16.9z" fill="#06a0cd"/>
<path d="M442.4 158.5l3.3 10.5l2.4 2.8l-3.3 -11.2z" fill="#0f77db"/>
<path d="M438.1 138.8l3.4 10.6l2.3 2l-3.3 -11.3z" fill="#1480d6"/>
<path d="M443.4 166.8l3.3 9.9l2 2.4l0.1 -0.3l-3.1 -9.8z" fill="#0c74dd"/>
<path d="M433.8 118.4l3.4 12.4l2.3 1.2l-3.3 -13.2z" fill="#128ad3"/>
<path d="M446.7 176.7l1.3 4l0.7 -1.6z" fill="#076fdf"/>
<path d="M432.9 104.7l3.3 14.1l2.3 1.1l-3.3 -15.1z" fill="#0d92d2"/>
<path d="M431.9 92.3l3.3 12.5l2.4 0.8l-3.3 -13.4z" fill="#0899d1"/>
<path d="M439.1 148l3.3 10.5l2.4 2.1l-3.3 -11.2z" fill="#127cd8"/>
<path d="M434.8 130.2l3.3 8.6l2.4 1.3l-3.3 -9.3z" fill="#1484d4"/>
<path d="M430.9 77.7l3.4 14.5l2.3 0.6l-3.3 -15.6z" fill="#06a0cd"/>
<path d="M440.1 157l3.3 9.8l2.3 2.2l-3.3 -10.5z" fill="#1079da"/>
<path d="M435.8 138.1l3.3 9.9l2.4 1.4l-3.4 -10.6z" fill="#1481d5"/>
<path d="M444.4 174.5l2.8 8.1l0.8 -1.9l-1.3 -4z" fill="#0971de"/>
<path d="M431.5 118.5l3.3 11.7l2.4 0.6l-3.4 -12.4z" fill="#128bd2"/>
<path d="M430 59.1l3.3 18.1l2.3 0.2l-3.3 -19.3z" fill="#06a7c5"/>
<path d="M430.5 105.1l3.3 13.3l2.4 0.4l-3.3 -14.1z" fill="#0d93d2"/>
<path d="M429.6 93l3.3 11.7l2.3 0.1l-3.3 -12.5z" fill="#0899d1"/>
<path d="M428.6 78.7l3.3 13.6l2.4 -0.1l-3.4 -14.5z" fill="#06a0cd"/>
<path d="M436.8 147.1l3.3 9.9l2.3 1.5l-3.3 -10.5z" fill="#137ed7"/>
<path d="M441 165.3l3.4 9.2l2.3 2.2l-3.3 -9.9z" fill="#0d76dc"/>
<path d="M432.5 130l3.3 8.1l2.3 0.7l-3.3 -8.6z" fill="#1485d4"/>
<path d="M427.6 60.6l3.3 17.1l2.4 -0.5l-3.3 -18.1z" fill="#06a7c5"/>
<path d="M437.7 156l3.3 9.3l2.4 1.5l-3.3 -9.8z" fill="#117ad9"/>
<path d="M433.4 137.8l3.4 9.3l2.3 0.9l-3.3 -9.9z" fill="#1482d5"/>
<path d="M428.2 105.9l3.3 12.6l2.3 -0.1l-3.3 -13.3z" fill="#0c93d2"/>
<path d="M429.1 118.9l3.4 11.1l2.3 0.2l-3.3 -11.7z" fill="#128cd2"/>
<path d="M427.2 94l3.3 11.1l2.4 -0.4l-3.3 -11.7z" fill="#089ad1"/>
<path d="M442 172.9l3.3 9l1.5 1.3l0.4 -0.6l-2.8 -8.1z" fill="#0a73dd"/>
<path d="M426.2 80.1l3.4 12.9l2.3 -0.7l-3.3 -13.6z" fill="#06a0cd"/>
<path d="M445.3 181.9l1 2.5l0.5 -1.2z" fill="#066edf"/>
<path d="M430.1 130.1l3.3 7.7l2.4 0.3l-3.3 -8.1z" fill="#1486d4"/>
<path d="M434.4 146.7l3.3 9.3l2.4 1l-3.3 -9.9z" fill="#137fd7"/>
<path d="M438.7 164.2l3.3 8.7l2.4 1.6l-3.4 -9.2z" fill="#0f77db"/>
<path d="M425.3 62.6l3.3 16.1l2.3 -1l-3.3 -17.1z" fill="#06a7c6"/>
<path d="M424.9 95.4l3.3 10.5l2.3 -0.8l-3.3 -11.1z" fill="#089ad1"/>
<path d="M425.8 106.9l3.3 12l2.4 -0.4l-3.3 -12.6z" fill="#0c94d2"/>
<path d="M426.8 119.6l3.3 10.5l2.4 -0.1l-3.4 -11.1z" fill="#118cd2"/>
<path d="M423.9 81.8l3.3 12.2l2.4 -1l-3.4 -12.9z" fill="#06a0cd"/>
<path d="M431.1 137.8l3.3 8.9l2.4 0.4l-3.4 -9.3z" fill="#1483d5"/>
<path d="M443 180.2l2.3 6l1 -1.8l-1 -2.5z" fill="#0870df"/>
<path d="M435.4 155.4l3.3 8.8l2.3 1.1l-3.3 -9.3z" fill="#127bd9"/>
<path d="M426.6 38.1l3.4 21l2.3 -1l-3.3 -22.3z" fill="#0faeb9"/>
<path d="M439.7 171.8l3.3 8.4l2.3 1.7l-3.3 -9z" fill="#0c74dd"/>
<path d="M427.8 130.6l3.3 7.2l2.3 0l-3.3 -7.7z" fill="#1487d3"/>
<path d="M422.9 64.8l3.3 15.3l2.4 -1.4l-3.3 -16.1z" fill="#06a6c6"/>
<path d="M432.1 146.6l3.3 8.8l2.3 0.6l-3.3 -9.3z" fill="#137fd6"/>
<path d="M422.5 97l3.3 9.9l2.4 -1l-3.3 -10.5z" fill="#0899d1"/>
<path d="M421.5 83.8l3.4 11.6l2.3 -1.4l-3.3 -12.2z" fill="#06a0cd"/>
<path d="M423.5 108.2l3.3 11.4l2.3 -0.7l-3.3 -12z" fill="#0c94d2"/>
<path d="M436.3 163.4l3.4 8.4l2.3 1.1l-3.3 -8.7z" fill="#1078da"/>
<path d="M424.4 120.6l3.4 10l2.3 -0.5l-3.3 -10.5z" fill="#118cd2"/>
<path d="M424.3 40.7l3.3 19.9l2.4 -1.5l-3.4 -21z" fill="#0eaeba"/>
<path d="M428.7 138.1l3.4 8.5l2.3 0.1l-3.3 -8.9z" fill="#1483d4"/>
<path d="M420.6 67.2l3.3 14.6l2.3 -1.7l-3.3 -15.3z" fill="#06a6c7"/>
<path d="M433 155.1l3.3 8.3l2.4 0.8l-3.3 -8.8z" fill="#127cd8"/>
<path d="M440.6 178.9l3.4 8.1l0.7 0.5l0.6 -1.3l-2.3 -6z" fill="#0972de"/>
<path d="M425.4 131.2l3.3 6.9l2.4 -0.3l-3.3 -7.2z" fill="#1487d3"/>
<path d="M419.2 85.9l3.3 11.1l2.4 -1.6l-3.4 -11.6z" fill="#069fce"/>
<path d="M443.9 187l0.4 1.1l0.3 -0.6z" fill="#056ee0"/>
<path d="M420.2 98.7l3.3 9.5l2.3 -1.3l-3.3 -9.9z" fill="#0899d1"/>
<path d="M421.9 43.6l3.4 19l2.3 -2l-3.3 -19.9z" fill="#0dadbb"/>
<path d="M437.3 170.9l3.3 8l2.4 1.3l-3.3 -8.4z" fill="#0d76dc"/>
<path d="M421.1 109.7l3.3 10.9l2.4 -1l-3.3 -11.4z" fill="#0c93d2"/>
<path d="M429.7 146.7l3.3 8.4l2.4 0.3l-3.3 -8.8z" fill="#1480d6"/>
<path d="M422.1 121.7l3.3 9.5l2.4 -0.6l-3.4 -10z" fill="#118dd2"/>
<path d="M418.2 69.8l3.3 14l2.4 -2l-3.3 -14.6z" fill="#06a5c8"/>
<path d="M434 163l3.3 7.9l2.4 0.9l-3.4 -8.4z" fill="#1079da"/>
<path d="M423.3 25.2l3.3 12.9l2.4 -2.3l-3.3 -13.7z" fill="#1ab2b1"/>
<path d="M426.4 138.7l3.3 8l2.4 -0.1l-3.4 -8.5z" fill="#1484d4"/>
<path d="M419.6 46.6l3.3 18.2l2.4 -2.2l-3.4 -19z" fill="#0cadbc"/>
<path d="M416.8 88.1l3.4 10.6l2.3 -1.7l-3.3 -11.1z" fill="#069fce"/>
<path d="M441.6 185.6l1.9 4.3l0.9 -1.8l-0.4 -1.1z" fill="#076fdf"/>
<path d="M430.7 155.1l3.3 7.9l2.3 0.4l-3.3 -8.3z" fill="#127dd8"/>
<path d="M423.1 132.1l3.3 6.6l2.3 -0.6l-3.3 -6.9z" fill="#1487d3"/>
<path d="M417.8 100.6l3.3 9.1l2.4 -1.5l-3.3 -9.5z" fill="#0899d1"/>
<path d="M438.3 177.9l3.3 7.7l2.4 1.4l-3.4 -8.1z" fill="#0b73dd"/>
<path d="M418.8 111.3l3.3 10.4l2.3 -1.1l-3.3 -10.9z" fill="#0c93d2"/>
<path d="M415.9 72.5l3.3 13.4l2.3 -2.1l-3.3 -14z" fill="#06a5c8"/>
<path d="M421 28.4l3.3 12.3l2.3 -2.6l-3.3 -12.9z" fill="#18b1b2"/>
<path d="M419.7 123l3.4 9.1l2.3 -0.9l-3.3 -9.5z" fill="#118dd2"/>
<path d="M427.4 147.1l3.3 8l2.3 0l-3.3 -8.4z" fill="#1481d6"/>
<path d="M435 170.3l3.3 7.6l2.3 1l-3.3 -8z" fill="#0e77db"/>
<path d="M417.2 49.8l3.4 17.4l2.3 -2.4l-3.3 -18.2z" fill="#0aacbd"/>
<path d="M421.8 17.7l1.5 7.5l2.4 -3.1l-1.1 -5.5z" fill="#2cb7a5"/>
<path d="M414.5 90.5l3.3 10.1l2.4 -1.9l-3.4 -10.6z" fill="#069ece"/>
<path d="M424 139.4l3.4 7.7l2.3 -0.4l-3.3 -8z" fill="#1484d4"/>
<path d="M431.6 162.7l3.4 7.6l2.3 0.6l-3.3 -7.9z" fill="#117ad9"/>
<path d="M415.5 102.6l3.3 8.7l2.3 -1.6l-3.3 -9.1z" fill="#0998d1"/>
<path d="M418.6 31.9l3.3 11.7l2.4 -2.9l-3.3 -12.3z" fill="#16b1b4"/>
<path d="M413.5 75.3l3.3 12.8l2.4 -2.2l-3.3 -13.4z" fill="#06a4c9"/>
<path d="M420.7 133.2l3.3 6.2l2.4 -0.7l-3.3 -6.6z" fill="#1487d3"/>
<path d="M416.4 113l3.3 10l2.4 -1.3l-3.3 -10.4z" fill="#0d93d2"/>
<path d="M428.3 155.2l3.3 7.5l2.4 0.3l-3.3 -7.9z" fill="#137dd7"/>
<path d="M414.9 53.1l3.3 16.7l2.4 -2.6l-3.4 -17.4z" fill="#09abbf"/>
<path d="M419 18.9l2 9.5l2.3 -3.2l-1.5 -7.5z" fill="#29b6a7"/>
<path d="M417.4 124.4l3.3 8.8l2.4 -1.1l-3.4 -9.1z" fill="#118dd2"/>
<path d="M439.2 184.4l3.4 7.4l0 0l0.9 -1.9l-1.9 -4.3z" fill="#0871de"/>
<path d="M412.1 92.9l3.4 9.7l2.3 -2l-3.3 -10.1z" fill="#079ecf"/>
<path d="M416.3 35.4l3.3 11.2l2.3 -3l-3.3 -11.7z" fill="#14b0b5"/>
<path d="M435.9 177.1l3.3 7.3l2.4 1.2l-3.3 -7.7z" fill="#0c74dd"/>
<path d="M425 147.6l3.3 7.6l2.4 -0.1l-3.3 -8z" fill="#1481d6"/>
<path d="M411.2 78.2l3.3 12.3l2.3 -2.4l-3.3 -12.8z" fill="#06a4ca"/>
<path d="M413.1 104.7l3.3 8.3l2.4 -1.7l-3.3 -8.7z" fill="#0998d1"/>
<path d="M432.6 169.8l3.3 7.3l2.4 0.8l-3.3 -7.6z" fill="#0f78db"/>
<path d="M421.7 140.3l3.3 7.3l2.4 -0.5l-3.4 -7.7z" fill="#1485d4"/>
<path d="M412.5 56.5l3.4 16l2.3 -2.7l-3.3 -16.7z" fill="#08abc0"/>
<path d="M414.1 114.9l3.3 9.5l2.3 -1.4l-3.3 -10z" fill="#0d93d2"/>
<path d="M418.4 134.3l3.3 6l2.3 -0.9l-3.3 -6.2z" fill="#1388d3"/>
<path d="M416 20l2.6 11.9l2.4 -3.5l-2 -9.5z" fill="#25b5a9"/>
<path d="M413.9 39l3.3 10.8l2.4 -3.2l-3.3 -11.2z" fill="#12afb7"/>
<path d="M429.3 162.6l3.3 7.2l2.4 0.5l-3.4 -7.6z" fill="#117bd9"/>
<path d="M409.8 95.4l3.3 9.3l2.4 -2.1l-3.4 -9.7z" fill="#079dcf"/>
<path d="M415 125.9l3.4 8.4l2.3 -1.1l-3.3 -8.8z" fill="#118cd2"/>
<path d="M426 155.5l3.3 7.1l2.3 0.1l-3.3 -7.5z" fill="#137ed7"/>
<path d="M408.8 81.1l3.3 11.8l2.4 -2.4l-3.3 -12.3z" fill="#06a3cb"/>
<path d="M440.2 190.5l1.5 3.1l0.9 -1.8l0 0z" fill="#066fdf"/>
<path d="M410.2 60l3.3 15.3l2.4 -2.8l-3.4 -16z" fill="#07aac1"/>
<path d="M410.8 106.9l3.3 8l2.3 -1.9l-3.3 -8.3z" fill="#0997d1"/>
<path d="M436.9 183.5l3.3 7l2.4 1.3l-3.4 -7.4z" fill="#0a72de"/>
<path d="M422.7 148.3l3.3 7.2l2.3 -0.3l-3.3 -7.6z" fill="#1481d5"/>
<path d="M411.6 42.7l3.3 10.4l2.3 -3.3l-3.3 -10.8z" fill="#10afb9"/>
<path d="M413 21.1l3.3 14.3l2.3 -3.5l-2.6 -11.9z" fill="#22b4ab"/>
<path d="M433.6 176.5l3.3 7l2.3 0.9l-3.3 -7.3z" fill="#0d75dc"/>
<path d="M411.7 116.8l3.3 9.1l2.4 -1.5l-3.3 -9.5z" fill="#0d92d2"/>
<path d="M419.3 141.3l3.4 7l2.3 -0.7l-3.3 -7.3z" fill="#1485d4"/>
<path d="M416 135.5l3.3 5.8l2.4 -1l-3.3 -6z" fill="#1388d3"/>
<path d="M407.4 98l3.4 8.9l2.3 -2.2l-3.3 -9.3z" fill="#079cd0"/>
<path d="M430.3 169.6l3.3 6.9l2.3 0.6l-3.3 -7.3z" fill="#1078da"/>
<path d="M406.5 84.1l3.3 11.3l2.3 -2.5l-3.3 -11.8z" fill="#06a2cb"/>
<path d="M407.8 63.4l3.4 14.8l2.3 -2.9l-3.3 -15.3z" fill="#07a9c2"/>
<path d="M409.2 46.5l3.3 10l2.4 -3.4l-3.3 -10.4z" fill="#0eaeba"/>
<path d="M412.7 127.5l3.3 8l2.4 -1.2l-3.4 -8.4z" fill="#118cd2"/>
<path d="M426.9 162.7l3.4 6.9l2.3 0.2l-3.3 -7.2z" fill="#127bd9"/>
<path d="M408.4 109.2l3.3 7.6l2.4 -1.9l-3.3 -8z" fill="#0a97d1"/>
<path d="M410.6 24.9l3.3 14.1l2.4 -3.6l-3.3 -14.3l-0.3 0.1z" fill="#1fb3ae"/>
<path d="M423.6 156l3.3 6.7l2.4 -0.1l-3.3 -7.1z" fill="#137fd7"/>
<path d="M420.3 149l3.3 7l2.4 -0.5l-3.3 -7.2z" fill="#1482d5"/>
<path d="M409.4 118.8l3.3 8.7l2.3 -1.6l-3.3 -9.1z" fill="#0e92d2"/>
<path d="M405.5 66.9l3.3 14.2l2.4 -2.9l-3.4 -14.8z" fill="#06a8c4"/>
<path d="M406.9 50.2l3.3 9.8l2.3 -3.5l-3.3 -10z" fill="#0cadbc"/>
<path d="M405.1 100.6l3.3 8.6l2.4 -2.3l-3.4 -8.9z" fill="#079bd0"/>
<path d="M404.1 87.1l3.3 10.9l2.4 -2.6l-3.3 -11.3z" fill="#06a1cc"/>
<path d="M408.3 29l3.3 13.7l2.3 -3.7l-3.3 -14.1z" fill="#1cb3b0"/>
<path d="M437.9 189.5l2.9 6l0.9 -1.9l-1.5 -3.1z" fill="#0770df"/>
<path d="M417 142.4l3.3 6.6l2.4 -0.7l-3.4 -7z" fill="#1485d4"/>
<path d="M434.5 182.9l3.3 6.6l2.3 1l-3.3 -7z" fill="#0b73dd"/>
<path d="M413.7 136.8l3.3 5.6l2.3 -1.1l-3.3 -5.8z" fill="#1388d3"/>
<path d="M431.2 176.2l3.4 6.7l2.3 0.6l-3.3 -7z" fill="#0e76dc"/>
<path d="M406.1 111.4l3.3 7.4l2.3 -2l-3.3 -7.6z" fill="#0a96d1"/>
<path d="M410.3 129.2l3.4 7.6l2.3 -1.3l-3.3 -8z" fill="#118cd2"/>
<path d="M405.9 33.2l3.3 13.3l2.4 -3.8l-3.3 -13.7z" fill="#19b2b2"/>
<path d="M404.5 54l3.3 9.4l2.4 -3.4l-3.3 -9.8z" fill="#0aacbd"/>
<path d="M410.3 22.3l0.3 2.6l2.1 -3.7z" fill="#49bc94"/>
<path d="M427.9 169.5l3.3 6.7l2.4 0.3l-3.3 -6.9z" fill="#1079da"/>
<path d="M403.1 70.5l3.4 13.6l2.3 -3l-3.3 -14.2z" fill="#06a7c5"/>
<path d="M401.8 90.2l3.3 10.4l2.3 -2.6l-3.3 -10.9z" fill="#06a0cd"/>
<path d="M424.6 163l3.3 6.5l2.4 0.1l-3.4 -6.9z" fill="#127cd8"/>
<path d="M402.7 103.2l3.4 8.2l2.3 -2.2l-3.3 -8.6z" fill="#089bd0"/>
<path d="M407 120.8l3.3 8.4l2.4 -1.7l-3.3 -8.7z" fill="#0e91d2"/>
<path d="M421.3 156.5l3.3 6.5l2.3 -0.3l-3.3 -6.7z" fill="#137fd7"/>
<path d="M403.6 37.3l3.3 12.9l2.3 -3.7l-3.3 -13.3z" fill="#16b1b4"/>
<path d="M418 149.9l3.3 6.6l2.3 -0.5l-3.3 -7z" fill="#1482d5"/>
<path d="M407.7 23.5l0.6 5.5l2.3 -4.1l-0.3 -2.6z" fill="#43bb97"/>
<path d="M402.2 57.8l3.3 9.1l2.3 -3.5l-3.3 -9.4z" fill="#09abbf"/>
<path d="M414.6 143.5l3.4 6.4l2.3 -0.9l-3.3 -6.6z" fill="#1485d4"/>
<path d="M400.8 74l3.3 13.1l2.4 -3l-3.4 -13.6z" fill="#06a7c6"/>
<path d="M403.7 113.7l3.3 7.1l2.4 -2l-3.3 -7.4z" fill="#0b95d1"/>
<path d="M411.3 138.2l3.3 5.3l2.4 -1.1l-3.3 -5.6z" fill="#1388d3"/>
<path d="M435.5 188.8l3.3 6.4l1.7 0.8l0.3 -0.5l-2.9 -6z" fill="#0971de"/>
<path d="M408 130.9l3.3 7.3l2.4 -1.4l-3.4 -7.6z" fill="#128cd2"/>
<path d="M399.4 93.2l3.3 10l2.4 -2.6l-3.3 -10.4z" fill="#06a0cd"/>
<path d="M401.2 41.5l3.3 12.5l2.4 -3.8l-3.3 -12.9z" fill="#13b0b6"/>
<path d="M432.2 182.4l3.3 6.4l2.4 0.7l-3.3 -6.6z" fill="#0c74dd"/>
<path d="M400.4 105.8l3.3 7.9l2.4 -2.3l-3.4 -8.2z" fill="#089ad0"/>
<path d="M399.8 61.7l3.3 8.8l2.4 -3.6l-3.3 -9.1z" fill="#08aac0"/>
<path d="M428.9 176l3.3 6.4l2.4 0.5l-3.4 -6.7z" fill="#0e77db"/>
<path d="M438.8 195.2l1.1 2.1l0.6 -1.3z" fill="#066ee0"/>
<path d="M404.7 122.9l3.3 8l2.3 -1.7l-3.3 -8.4z" fill="#0e91d2"/>
<path d="M405 24.7l0.9 8.5l2.4 -4.2l-0.6 -5.5z" fill="#3eba9a"/>
<path d="M425.6 169.7l3.3 6.3l2.3 0.2l-3.3 -6.7z" fill="#117ada"/>
<path d="M398.4 77.6l3.4 12.6l2.3 -3.1l-3.3 -13.1z" fill="#06a6c7"/>
<path d="M422.2 163.4l3.4 6.3l2.3 -0.2l-3.3 -6.5z" fill="#127dd8"/>
<path d="M398.9 45.7l3.3 12.1l2.3 -3.8l-3.3 -12.5z" fill="#11afb8"/>
<path d="M418.9 157.2l3.3 6.2l2.4 -0.4l-3.3 -6.5z" fill="#137fd6"/>
<path d="M401.4 116.1l3.3 6.8l2.3 -2.1l-3.3 -7.1z" fill="#0b95d2"/>
<path d="M415.6 150.9l3.3 6.3l2.4 -0.7l-3.3 -6.6z" fill="#1482d5"/>
<path d="M397.1 96.3l3.3 9.5l2.3 -2.6l-3.3 -10z" fill="#069fce"/>
<path d="M397.5 65.5l3.3 8.5l2.3 -3.5l-3.3 -8.8z" fill="#07a9c2"/>
<path d="M409 139.7l3.3 5.1l2.3 -1.3l-3.3 -5.3z" fill="#1388d3"/>
<path d="M412.3 144.8l3.3 6.1l2.4 -1l-3.4 -6.4z" fill="#1485d4"/>
<path d="M405.6 132.7l3.4 7l2.3 -1.5l-3.3 -7.3z" fill="#128bd2"/>
<path d="M398 108.5l3.4 7.6l2.3 -2.4l-3.3 -7.9z" fill="#0899d1"/>
<path d="M402.3 25.9l1.3 11.4l2.3 -4.1l-0.9 -8.5z" fill="#38b99e"/>
<path d="M396.1 81.1l3.3 12.1l2.4 -3l-3.4 -12.6z" fill="#06a5c9"/>
<path d="M396.5 49.9l3.3 11.8l2.4 -3.9l-3.3 -12.1z" fill="#0eaeba"/>
<path d="M402.3 125l3.3 7.7l2.4 -1.8l-3.3 -8z" fill="#0f90d2"/>
<path d="M436.5 194.3l2.6 4.9l0.8 -1.9l-1.1 -2.1z" fill="#076fdf"/>
<path d="M395.1 69.3l3.3 8.3l2.4 -3.6l-3.3 -8.5z" fill="#06a8c3"/>
<path d="M433.2 188.2l3.3 6.1l2.3 0.9l-3.3 -6.4z" fill="#0a72de"/>
<path d="M394.7 99.3l3.3 9.2l2.4 -2.7l-3.3 -9.5z" fill="#079ecf"/>
<path d="M399 118.4l3.3 6.6l2.4 -2.1l-3.3 -6.8z" fill="#0c94d2"/>
<path d="M429.8 182.1l3.4 6.1l2.3 0.6l-3.3 -6.4z" fill="#0d75dc"/>
<path d="M426.5 176l3.3 6.1l2.4 0.3l-3.3 -6.4z" fill="#0f78db"/>
<path d="M394.2 54l3.3 11.5l2.3 -3.8l-3.3 -11.8z" fill="#0cadbb"/>
<path d="M423.2 169.9l3.3 6.1l2.4 0l-3.3 -6.3z" fill="#117ad9"/>
<path d="M393.7 84.7l3.4 11.6l2.3 -3.1l-3.3 -12.1z" fill="#06a4ca"/>
<path d="M395.7 111.2l3.3 7.2l2.4 -2.3l-3.4 -7.6z" fill="#0998d1"/>
<path d="M419.9 163.9l3.3 6l2.4 -0.2l-3.4 -6.3z" fill="#137dd8"/>
<path d="M399.5 27.1l1.7 14.4l2.4 -4.2l-1.3 -11.4z" fill="#33b8a1"/>
<path d="M416.6 158l3.3 5.9l2.3 -0.5l-3.3 -6.2z" fill="#1480d6"/>
<path d="M406.6 141.2l3.3 4.9l2.4 -1.3l-3.3 -5.1z" fill="#1487d3"/>
<path d="M413.3 152l3.3 6l2.3 -0.8l-3.3 -6.3z" fill="#1482d5"/>
<path d="M403.3 134.5l3.3 6.7l2.4 -1.5l-3.4 -7z" fill="#128bd2"/>
<path d="M409.9 146.1l3.4 5.9l2.3 -1.1l-3.3 -6.1z" fill="#1485d4"/>
<path d="M392.8 73.1l3.3 8l2.3 -3.5l-3.3 -8.3z" fill="#06a7c5"/>
<path d="M391.8 58.2l3.3 11.1l2.4 -3.8l-3.3 -11.5z" fill="#0aacbd"/>
<path d="M400 127.1l3.3 7.4l2.3 -1.8l-3.3 -7.7z" fill="#0f8fd2"/>
<path d="M392.4 102.4l3.3 8.8l2.3 -2.7l-3.3 -9.2z" fill="#079dcf"/>
<path d="M391.4 88.2l3.3 11.1l2.4 -3l-3.4 -11.6z" fill="#06a3cb"/>
<path d="M396.7 120.8l3.3 6.3l2.3 -2.1l-3.3 -6.6z" fill="#0c93d2"/>
<path d="M396.8 28.3l2.1 17.4l2.3 -4.2l-1.7 -14.4z" fill="#2eb7a4"/>
<path d="M390.4 76.9l3.3 7.8l2.4 -3.6l-3.3 -8z" fill="#06a7c6"/>
<path d="M393.3 113.9l3.4 6.9l2.3 -2.4l-3.3 -7.2z" fill="#0997d1"/>
<path d="M389.5 62.3l3.3 10.8l2.3 -3.8l-3.3 -11.1z" fill="#09abbf"/>
<path d="M434.1 193.6l3.4 6l1.2 0.5l0.4 -0.9l-2.6 -4.9z" fill="#0871de"/>
<path d="M400.9 136.3l3.4 6.4l2.3 -1.5l-3.3 -6.7z" fill="#128bd3"/>
<path d="M430.8 187.7l3.3 5.9l2.4 0.7l-3.3 -6.1z" fill="#0b73dd"/>
<path d="M404.3 142.7l3.3 4.8l2.3 -1.4l-3.3 -4.9z" fill="#1487d3"/>
<path d="M427.5 181.9l3.3 5.8l2.4 0.5l-3.4 -6.1z" fill="#0e76dc"/>
<path d="M424.2 176.1l3.3 5.8l2.3 0.2l-3.3 -6.1z" fill="#1078da"/>
<path d="M420.9 170.2l3.3 5.9l2.3 -0.1l-3.3 -6.1z" fill="#117bd9"/>
<path d="M390 105.5l3.3 8.4l2.4 -2.7l-3.3 -8.8z" fill="#079cd0"/>
<path d="M414.2 158.9l3.3 5.6l2.4 -0.6l-3.3 -5.9z" fill="#1480d6"/>
<path d="M407.6 147.5l3.3 5.6l2.4 -1.1l-3.4 -5.9z" fill="#1485d4"/>
<path d="M410.9 153.1l3.3 5.8l2.4 -0.9l-3.3 -6z" fill="#1482d5"/>
<path d="M417.5 164.5l3.4 5.7l2.3 -0.3l-3.3 -6z" fill="#137dd7"/>
<path d="M389 91.8l3.4 10.6l2.3 -3.1l-3.3 -11.1z" fill="#06a2cc"/>
<path d="M397.6 129.2l3.3 7.1l2.4 -1.8l-3.3 -7.4z" fill="#108fd2"/>
<path d="M388.1 80.7l3.3 7.5l2.3 -3.5l-3.3 -7.8z" fill="#06a5c8"/>
<path d="M394 29.5l2.5 20.4l2.4 -4.2l-2.1 -17.4z" fill="#29b6a7"/>
<path d="M387.1 66.5l3.3 10.4l2.4 -3.8l-3.3 -10.8z" fill="#08aac1"/>
<path d="M394.3 123.2l3.3 6l2.4 -2.1l-3.3 -6.3z" fill="#0d92d2"/>
<path d="M437.5 199.6l0.8 1.5l0.4 -1z" fill="#056ee0"/>
<path d="M391 116.5l3.3 6.7l2.4 -2.4l-3.4 -6.9z" fill="#0a96d1"/>
<path d="M385.7 84.5l3.3 7.3l2.4 -3.6l-3.3 -7.5z" fill="#06a4c9"/>
<path d="M386.7 95.3l3.3 10.2l2.4 -3.1l-3.4 -10.6z" fill="#06a1cd"/>
<path d="M387.7 108.5l3.3 8l2.3 -2.6l-3.3 -8.4z" fill="#089bd0"/>
<path d="M384.8 70.6l3.3 10.1l2.3 -3.8l-3.3 -10.4z" fill="#07a9c2"/>
<path d="M398.6 138.1l3.3 6.2l2.4 -1.6l-3.4 -6.4z" fill="#128ad3"/>
<path d="M391.2 30.6l3 23.4l2.3 -4.1l-2.5 -20.4z" fill="#25b5aa"/>
<path d="M401.9 144.3l3.3 4.6l2.4 -1.4l-3.3 -4.8z" fill="#1487d3"/>
<path d="M395.3 131.4l3.3 6.7l2.3 -1.8l-3.3 -7.1z" fill="#108ed2"/>
<path d="M405.2 148.9l3.4 5.4l2.3 -1.2l-3.3 -5.6z" fill="#1485d4"/>
<path d="M408.6 154.3l3.3 5.5l2.3 -0.9l-3.3 -5.8z" fill="#1483d5"/>
<path d="M392 125.6l3.3 5.8l2.3 -2.2l-3.3 -6z" fill="#0e92d2"/>
<path d="M411.9 159.8l3.3 5.3l2.3 -0.6l-3.3 -5.6z" fill="#1480d6"/>
<path d="M388.6 119.2l3.4 6.4l2.3 -2.4l-3.3 -6.7z" fill="#0b95d1"/>
<path d="M415.2 165.1l3.3 5.5l2.4 -0.4l-3.4 -5.7z" fill="#137ed7"/>
<path d="M418.5 170.6l3.3 5.6l2.4 -0.1l-3.3 -5.9z" fill="#127bd9"/>
<path d="M421.8 176.2l3.4 5.6l2.3 0.1l-3.3 -5.8z" fill="#1079da"/>
<path d="M382.4 74.7l3.3 9.8l2.4 -3.8l-3.3 -10.1z" fill="#06a8c4"/>
<path d="M425.1 181.8l3.3 5.6l2.3 0.3l-3.3 -5.8z" fill="#0e77db"/>
<path d="M383.4 88.3l3.3 7l2.3 -3.5l-3.3 -7.3z" fill="#06a3ca"/>
<path d="M428.5 187.4l3.3 5.6l2.3 0.6l-3.3 -5.9z" fill="#0c74dd"/>
<path d="M435.1 198.7l2.5 4.3l0.7 -1.9l-0.8 -1.5z" fill="#076fdf"/>
<path d="M431.8 193l3.3 5.7l2.4 0.9l-3.4 -6z" fill="#0972de"/>
<path d="M384.3 98.8l3.4 9.7l2.3 -3l-3.3 -10.2z" fill="#06a0cd"/>
<path d="M385.3 111.6l3.3 7.6l2.4 -2.7l-3.3 -8z" fill="#089ad1"/>
<path d="M380.1 78.8l3.3 9.5l2.3 -3.8l-3.3 -9.8z" fill="#06a7c6"/>
<path d="M396.2 140l3.4 5.9l2.3 -1.6l-3.3 -6.2z" fill="#138ad3"/>
<path d="M381 92l3.3 6.8l2.4 -3.5l-3.3 -7z" fill="#06a2cb"/>
<path d="M392.9 133.6l3.3 6.4l2.4 -1.9l-3.3 -6.7z" fill="#118ed2"/>
<path d="M399.6 145.9l3.3 4.4l2.3 -1.4l-3.3 -4.6z" fill="#1487d3"/>
<path d="M388.5 33.1l3.3 25.1l2.4 -4.2l-3 -23.4l-1.9 0.8z" fill="#20b4ad"/>
<path d="M389.6 128l3.3 5.6l2.4 -2.2l-3.3 -5.8z" fill="#0e91d2"/>
<path d="M386.3 121.9l3.3 6.1l2.4 -2.4l-3.4 -6.4z" fill="#0c94d2"/>
<path d="M382 102.3l3.3 9.3l2.4 -3.1l-3.4 -9.7z" fill="#069ece"/>
<path d="M386.1 38.2l3.4 24.1l2.3 -4.1l-3.3 -25.1z" fill="#1cb3af"/>
<path d="M402.9 150.3l3.3 5.2l2.4 -1.2l-3.4 -5.4z" fill="#1485d4"/>
<path d="M383 114.6l3.3 7.3l2.3 -2.7l-3.3 -7.6z" fill="#0999d1"/>
<path d="M406.2 155.5l3.3 5.2l2.4 -0.9l-3.3 -5.5z" fill="#1483d5"/>
<path d="M409.5 160.7l3.3 5.1l2.4 -0.7l-3.3 -5.3z" fill="#1480d6"/>
<path d="M377.7 82.9l3.3 9.1l2.4 -3.7l-3.3 -9.5z" fill="#06a6c7"/>
<path d="M412.8 165.8l3.4 5.2l2.3 -0.4l-3.3 -5.5z" fill="#137ed7"/>
<path d="M383.8 43.2l3.3 23.3l2.4 -4.2l-3.4 -24.1z" fill="#18b2b2"/>
<path d="M378.7 95.7l3.3 6.6l2.3 -3.5l-3.3 -6.8z" fill="#06a1cc"/>
<path d="M416.2 171l3.3 5.4l2.3 -0.2l-3.3 -5.6z" fill="#127cd8"/>
<path d="M419.5 176.4l3.3 5.3l2.4 0.1l-3.4 -5.6z" fill="#117ada"/>
<path d="M422.8 181.7l3.3 5.4l2.4 0.3l-3.3 -5.6z" fill="#0f77db"/>
<path d="M379.6 105.8l3.4 8.8l2.3 -3l-3.3 -9.3z" fill="#079dcf"/>
<path d="M426.1 187.1l3.3 5.4l2.4 0.5l-3.3 -5.6z" fill="#0d75dc"/>
<path d="M429.4 192.5l3.4 5.4l2.3 0.8l-3.3 -5.7z" fill="#0a73dd"/>
<path d="M393.9 141.9l3.3 5.6l2.4 -1.6l-3.4 -5.9z" fill="#138ad3"/>
<path d="M432.8 197.9l3.3 5.5l1.2 0.5l0.3 -0.9l-2.5 -4.3z" fill="#0870df"/>
<path d="M383.9 124.6l3.4 5.8l2.3 -2.4l-3.3 -6.1z" fill="#0c93d2"/>
<path d="M390.6 135.7l3.3 6.2l2.3 -1.9l-3.3 -6.4z" fill="#118dd2"/>
<path d="M387.3 130.4l3.3 5.3l2.3 -2.1l-3.3 -5.6z" fill="#0f90d2"/>
<path d="M381.4 48.2l3.4 22.4l2.3 -4.1l-3.3 -23.3z" fill="#15b0b5"/>
<path d="M375.4 87l3.3 8.7l2.3 -3.7l-3.3 -9.1z" fill="#06a5c9"/>
<path d="M397.2 147.5l3.3 4.3l2.4 -1.5l-3.3 -4.4z" fill="#1487d3"/>
<path d="M380.6 117.6l3.3 7l2.4 -2.7l-3.3 -7.3z" fill="#0997d1"/>
<path d="M376.3 99.5l3.3 6.3l2.4 -3.5l-3.3 -6.6z" fill="#06a0cd"/>
<path d="M400.5 151.8l3.4 4.9l2.3 -1.2l-3.3 -5.2z" fill="#1485d4"/>
<path d="M379.1 53.2l3.3 21.5l2.4 -4.1l-3.4 -22.4z" fill="#11afb7"/>
<path d="M403.9 156.7l3.3 5l2.3 -1l-3.3 -5.2z" fill="#1483d5"/>
<path d="M436.1 203.4l0.9 1.6l0.3 -1.1z" fill="#056ee0"/>
<path d="M377.3 109.3l3.3 8.3l2.4 -3l-3.4 -8.8z" fill="#079cd0"/>
<path d="M373 91l3.3 8.5l2.4 -3.8l-3.3 -8.7z" fill="#06a3ca"/>
<path d="M407.2 161.7l3.3 4.9l2.3 -0.8l-3.3 -5.1z" fill="#1480d6"/>
<path d="M410.5 166.6l3.3 4.9l2.4 -0.5l-3.4 -5.2z" fill="#137ed7"/>
<path d="M381.6 127.2l3.3 5.6l2.4 -2.4l-3.4 -5.8z" fill="#0d92d2"/>
<path d="M374 103.2l3.3 6.1l2.3 -3.5l-3.3 -6.3z" fill="#069fce"/>
<path d="M376.7 58.1l3.4 20.7l2.3 -4.1l-3.3 -21.5z" fill="#0eaeba"/>
<path d="M384.9 132.8l3.3 5.1l2.4 -2.2l-3.3 -5.3z" fill="#0f8fd2"/>
<path d="M378.3 120.6l3.3 6.6l2.3 -2.6l-3.3 -7z" fill="#0a96d1"/>
<path d="M413.8 171.5l3.3 5.2l2.4 -0.3l-3.3 -5.4z" fill="#127cd8"/>
<path d="M388.2 137.9l3.3 5.9l2.4 -1.9l-3.3 -6.2z" fill="#118dd2"/>
<path d="M391.5 143.8l3.4 5.4l2.3 -1.7l-3.3 -5.6z" fill="#1389d3"/>
<path d="M388.4 31.8l0.1 1.3l0.8 -1.7z" fill="#8ebf74"/>
<path d="M417.1 176.7l3.3 5.1l2.4 -0.1l-3.3 -5.3z" fill="#117ad9"/>
<path d="M394.9 149.2l3.3 4.1l2.3 -1.5l-3.3 -4.3z" fill="#1487d3"/>
<path d="M370.7 95.1l3.3 8.1l2.3 -3.7l-3.3 -8.5z" fill="#06a2cb"/>
<path d="M420.4 181.8l3.4 5.1l2.3 0.2l-3.3 -5.4z" fill="#0f78db"/>
<path d="M374.9 112.7l3.4 7.9l2.3 -3l-3.3 -8.3z" fill="#089bd0"/>
<path d="M423.8 186.9l3.3 5.2l2.3 0.4l-3.3 -5.4z" fill="#0e76dc"/>
<path d="M374.4 63.1l3.3 19.8l2.4 -4.1l-3.4 -20.7z" fill="#0cadbc"/>
<path d="M427.1 192.1l3.3 5.2l2.4 0.6l-3.4 -5.4z" fill="#0b74dd"/>
<path d="M385.9 33.1l0.2 5.1l2.4 -5.1l-0.1 -1.3z" fill="#85bf78"/>
<path d="M398.2 153.3l3.3 4.7l2.4 -1.3l-3.4 -4.9z" fill="#1485d4"/>
<path d="M430.4 197.3l3.3 5.2l2.4 0.9l-3.3 -5.5z" fill="#0972de"/>
<path d="M371.6 106.8l3.3 5.9l2.4 -3.4l-3.3 -6.1z" fill="#079dcf"/>
<path d="M433.7 202.5l2.8 4.4l0.5 -1.9l-0.9 -1.6z" fill="#076fdf"/>
<path d="M401.5 158l3.3 4.7l2.4 -1l-3.3 -5z" fill="#1483d5"/>
<path d="M379.2 129.9l3.4 5.3l2.3 -2.4l-3.3 -5.6z" fill="#0e92d2"/>
<path d="M375.9 123.7l3.3 6.2l2.4 -2.7l-3.3 -6.6z" fill="#0b95d2"/>
<path d="M368.3 99.1l3.3 7.7l2.4 -3.6l-3.3 -8.1z" fill="#06a1cc"/>
<path d="M372 68l3.4 19l2.3 -4.1l-3.3 -19.8z" fill="#09abbe"/>
<path d="M382.6 135.2l3.3 4.9l2.3 -2.2l-3.3 -5.1z" fill="#108fd2"/>
<path d="M404.8 162.7l3.3 4.7l2.4 -0.8l-3.3 -4.9z" fill="#1481d6"/>
<path d="M385.9 140.1l3.3 5.6l2.3 -1.9l-3.3 -5.9z" fill="#128cd2"/>
<path d="M372.6 116.2l3.3 7.5l2.4 -3.1l-3.4 -7.9z" fill="#0899d1"/>
<path d="M389.2 145.7l3.3 5.1l2.4 -1.6l-3.4 -5.4z" fill="#1389d3"/>
<path d="M408.1 167.4l3.4 4.7l2.3 -0.6l-3.3 -4.9z" fill="#137fd7"/>
<path d="M383.4 34.4l0.4 8.8l2.3 -5l-0.2 -5.1z" fill="#7bbf7c"/>
<path d="M369.3 110.5l3.3 5.7l2.3 -3.5l-3.3 -5.9z" fill="#079cd0"/>
<path d="M392.5 150.8l3.3 4l2.4 -1.5l-3.3 -4.1z" fill="#1486d3"/>
<path d="M369.7 72.9l3.3 18.1l2.4 -4l-3.4 -19z" fill="#08aac1"/>
<path d="M411.5 172.1l3.3 5l2.3 -0.4l-3.3 -5.2z" fill="#127dd8"/>
<path d="M366 103.1l3.3 7.4l2.3 -3.7l-3.3 -7.7z" fill="#06a0cd"/>
<path d="M414.8 177.1l3.3 4.9l2.3 -0.2l-3.3 -5.1z" fill="#117bd9"/>
<path d="M373.6 126.6l3.3 6l2.3 -2.7l-3.3 -6.2z" fill="#0c94d2"/>
<path d="M395.8 154.8l3.4 4.5l2.3 -1.3l-3.3 -4.7z" fill="#1485d4"/>
<path d="M376.9 132.6l3.3 5l2.4 -2.4l-3.4 -5.3z" fill="#0e91d2"/>
<path d="M418.1 182l3.3 4.9l2.4 0l-3.4 -5.1z" fill="#1079da"/>
<path d="M367.3 77.8l3.4 17.3l2.3 -4.1l-3.3 -18.1z" fill="#07a9c3"/>
<path d="M370.2 119.6l3.4 7l2.3 -2.9l-3.3 -7.5z" fill="#0998d1"/>
<path d="M380.2 137.6l3.3 4.7l2.4 -2.2l-3.3 -4.9z" fill="#118ed2"/>
<path d="M421.4 186.9l3.3 4.9l2.4 0.3l-3.3 -5.2z" fill="#0e77db"/>
<path d="M399.2 159.3l3.3 4.5l2.3 -1.1l-3.3 -4.7z" fill="#1483d5"/>
<path d="M366.9 114.1l3.3 5.5l2.4 -3.4l-3.3 -5.7z" fill="#089bd0"/>
<path d="M380.8 35.6l0.6 12.6l2.4 -5l-0.4 -8.8z" fill="#70bf80"/>
<path d="M383.5 142.3l3.3 5.3l2.4 -1.9l-3.3 -5.6z" fill="#128bd2"/>
<path d="M424.7 191.8l3.4 5l2.3 0.5l-3.3 -5.2z" fill="#0c75dc"/>
<path d="M363.6 107.1l3.3 7l2.4 -3.6l-3.3 -7.4z" fill="#069ece"/>
<path d="M386.8 147.6l3.4 4.9l2.3 -1.7l-3.3 -5.1z" fill="#1388d3"/>
<path d="M402.5 163.8l3.3 4.5l2.3 -0.9l-3.3 -4.7z" fill="#1481d6"/>
<path d="M428.1 196.8l3.3 5l2.3 0.7l-3.3 -5.2z" fill="#0a73de"/>
<path d="M365 82.7l3.3 16.4l2.4 -4l-3.4 -17.3z" fill="#06a7c5"/>
<path d="M431.4 201.8l3.3 5.1l1.6 0.6l0.2 -0.6l-2.8 -4.4z" fill="#0870df"/>
<path d="M390.2 152.5l3.3 3.9l2.3 -1.6l-3.3 -4z" fill="#1486d4"/>
<path d="M405.8 168.3l3.3 4.5l2.4 -0.7l-3.4 -4.7z" fill="#137fd7"/>
<path d="M371.2 129.6l3.3 5.6l2.4 -2.6l-3.3 -6z" fill="#0d93d2"/>
<path d="M374.5 135.2l3.4 4.8l2.3 -2.4l-3.3 -5z" fill="#0f90d2"/>
<path d="M367.9 122.9l3.3 6.7l2.4 -3l-3.4 -7z" fill="#0a97d1"/>
<path d="M364.6 117.8l3.3 5.1l2.3 -3.3l-3.3 -5.5z" fill="#0899d1"/>
<path d="M409.1 172.8l3.3 4.8l2.4 -0.5l-3.3 -5z" fill="#137dd8"/>
<path d="M361.3 111l3.3 6.8l2.3 -3.7l-3.3 -7z" fill="#079dcf"/>
<path d="M378.2 36.9l0.9 16.3l2.3 -5l-0.6 -12.6z" fill="#66be85"/>
<path d="M362.6 87.6l3.4 15.5l2.3 -4l-3.3 -16.4z" fill="#06a6c7"/>
<path d="M393.5 156.4l3.3 4.3l2.4 -1.4l-3.4 -4.5z" fill="#1484d4"/>
<path d="M377.9 140l3.3 4.5l2.3 -2.2l-3.3 -4.7z" fill="#118dd2"/>
<path d="M434.7 206.9l1.4 2.1l0.2 -1.5z" fill="#056ee0"/>
<path d="M412.4 177.6l3.4 4.7l2.3 -0.3l-3.3 -4.9z" fill="#127bd9"/>
<path d="M381.2 144.5l3.3 5.1l2.3 -2l-3.3 -5.3z" fill="#128bd3"/>
<path d="M396.8 160.7l3.3 4.3l2.4 -1.2l-3.3 -4.5z" fill="#1483d5"/>
<path d="M415.8 182.3l3.3 4.6l2.3 0l-3.3 -4.9z" fill="#1079da"/>
<path d="M384.5 149.6l3.3 4.6l2.4 -1.7l-3.4 -4.9z" fill="#1388d3"/>
<path d="M360.3 92.4l3.3 14.7l2.4 -4l-3.4 -15.5z" fill="#06a5c9"/>
<path d="M368.9 132.6l3.3 5.3l2.3 -2.7l-3.3 -5.6z" fill="#0e92d2"/>
<path d="M358.9 115l3.3 6.4l2.4 -3.6l-3.3 -6.8z" fill="#079bd0"/>
<path d="M362.2 121.4l3.3 4.9l2.4 -3.4l-3.3 -5.1z" fill="#0998d1"/>
<path d="M365.5 126.3l3.4 6.3l2.3 -3l-3.3 -6.7z" fill="#0b95d2"/>
<path d="M419.1 186.9l3.3 4.8l2.3 0.1l-3.3 -4.9z" fill="#0f77db"/>
<path d="M400.1 165l3.3 4.2l2.4 -0.9l-3.3 -4.5z" fill="#1481d6"/>
<path d="M375.6 38.1l1.1 20l2.4 -4.9l-0.9 -16.3z" fill="#5bbd8a"/>
<path d="M372.2 137.9l3.3 4.5l2.4 -2.4l-3.4 -4.8z" fill="#108fd2"/>
<path d="M387.8 154.2l3.3 3.7l2.4 -1.5l-3.3 -3.9z" fill="#1486d4"/>
<path d="M422.4 191.7l3.3 4.7l2.4 0.4l-3.4 -5z" fill="#0d75dc"/>
<path d="M357.9 97.3l3.4 13.7l2.3 -3.9l-3.3 -14.7z" fill="#06a3ca"/>
<path d="M403.4 169.2l3.4 4.3l2.3 -0.7l-3.3 -4.5z" fill="#137fd7"/>
<path d="M375.5 142.4l3.3 4.3l2.4 -2.2l-3.3 -4.5z" fill="#118cd2"/>
<path d="M425.7 196.4l3.3 4.8l2.4 0.6l-3.3 -5z" fill="#0b73dd"/>
<path d="M391.1 157.9l3.4 4.2l2.3 -1.4l-3.3 -4.3z" fill="#1484d4"/>
<path d="M356.6 118.9l3.3 6l2.3 -3.5l-3.3 -6.4z" fill="#0899d1"/>
<path d="M429 201.2l3.3 4.9l2.4 0.8l-3.3 -5.1z" fill="#0971de"/>
<path d="M378.8 146.7l3.3 4.8l2.4 -1.9l-3.3 -5.1z" fill="#138ad3"/>
<path d="M406.8 173.5l3.3 4.6l2.3 -0.5l-3.3 -4.8z" fill="#137dd7"/>
<path d="M359.9 124.9l3.3 4.7l2.3 -3.3l-3.3 -4.9z" fill="#0a96d1"/>
<path d="M363.2 129.6l3.3 5.9l2.4 -2.9l-3.4 -6.3z" fill="#0c94d2"/>
<path d="M366.5 135.5l3.3 5l2.4 -2.6l-3.3 -5.3z" fill="#0f90d2"/>
<path d="M373 39.4l1.4 23.7l2.3 -5l-1.1 -20z" fill="#51bc90"/>
<path d="M355.6 102.1l3.3 12.9l2.4 -4l-3.4 -13.7z" fill="#06a1cc"/>
<path d="M382.1 151.5l3.4 4.5l2.3 -1.8l-3.3 -4.6z" fill="#1388d3"/>
<path d="M410.1 178.1l3.3 4.5l2.4 -0.3l-3.4 -4.7z" fill="#127cd8"/>
<path d="M394.5 162.1l3.3 4.1l2.3 -1.2l-3.3 -4.3z" fill="#1483d5"/>
<path d="M432.3 206.1l3.4 4.8l0.1 0l0.3 -1.9l-1.4 -2.1z" fill="#076fdf"/>
<path d="M369.8 140.5l3.4 4.3l2.3 -2.4l-3.3 -4.5z" fill="#118ed2"/>
<path d="M413.4 182.6l3.3 4.5l2.4 -0.2l-3.3 -4.6z" fill="#117ada"/>
<path d="M354.2 122.8l3.3 5.7l2.4 -3.6l-3.3 -6z" fill="#0998d1"/>
<path d="M385.5 156l3.3 3.5l2.3 -1.6l-3.3 -3.7z" fill="#1486d4"/>
<path d="M397.8 166.2l3.3 4l2.3 -1l-3.3 -4.2z" fill="#1481d6"/>
<path d="M373.2 144.8l3.3 4.1l2.3 -2.2l-3.3 -4.3z" fill="#128bd2"/>
<path d="M357.5 128.5l3.3 4.4l2.4 -3.3l-3.3 -4.7z" fill="#0b95d2"/>
<path d="M353.2 106.9l3.4 12l2.3 -3.9l-3.3 -12.9z" fill="#06a0cd"/>
<path d="M416.7 187.1l3.3 4.5l2.4 0.1l-3.3 -4.8z" fill="#0f78db"/>
<path d="M360.8 132.9l3.4 5.5l2.3 -2.9l-3.3 -5.9z" fill="#0d92d2"/>
<path d="M370.4 40.6l1.6 27.4l2.4 -4.9l-1.4 -23.7z" fill="#47bb95"/>
<path d="M364.2 138.4l3.3 4.7l2.3 -2.6l-3.3 -5z" fill="#0f8fd2"/>
<path d="M401.1 170.2l3.3 4.1l2.4 -0.8l-3.4 -4.3z" fill="#137fd6"/>
<path d="M376.5 148.9l3.3 4.5l2.3 -1.9l-3.3 -4.8z" fill="#1389d3"/>
<path d="M388.8 159.5l3.3 4l2.4 -1.4l-3.4 -4.2z" fill="#1484d4"/>
<path d="M420 191.6l3.4 4.6l2.3 0.2l-3.3 -4.7z" fill="#0e76dc"/>
<path d="M435.7 210.9l0 0.1l0.1 -0.1z" fill="#056de0"/>
<path d="M350.9 111.6l3.3 11.2l2.4 -3.9l-3.4 -12z" fill="#079ecf"/>
<path d="M351.9 126.6l3.3 5.4l2.3 -3.5l-3.3 -5.7z" fill="#0a96d1"/>
<path d="M367.5 143.1l3.3 4.1l2.4 -2.4l-3.4 -4.3z" fill="#118dd2"/>
<path d="M379.8 153.4l3.3 4.3l2.4 -1.7l-3.4 -4.5z" fill="#1487d3"/>
<path d="M423.4 196.2l3.3 4.6l2.3 0.4l-3.3 -4.8z" fill="#0c74dd"/>
<path d="M404.4 174.3l3.3 4.4l2.4 -0.6l-3.3 -4.6z" fill="#137ed7"/>
<path d="M355.2 132l3.3 4.2l2.3 -3.3l-3.3 -4.4z" fill="#0c93d2"/>
<path d="M392.1 163.5l3.3 3.9l2.4 -1.2l-3.3 -4.1z" fill="#1483d5"/>
<path d="M426.7 200.8l3.3 4.6l2.3 0.7l-3.3 -4.9z" fill="#0a72de"/>
<path d="M367.7 41.8l2 31.1l2.3 -4.9l-1.6 -27.4z" fill="#3dba9b"/>
<path d="M407.7 178.7l3.3 4.3l2.4 -0.4l-3.3 -4.5z" fill="#127cd8"/>
<path d="M358.5 136.2l3.3 5.1l2.4 -2.9l-3.4 -5.5z" fill="#0e91d2"/>
<path d="M370.8 147.2l3.3 3.9l2.4 -2.2l-3.3 -4.1z" fill="#128bd3"/>
<path d="M383.1 157.7l3.3 3.4l2.4 -1.6l-3.3 -3.5z" fill="#1485d4"/>
<path d="M348.5 116.3l3.4 10.3l2.3 -3.8l-3.3 -11.2z" fill="#079cd0"/>
<path d="M430 205.4l3.3 4.6l2.4 0.9l-3.4 -4.8z" fill="#0871df"/>
<path d="M361.8 141.3l3.3 4.4l2.4 -2.6l-3.3 -4.7z" fill="#108ed2"/>
<path d="M395.4 167.4l3.3 3.8l2.4 -1l-3.3 -4z" fill="#1481d6"/>
<path d="M349.5 130.5l3.3 4.9l2.4 -3.4l-3.3 -5.4z" fill="#0c94d2"/>
<path d="M411 183l3.4 4.3l2.3 -0.2l-3.3 -4.5z" fill="#117ad9"/>
<path d="M433.3 210l2.2 3.1l0.2 -2.1l0 -0.1z" fill="#066edf"/>
<path d="M374.1 151.1l3.3 4.3l2.4 -2l-3.3 -4.5z" fill="#1389d3"/>
<path d="M352.8 135.4l3.3 4l2.4 -3.2l-3.3 -4.2z" fill="#0e92d2"/>
<path d="M386.4 161.1l3.4 3.8l2.3 -1.4l-3.3 -4z" fill="#1484d4"/>
<path d="M365.1 145.7l3.4 3.9l2.3 -2.4l-3.3 -4.1z" fill="#128cd2"/>
<path d="M414.4 187.3l3.3 4.3l2.3 0l-3.3 -4.5z" fill="#1079da"/>
<path d="M346.2 121.1l3.3 9.4l2.4 -3.9l-3.4 -10.3z" fill="#089ad0"/>
<path d="M398.7 171.2l3.4 3.9l2.3 -0.8l-3.3 -4.1z" fill="#1480d6"/>
<path d="M365 43l2.3 34.8l2.4 -4.9l-2 -31.1z" fill="#34b8a0"/>
<path d="M377.4 155.4l3.4 4l2.3 -1.7l-3.3 -4.3z" fill="#1487d3"/>
<path d="M356.1 139.4l3.4 4.8l2.3 -2.9l-3.3 -5.1z" fill="#0f90d2"/>
<path d="M347.2 134.3l3.3 4.6l2.3 -3.5l-3.3 -4.9z" fill="#0d93d2"/>
<path d="M417.7 191.6l3.3 4.4l2.4 0.2l-3.4 -4.6z" fill="#0e77db"/>
<path d="M368.5 149.6l3.3 3.7l2.3 -2.2l-3.3 -3.9z" fill="#138ad3"/>
<path d="M389.8 164.9l3.3 3.7l2.3 -1.2l-3.3 -3.9z" fill="#1483d5"/>
<path d="M402.1 175.1l3.3 4.2l2.3 -0.6l-3.3 -4.4z" fill="#137ed7"/>
<path d="M359.5 144.2l3.3 4.1l2.3 -2.6l-3.3 -4.4z" fill="#118dd2"/>
<path d="M343.8 125.7l3.4 8.6l2.3 -3.8l-3.3 -9.4z" fill="#0998d1"/>
<path d="M380.8 159.4l3.3 3.4l2.3 -1.7l-3.3 -3.4z" fill="#1485d4"/>
<path d="M421 196l3.3 4.4l2.4 0.4l-3.3 -4.6z" fill="#0d75dc"/>
<path d="M350.5 138.9l3.3 3.8l2.3 -3.3l-3.3 -4z" fill="#0f90d2"/>
<path d="M405.4 179.3l3.3 4.2l2.3 -0.5l-3.3 -4.3z" fill="#127cd8"/>
<path d="M371.8 153.3l3.3 4.1l2.3 -2l-3.3 -4.3z" fill="#1388d3"/>
<path d="M362.3 44.2l2.7 38.5l2.3 -4.9l-2.3 -34.8z" fill="#2cb7a5"/>
<path d="M393.1 168.6l3.3 3.6l2.3 -1l-3.3 -3.8z" fill="#1481d6"/>
<path d="M362.8 148.3l3.3 3.6l2.4 -2.3l-3.4 -3.9z" fill="#128bd2"/>
<path d="M424.3 200.4l3.3 4.4l2.4 0.6l-3.3 -4.6z" fill="#0b73dd"/>
<path d="M344.8 138l3.3 4.3l2.4 -3.4l-3.3 -4.6z" fill="#0e91d2"/>
<path d="M353.8 142.7l3.3 4.4l2.4 -2.9l-3.4 -4.8z" fill="#108ed2"/>
<path d="M384.1 162.8l3.3 3.6l2.4 -1.5l-3.4 -3.8z" fill="#1484d4"/>
<path d="M341.5 130.4l3.3 7.6l2.4 -3.7l-3.4 -8.6z" fill="#0b95d1"/>
<path d="M408.7 183.5l3.3 4.1l2.4 -0.3l-3.4 -4.3z" fill="#117bd9"/>
<path d="M375.1 157.4l3.3 3.8l2.4 -1.8l-3.4 -4z" fill="#1487d3"/>
<path d="M427.6 204.8l3.4 4.4l2.3 0.8l-3.3 -4.6z" fill="#0972de"/>
<path d="M396.4 172.2l3.3 3.8l2.4 -0.9l-3.4 -3.9z" fill="#1480d6"/>
<path d="M357.1 147.1l3.3 3.8l2.4 -2.6l-3.3 -4.1z" fill="#118cd2"/>
<path d="M366.1 151.9l3.3 3.6l2.4 -2.2l-3.3 -3.7z" fill="#1389d3"/>
<path d="M348.1 142.3l3.3 3.5l2.4 -3.1l-3.3 -3.8z" fill="#108fd2"/>
<path d="M412 187.6l3.3 4.1l2.4 -0.1l-3.3 -4.3z" fill="#1079da"/>
<path d="M431 209.2l3.3 4.5l1.1 0.5l0.1 -1.1l-2.2 -3.1z" fill="#0770df"/>
<path d="M359.5 45.4l3.1 42.2l2.4 -4.9l-2.7 -38.5z" fill="#24b5aa"/>
<path d="M387.4 166.4l3.3 3.5l2.4 -1.3l-3.3 -3.7z" fill="#1482d5"/>
<path d="M339.1 135l3.4 6.8l2.3 -3.8l-3.3 -7.6z" fill="#0c93d2"/>
<path d="M342.5 141.8l3.3 3.9l2.3 -3.4l-3.3 -4.3z" fill="#108fd2"/>
<path d="M378.4 161.2l3.3 3.2l2.4 -1.6l-3.3 -3.4z" fill="#1485d4"/>
<path d="M399.7 176l3.3 4l2.4 -0.7l-3.3 -4.2z" fill="#137ed7"/>
<path d="M351.4 145.8l3.4 4.1l2.3 -2.8l-3.3 -4.4z" fill="#118dd2"/>
<path d="M369.4 155.5l3.3 3.8l2.4 -1.9l-3.3 -4.1z" fill="#1388d3"/>
<path d="M360.4 150.9l3.4 3.4l2.3 -2.4l-3.3 -3.6z" fill="#128ad3"/>
<path d="M415.3 191.7l3.4 4.2l2.3 0.1l-3.3 -4.4z" fill="#0f78db"/>
<path d="M390.7 169.9l3.3 3.4l2.4 -1.1l-3.3 -3.6z" fill="#1481d6"/>
<path d="M403 180l3.3 4l2.4 -0.5l-3.3 -4.2z" fill="#127dd8"/>
<path d="M345.8 145.7l3.3 3.3l2.3 -3.2l-3.3 -3.5z" fill="#118dd2"/>
<path d="M418.7 195.9l3.3 4.2l2.3 0.3l-3.3 -4.4z" fill="#0e76dc"/>
<path d="M336.8 139.6l3.3 5.9l2.4 -3.7l-3.4 -6.8z" fill="#0e91d2"/>
<path d="M381.7 164.4l3.4 3.5l2.3 -1.5l-3.3 -3.6z" fill="#1484d4"/>
<path d="M354.8 149.9l3.3 3.5l2.3 -2.5l-3.3 -3.8z" fill="#128bd2"/>
<path d="M434.3 213.7l1.1 1.5l0 -1z" fill="#056ee0"/>
<path d="M372.7 159.3l3.4 3.7l2.3 -1.8l-3.3 -3.8z" fill="#1486d4"/>
<path d="M354.6 58.2l3.3 39.1l2.4 -4.9l-3.3 -41.7z" fill="#17b1b3"/>
<path d="M363.8 154.3l3.3 3.3l2.3 -2.1l-3.3 -3.6z" fill="#1389d3"/>
<path d="M352.3 65.7l3.3 36.4l2.3 -4.8l-3.3 -39.1z" fill="#11afb8"/>
<path d="M340.1 145.5l3.3 3.5l2.4 -3.3l-3.3 -3.9z" fill="#118dd2"/>
<path d="M349.9 73.2l3.3 33.7l2.4 -4.8l-3.3 -36.4z" fill="#0cadbc"/>
<path d="M422 200.1l3.3 4.2l2.3 0.5l-3.3 -4.4z" fill="#0c74dd"/>
<path d="M406.3 184l3.4 3.9l2.3 -0.3l-3.3 -4.1z" fill="#127bd9"/>
<path d="M394 173.3l3.4 3.6l2.3 -0.9l-3.3 -3.8z" fill="#1480d6"/>
<path d="M347.6 80.6l3.3 31l2.3 -4.7l-3.3 -33.7z" fill="#09abc0"/>
<path d="M349.1 149l3.3 3.7l2.4 -2.8l-3.4 -4.1z" fill="#128cd2"/>
<path d="M345.2 88l3.3 28.3l2.4 -4.7l-3.3 -31z" fill="#07a9c3"/>
<path d="M358.1 153.4l3.3 3.2l2.4 -2.3l-3.4 -3.4z" fill="#1389d3"/>
<path d="M385.1 167.9l3.3 3.3l2.3 -1.3l-3.3 -3.5z" fill="#1482d5"/>
<path d="M334.4 144.1l3.4 5l2.3 -3.6l-3.3 -5.9z" fill="#108ed2"/>
<path d="M376.1 163l3.3 3.1l2.3 -1.7l-3.3 -3.2z" fill="#1485d4"/>
<path d="M367.1 157.6l3.3 3.7l2.3 -2l-3.3 -3.8z" fill="#1487d3"/>
<path d="M425.3 204.3l3.3 4.2l2.4 0.7l-3.4 -4.4z" fill="#0a73de"/>
<path d="M342.9 95.4l3.3 25.7l2.3 -4.8l-3.3 -28.3z" fill="#06a6c7"/>
<path d="M343.4 149l3.3 3l2.4 -3l-3.3 -3.3z" fill="#128cd2"/>
<path d="M409.7 187.9l3.3 4l2.3 -0.2l-3.3 -4.1z" fill="#117ada"/>
<path d="M357 50.7l3.3 41.7l2.3 -4.8l-3.1 -42.2l-1 0.4z" fill="#1db3af"/>
<path d="M340.5 102.8l3.3 22.9l2.4 -4.6l-3.3 -25.7z" fill="#06a4ca"/>
<path d="M397.4 176.9l3.3 3.9l2.3 -0.8l-3.3 -4z" fill="#137fd7"/>
<path d="M337.8 149.1l3.3 3.2l2.3 -3.3l-3.3 -3.5z" fill="#128cd2"/>
<path d="M352.4 152.7l3.3 3.2l2.4 -2.5l-3.3 -3.5z" fill="#138ad3"/>
<path d="M338.2 110.1l3.3 20.3l2.3 -4.7l-3.3 -22.9z" fill="#06a1cc"/>
<path d="M428.6 208.5l3.3 4.3l2.4 0.9l-3.3 -4.5z" fill="#0871de"/>
<path d="M335.8 117.4l3.3 17.6l2.4 -4.6l-3.3 -20.3z" fill="#079ecf"/>
<path d="M388.4 171.2l3.3 3.2l2.3 -1.1l-3.3 -3.4z" fill="#1481d6"/>
<path d="M413 191.9l3.3 4l2.4 0l-3.4 -4.2z" fill="#1078da"/>
<path d="M361.4 156.6l3.3 3.2l2.4 -2.2l-3.3 -3.3z" fill="#1388d3"/>
<path d="M370.4 161.3l3.3 3.5l2.4 -1.8l-3.4 -3.7z" fill="#1486d4"/>
<path d="M332.1 148.6l3.3 4.1l2.4 -3.6l-3.4 -5z" fill="#118cd2"/>
<path d="M379.4 166.1l3.3 3.2l2.4 -1.4l-3.4 -3.5z" fill="#1483d4"/>
<path d="M333.5 124.6l3.3 15l2.3 -4.6l-3.3 -17.6z" fill="#089ad0"/>
<path d="M400.7 180.8l3.3 3.8l2.3 -0.6l-3.3 -4z" fill="#137dd8"/>
<path d="M346.7 152l3.4 3.4l2.3 -2.7l-3.3 -3.7z" fill="#128ad3"/>
<path d="M331.1 131.9l3.3 12.2l2.4 -4.5l-3.3 -15z" fill="#0a96d1"/>
<path d="M431.9 212.8l3.4 4.4l0.1 0l0 -2l-1.1 -1.5z" fill="#076fdf"/>
<path d="M341.1 152.3l3.3 2.8l2.3 -3.1l-3.3 -3z" fill="#128ad3"/>
<path d="M416.3 195.9l3.3 4l2.4 0.2l-3.3 -4.2z" fill="#0e77db"/>
<path d="M355.7 155.9l3.4 3.1l2.3 -2.4l-3.3 -3.2z" fill="#1389d3"/>
<path d="M328.8 139l3.3 9.6l2.3 -4.5l-3.3 -12.2z" fill="#0d92d2"/>
<path d="M335.4 152.7l3.3 2.8l2.4 -3.2l-3.3 -3.2z" fill="#128ad3"/>
<path d="M391.7 174.4l3.3 3.5l2.4 -1l-3.4 -3.6z" fill="#1480d6"/>
<path d="M364.7 159.8l3.3 3.5l2.4 -2l-3.3 -3.7z" fill="#1487d3"/>
<path d="M373.7 164.8l3.3 2.9l2.4 -1.6l-3.3 -3.1z" fill="#1484d4"/>
<path d="M404 184.6l3.3 3.8l2.4 -0.5l-3.4 -3.9z" fill="#127cd8"/>
<path d="M329.7 153l3.4 3.3l2.3 -3.6l-3.3 -4.1z" fill="#138ad3"/>
<path d="M382.7 169.3l3.3 3.2l2.4 -1.3l-3.3 -3.3z" fill="#1482d5"/>
<path d="M326.4 146.2l3.3 6.8l2.4 -4.4l-3.3 -9.6z" fill="#108ed2"/>
<path d="M350.1 155.4l3.3 3l2.3 -2.5l-3.3 -3.2z" fill="#1389d3"/>
<path d="M419.6 199.9l3.3 4l2.4 0.4l-3.3 -4.2z" fill="#0d75dc"/>
<path d="M324.1 153.2l3.3 4.2l2.3 -4.4l-3.3 -6.8z" fill="#138ad3"/>
<path d="M344.4 155.1l3.3 3l2.4 -2.7l-3.4 -3.4z" fill="#1389d3"/>
<path d="M359.1 159l3.3 3l2.3 -2.2l-3.3 -3.2z" fill="#1487d3"/>
<path d="M395 177.9l3.3 3.7l2.4 -0.8l-3.3 -3.9z" fill="#137fd7"/>
<path d="M407.3 188.4l3.3 3.7l2.4 -0.2l-3.3 -4z" fill="#117ad9"/>
<path d="M321.7 160.1l3.3 1.5l2.4 -4.2l-3.3 -4.2z" fill="#1486d3"/>
<path d="M368 163.3l3.4 3.3l2.3 -1.8l-3.3 -3.5z" fill="#1485d4"/>
<path d="M422.9 203.9l3.4 4.1l2.3 0.5l-3.3 -4.2z" fill="#0b74dd"/>
<path d="M435.3 217.2l0.2 0.2l-0.1 -0.2z" fill="#056de0"/>
<path d="M338.7 155.5l3.3 2.5l2.4 -2.9l-3.3 -2.8z" fill="#1389d3"/>
<path d="M377 167.7l3.4 3.2l2.3 -1.6l-3.3 -3.2z" fill="#1483d5"/>
<path d="M386 172.5l3.3 3.1l2.4 -1.2l-3.3 -3.2z" fill="#1481d6"/>
<path d="M327.4 157.4l3.3 2.4l2.4 -3.5l-3.4 -3.3z" fill="#1388d3"/>
<path d="M333.1 156.3l3.3 2.3l2.3 -3.1l-3.3 -2.8z" fill="#1389d3"/>
<path d="M353.4 158.4l3.3 2.9l2.4 -2.3l-3.4 -3.1z" fill="#1388d3"/>
<path d="M410.6 192.1l3.4 3.9l2.3 -0.1l-3.3 -4z" fill="#1079da"/>
<path d="M398.3 181.6l3.3 3.6l2.4 -0.6l-3.3 -3.8z" fill="#137dd8"/>
<path d="M426.3 208l3.3 4l2.3 0.8l-3.3 -4.3z" fill="#0a72de"/>
<path d="M362.4 162l3.3 3.3l2.3 -2l-3.3 -3.5z" fill="#1486d4"/>
<path d="M347.7 158.1l3.3 2.8l2.4 -2.5l-3.3 -3z" fill="#1388d3"/>
<path d="M371.4 166.6l3.3 2.8l2.3 -1.7l-3.3 -2.9z" fill="#1484d4"/>
<path d="M389.3 175.6l3.4 3.3l2.3 -1l-3.3 -3.5z" fill="#1480d6"/>
<path d="M380.4 170.9l3.3 3l2.3 -1.4l-3.3 -3.2z" fill="#1482d5"/>
<path d="M325 161.6l3.4 1.5l2.3 -3.3l-3.3 -2.4z" fill="#1486d3"/>
<path d="M342 158l3.4 2.8l2.3 -2.7l-3.3 -3z" fill="#1388d3"/>
<path d="M414 196l3.3 3.8l2.3 0.1l-3.3 -4z" fill="#0f77db"/>
<path d="M429.6 212l3.3 4.2l2.4 1l-3.4 -4.4z" fill="#0870df"/>
<path d="M401.6 185.2l3.4 3.7l2.3 -0.5l-3.3 -3.8z" fill="#127cd8"/>
<path d="M330.7 159.8l3.3 1.9l2.4 -3.1l-3.3 -2.3z" fill="#1487d3"/>
<path d="M336.4 158.6l3.3 2.3l2.3 -2.9l-3.3 -2.5z" fill="#1388d3"/>
<path d="M356.7 161.3l3.3 2.9l2.4 -2.2l-3.3 -3z" fill="#1487d3"/>
<path d="M432.9 216.2l2.7 3.4l-0.1 -2.2l-0.2 -0.2z" fill="#066fdf"/>
<path d="M365.7 165.3l3.3 3.1l2.4 -1.8l-3.4 -3.3z" fill="#1485d4"/>
<path d="M351 160.9l3.4 2.7l2.3 -2.3l-3.3 -2.9z" fill="#1487d3"/>
<path d="M392.7 178.9l3.3 3.6l2.3 -0.9l-3.3 -3.7z" fill="#137fd7"/>
<path d="M417.3 199.8l3.3 3.9l2.3 0.2l-3.3 -4z" fill="#0e76dc"/>
<path d="M374.7 169.4l3.3 3l2.4 -1.5l-3.4 -3.2z" fill="#1483d5"/>
<path d="M383.7 173.9l3.3 2.9l2.3 -1.2l-3.3 -3.1z" fill="#1481d6"/>
<path d="M405 188.9l3.3 3.6l2.3 -0.4l-3.3 -3.7z" fill="#117bd9"/>
<path d="M345.4 160.8l3.3 2.5l2.3 -2.4l-3.3 -2.8z" fill="#1487d3"/>
<path d="M360 164.2l3.3 3l2.4 -1.9l-3.3 -3.3z" fill="#1486d4"/>
<path d="M339.7 160.9l3.3 2.5l2.4 -2.6l-3.4 -2.8z" fill="#1487d3"/>
<path d="M420.6 203.7l3.3 3.8l2.4 0.5l-3.4 -4.1z" fill="#0c74dd"/>
<path d="M328.4 163.1l3.3 1.5l2.3 -2.9l-3.3 -1.9z" fill="#1486d4"/>
<path d="M369 168.4l3.3 2.8l2.4 -1.8l-3.3 -2.8z" fill="#1484d4"/>
<path d="M334 161.7l3.3 2l2.4 -2.8l-3.3 -2.3z" fill="#1487d3"/>
<path d="M396 182.5l3.3 3.5l2.3 -0.8l-3.3 -3.6z" fill="#137ed7"/>
<path d="M408.3 192.5l3.3 3.7l2.4 -0.2l-3.4 -3.9z" fill="#1079da"/>
<path d="M378 172.4l3.3 2.9l2.4 -1.4l-3.3 -3z" fill="#1482d5"/>
<path d="M354.4 163.6l3.3 2.7l2.3 -2.1l-3.3 -2.9z" fill="#1486d4"/>
<path d="M387 176.8l3.3 3.2l2.4 -1.1l-3.4 -3.3z" fill="#1480d6"/>
<path d="M423.9 207.5l3.3 3.9l2.4 0.6l-3.3 -4z" fill="#0b73dd"/>
<path d="M363.3 167.2l3.4 3l2.3 -1.8l-3.3 -3.1z" fill="#1484d4"/>
<path d="M348.7 163.3l3.3 2.5l2.4 -2.2l-3.4 -2.7z" fill="#1486d3"/>
<path d="M399.3 186l3.3 3.4l2.4 -0.5l-3.4 -3.7z" fill="#127cd8"/>
<path d="M411.6 196.2l3.3 3.7l2.4 -0.1l-3.3 -3.8z" fill="#0f78db"/>
<path d="M372.3 171.2l3.4 2.8l2.3 -1.6l-3.3 -3z" fill="#1483d5"/>
<path d="M343 163.4l3.3 2.3l2.4 -2.4l-3.3 -2.5z" fill="#1486d3"/>
<path d="M427.2 211.4l3.4 4l2.3 0.8l-3.3 -4.2z" fill="#0971de"/>
<path d="M390.3 180l3.3 3.4l2.4 -0.9l-3.3 -3.6z" fill="#137fd7"/>
<path d="M337.3 163.7l3.4 2.2l2.3 -2.5l-3.3 -2.5z" fill="#1486d3"/>
<path d="M381.3 175.3l3.3 2.8l2.4 -1.3l-3.3 -2.9z" fill="#1481d6"/>
<path d="M357.7 166.3l3.3 2.9l2.3 -2l-3.3 -3z" fill="#1485d4"/>
<path d="M331.7 164.6l3.3 1.8l2.3 -2.7l-3.3 -2z" fill="#1486d4"/>
<path d="M414.9 199.9l3.3 3.7l2.4 0.1l-3.3 -3.9z" fill="#0e77db"/>
<path d="M402.6 189.4l3.3 3.5l2.4 -0.4l-3.3 -3.6z" fill="#117bd9"/>
<path d="M366.7 170.2l3.3 2.7l2.3 -1.7l-3.3 -2.8z" fill="#1483d4"/>
<path d="M430.6 215.4l3.3 4l1.8 0.8l-0.1 -0.6l-2.7 -3.4z" fill="#0770df"/>
<path d="M352 165.8l3.3 2.5l2.4 -2l-3.3 -2.7z" fill="#1486d4"/>
<path d="M393.6 183.4l3.4 3.3l2.3 -0.7l-3.3 -3.5z" fill="#137ed7"/>
<path d="M375.7 174l3.3 2.7l2.3 -1.4l-3.3 -2.9z" fill="#1482d5"/>
<path d="M346.3 165.7l3.4 2.3l2.3 -2.2l-3.3 -2.5z" fill="#1486d4"/>
<path d="M384.6 178.1l3.4 3l2.3 -1.1l-3.3 -3.2z" fill="#1480d6"/>
<path d="M418.2 203.6l3.4 3.6l2.3 0.3l-3.3 -3.8z" fill="#0d75dc"/>
<path d="M361 169.2l3.3 2.8l2.4 -1.8l-3.4 -3z" fill="#1484d4"/>
<path d="M405.9 192.9l3.4 3.5l2.3 -0.2l-3.3 -3.7z" fill="#117ada"/>
<path d="M340.7 165.9l3.3 2.1l2.3 -2.3l-3.3 -2.3z" fill="#1486d4"/>
<path d="M335 166.4l3.3 1.9l2.4 -2.4l-3.4 -2.2z" fill="#1485d4"/>
<path d="M370 172.9l3.3 2.7l2.4 -1.6l-3.4 -2.8z" fill="#1483d5"/>
<path d="M433.9 219.4l2 2.5l-0.2 -1.7z" fill="#066edf"/>
<path d="M396.9 186.7l3.3 3.4l2.3 -0.7l-3.3 -3.4z" fill="#127dd8"/>
<path d="M355.3 168.3l3.3 2.7l2.4 -1.8l-3.3 -2.9z" fill="#1485d4"/>
<path d="M421.6 207.2l3.3 3.7l2.3 0.5l-3.3 -3.9z" fill="#0c74dd"/>
<path d="M379 176.7l3.3 2.7l2.3 -1.3l-3.3 -2.8z" fill="#1481d6"/>
<path d="M409.3 196.4l3.3 3.6l2.3 -0.1l-3.3 -3.7z" fill="#1079da"/>
<path d="M388 181.1l3.3 3.3l2.3 -1l-3.3 -3.4z" fill="#137fd7"/>
<path d="M364.3 172l3.3 2.6l2.4 -1.7l-3.3 -2.7z" fill="#1483d5"/>
<path d="M349.7 168l3.3 2.4l2.3 -2.1l-3.3 -2.5z" fill="#1485d4"/>
<path d="M424.9 210.9l3.3 3.8l2.4 0.7l-3.4 -4z" fill="#0a72de"/>
<path d="M400.3 190.1l3.3 3.3l2.3 -0.5l-3.3 -3.5z" fill="#127bd9"/>
<path d="M344 168l3.3 2.2l2.4 -2.2l-3.4 -2.3z" fill="#1485d4"/>
<path d="M373.3 175.6l3.3 2.6l2.4 -1.5l-3.3 -2.7z" fill="#1482d5"/>
<path d="M412.6 200l3.3 3.5l2.3 0.1l-3.3 -3.7z" fill="#0f77db"/>
<path d="M338.3 168.3l3.3 2l2.4 -2.3l-3.3 -2.1z" fill="#1485d4"/>
<path d="M358.6 171l3.4 2.7l2.3 -1.7l-3.3 -2.8z" fill="#1484d4"/>
<path d="M391.3 184.4l3.3 3.2l2.4 -0.9l-3.4 -3.3z" fill="#137ed7"/>
<path d="M382.3 179.4l3.3 2.9l2.4 -1.2l-3.4 -3z" fill="#1480d6"/>
<path d="M428.2 214.7l3.3 3.9l2.4 0.8l-3.3 -4z" fill="#0871de"/>
<path d="M367.6 174.6l3.4 2.6l2.3 -1.6l-3.3 -2.7z" fill="#1482d5"/>
<path d="M353 170.4l3.3 2.5l2.3 -1.9l-3.3 -2.7z" fill="#1484d4"/>
<path d="M403.6 193.4l3.3 3.4l2.4 -0.4l-3.4 -3.5z" fill="#117ad9"/>
<path d="M415.9 203.5l3.3 3.5l2.4 0.2l-3.4 -3.6z" fill="#0e76dc"/>
<path d="M394.6 187.6l3.3 3.2l2.4 -0.7l-3.3 -3.4z" fill="#137dd8"/>
<path d="M376.6 178.2l3.3 2.5l2.4 -1.3l-3.3 -2.7z" fill="#1481d6"/>
<path d="M347.3 170.2l3.3 2.3l2.4 -2.1l-3.3 -2.4z" fill="#1485d4"/>
<path d="M431.5 218.6l3.3 3.9l1.3 0.5l-0.2 -1.1l-2 -2.5z" fill="#076fdf"/>
<path d="M362 173.7l3.3 2.5l2.3 -1.6l-3.3 -2.6z" fill="#1483d5"/>
<path d="M385.6 182.3l3.3 3.1l2.4 -1l-3.3 -3.3z" fill="#137fd6"/>
<path d="M341.6 170.3l3.4 2l2.3 -2.1l-3.3 -2.2z" fill="#1485d4"/>
<path d="M406.9 196.8l3.3 3.4l2.4 -0.2l-3.3 -3.6z" fill="#1079da"/>
<path d="M419.2 207l3.3 3.5l2.4 0.4l-3.3 -3.7z" fill="#0d75dc"/>
<path d="M371 177.2l3.3 2.4l2.3 -1.4l-3.3 -2.6z" fill="#1482d5"/>
<path d="M356.3 172.9l3.3 2.5l2.4 -1.7l-3.4 -2.7z" fill="#1484d4"/>
<path d="M397.9 190.8l3.3 3.2l2.4 -0.6l-3.3 -3.3z" fill="#127cd8"/>
<path d="M388.9 185.4l3.3 3.1l2.4 -0.9l-3.3 -3.2z" fill="#137ed7"/>
<path d="M379.9 180.7l3.4 2.8l2.3 -1.2l-3.3 -2.9z" fill="#1480d6"/>
<path d="M350.6 172.5l3.3 2.4l2.4 -2l-3.3 -2.5z" fill="#1484d4"/>
<path d="M410.2 200.2l3.3 3.4l2.4 -0.1l-3.3 -3.5z" fill="#0f78db"/>
<path d="M422.5 210.5l3.4 3.7l2.3 0.5l-3.3 -3.8z" fill="#0b73dd"/>
<path d="M365.3 176.2l3.3 2.5l2.4 -1.5l-3.4 -2.6z" fill="#1482d5"/>
<path d="M434.8 222.5l1.5 1.7l-0.2 -1.2z" fill="#056ee0"/>
<path d="M345 172.3l3.3 2.2l2.3 -2l-3.3 -2.3z" fill="#1484d4"/>
<path d="M401.2 194l3.4 3.3l2.3 -0.5l-3.3 -3.4z" fill="#117bd9"/>
<path d="M374.3 179.6l3.3 2.4l2.3 -1.3l-3.3 -2.5z" fill="#1481d6"/>
<path d="M359.6 175.4l3.3 2.4l2.4 -1.6l-3.3 -2.5z" fill="#1483d5"/>
<path d="M425.9 214.2l3.3 3.7l2.3 0.7l-3.3 -3.9z" fill="#0a72de"/>
<path d="M392.2 188.5l3.4 3.1l2.3 -0.8l-3.3 -3.2z" fill="#137dd8"/>
<path d="M383.3 183.5l3.3 3l2.3 -1.1l-3.3 -3.1z" fill="#137fd6"/>
<path d="M413.5 203.6l3.4 3.3l2.3 0.1l-3.3 -3.5z" fill="#0e77db"/>
<path d="M353.9 174.9l3.4 2.4l2.3 -1.9l-3.3 -2.5z" fill="#1483d5"/>
<path d="M368.6 178.7l3.3 2.3l2.4 -1.4l-3.3 -2.4z" fill="#1481d5"/>
<path d="M404.6 197.3l3.3 3.2l2.3 -0.3l-3.3 -3.4z" fill="#117ada"/>
<path d="M429.2 217.9l3.3 3.6l2.3 1l-3.3 -3.9z" fill="#0871de"/>
<path d="M348.3 174.5l3.3 2.3l2.3 -1.9l-3.3 -2.4z" fill="#1483d4"/>
<path d="M416.9 206.9l3.3 3.4l2.3 0.2l-3.3 -3.5z" fill="#0d76dc"/>
<path d="M395.6 191.6l3.3 3.1l2.3 -0.7l-3.3 -3.2z" fill="#127cd8"/>
<path d="M377.6 182l3.3 2.6l2.4 -1.1l-3.4 -2.8z" fill="#1480d6"/>
<path d="M386.6 186.5l3.3 3l2.3 -1l-3.3 -3.1z" fill="#137ed7"/>
<path d="M362.9 177.8l3.4 2.4l2.3 -1.5l-3.3 -2.5z" fill="#1482d5"/>
<path d="M432.5 221.5l3.3 3.9l0.8 0.4l-0.3 -1.6l-1.5 -1.7z" fill="#076fdf"/>
<path d="M407.9 200.5l3.3 3.3l2.3 -0.2l-3.3 -3.4z" fill="#1078da"/>
<path d="M357.3 177.3l3.3 2.3l2.3 -1.8l-3.3 -2.4z" fill="#1482d5"/>
<path d="M371.9 181l3.3 2.2l2.4 -1.2l-3.3 -2.4z" fill="#1481d6"/>
<path d="M420.2 210.3l3.3 3.4l2.4 0.5l-3.4 -3.7z" fill="#0c74dd"/>
<path d="M398.9 194.7l3.3 3.1l2.4 -0.5l-3.4 -3.3z" fill="#117bd9"/>
<path d="M380.9 184.6l3.3 3l2.4 -1.1l-3.3 -3z" fill="#137fd6"/>
<path d="M389.9 189.5l3.3 3l2.4 -0.9l-3.4 -3.1z" fill="#137dd8"/>
<path d="M351.6 176.8l3.3 2.3l2.4 -1.8l-3.4 -2.4z" fill="#1483d5"/>
<path d="M366.3 180.2l3.3 2.2l2.3 -1.4l-3.3 -2.3z" fill="#1481d5"/>
<path d="M411.2 203.8l3.3 3.2l2.4 -0.1l-3.4 -3.3z" fill="#0f77db"/>
<path d="M423.5 213.7l3.3 3.6l2.4 0.6l-3.3 -3.7z" fill="#0b73dd"/>
<path d="M402.2 197.8l3.3 3.2l2.4 -0.5l-3.3 -3.2z" fill="#117ad9"/>
<path d="M360.6 179.6l3.3 2.3l2.4 -1.7l-3.4 -2.4z" fill="#1482d5"/>
<path d="M435.8 225.4l1 1.2l-0.2 -0.8z" fill="#056ee0"/>
<path d="M375.2 183.2l3.4 2.5l2.3 -1.1l-3.3 -2.6z" fill="#1480d6"/>
<path d="M393.2 192.5l3.3 3l2.4 -0.8l-3.3 -3.1z" fill="#127cd8"/>
<path d="M384.2 187.6l3.3 2.9l2.4 -1l-3.3 -3z" fill="#137ed7"/>
<path d="M414.5 207l3.3 3.2l2.4 0.1l-3.3 -3.4z" fill="#0e76dc"/>
<path d="M354.9 179.1l3.3 2.3l2.4 -1.8l-3.3 -2.3z" fill="#1482d5"/>
<path d="M426.8 217.3l3.3 3.5l2.4 0.7l-3.3 -3.6z" fill="#0972de"/>
<path d="M369.6 182.4l3.3 2.1l2.3 -1.3l-3.3 -2.2z" fill="#1481d6"/>
<path d="M405.5 201l3.3 3.1l2.4 -0.3l-3.3 -3.3z" fill="#1079da"/>
<path d="M378.6 185.7l3.3 2.8l2.3 -0.9l-3.3 -3z" fill="#1480d6"/>
<path d="M396.5 195.5l3.4 3l2.3 -0.7l-3.3 -3.1z" fill="#127bd9"/>
<path d="M387.5 190.5l3.4 2.8l2.3 -0.8l-3.3 -3z" fill="#137dd7"/>
<path d="M430.1 220.8l3.4 3.7l2.3 0.9l-3.3 -3.9z" fill="#0870df"/>
<path d="M363.9 181.9l3.3 2l2.4 -1.5l-3.3 -2.2z" fill="#1481d5"/>
<path d="M417.8 210.2l3.4 3.3l2.3 0.2l-3.3 -3.4z" fill="#0d75dc"/>
<path d="M358.2 181.4l3.4 2.2l2.3 -1.7l-3.3 -2.3z" fill="#1482d5"/>
<path d="M408.8 204.1l3.4 3.1l2.3 -0.2l-3.3 -3.2z" fill="#0f78db"/>
<path d="M372.9 184.5l3.3 2.4l2.4 -1.2l-3.4 -2.5z" fill="#1480d6"/>
<path d="M433.5 224.5l3.3 3.7l0.5 0.3l-0.5 -1.9l-1 -1.2z" fill="#066fdf"/>
<path d="M399.9 198.5l3.3 3l2.3 -0.5l-3.3 -3.2z" fill="#117ad9"/>
<path d="M421.2 213.5l3.3 3.4l2.3 0.4l-3.3 -3.6z" fill="#0c74dd"/>
<path d="M381.9 188.5l3.3 2.8l2.3 -0.8l-3.3 -2.9z" fill="#137fd7"/>
<path d="M390.9 193.3l3.3 2.9l2.3 -0.7l-3.3 -3z" fill="#127dd8"/>
<path d="M367.2 183.9l3.3 2.1l2.4 -1.5l-3.3 -2.1z" fill="#1481d6"/>
<path d="M412.2 207.2l3.3 3.1l2.3 -0.1l-3.3 -3.2z" fill="#0e77db"/>
<path d="M424.5 216.9l3.3 3.4l2.3 0.5l-3.3 -3.5z" fill="#0a73dd"/>
<path d="M361.6 183.6l3.3 2l2.3 -1.7l-3.3 -2z" fill="#1481d6"/>
<path d="M403.2 201.5l3.3 3l2.3 -0.4l-3.3 -3.1z" fill="#1079da"/>
<path d="M376.2 186.9l3.3 2.7l2.4 -1.1l-3.3 -2.8z" fill="#1480d6"/>
<path d="M394.2 196.2l3.3 2.9l2.4 -0.6l-3.4 -3z" fill="#127cd8"/>
<path d="M385.2 191.3l3.3 2.7l2.4 -0.7l-3.4 -2.8z" fill="#137ed7"/>
<path d="M436.8 228.2l0.6 0.8l-0.1 -0.5z" fill="#056de0"/>
<path d="M415.5 210.3l3.3 3.2l2.4 0l-3.4 -3.3z" fill="#0d76dc"/>
<path d="M427.8 220.3l3.3 3.5l2.4 0.7l-3.4 -3.7z" fill="#0971de"/>
<path d="M370.5 186l3.4 2.3l2.3 -1.4l-3.3 -2.4z" fill="#1480d6"/>
<path d="M406.5 204.5l3.3 3l2.4 -0.3l-3.4 -3.1z" fill="#1078da"/>
<path d="M379.5 189.6l3.3 2.6l2.4 -0.9l-3.3 -2.8z" fill="#137fd7"/>
<path d="M397.5 199.1l3.3 2.9l2.4 -0.5l-3.3 -3z" fill="#117bd9"/>
<path d="M388.5 194l3.3 2.8l2.4 -0.6l-3.3 -2.9z" fill="#137dd8"/>
<path d="M364.9 185.6l3.3 2l2.3 -1.6l-3.3 -2.1z" fill="#1481d6"/>
<path d="M418.8 213.5l3.3 3.2l2.4 0.2l-3.3 -3.4z" fill="#0c75dc"/>
<path d="M431.1 223.8l3.3 3.6l2.4 0.8l-3.3 -3.7z" fill="#0870df"/>
<path d="M373.9 188.3l3.3 2.6l2.3 -1.3l-3.3 -2.7z" fill="#1480d6"/>
<path d="M409.8 207.5l3.3 3l2.4 -0.2l-3.3 -3.1z" fill="#0f77db"/>
<path d="M400.8 202l3.3 2.9l2.4 -0.4l-3.3 -3z" fill="#117ada"/>
<path d="M382.8 192.2l3.4 2.6l2.3 -0.8l-3.3 -2.7z" fill="#137ed7"/>
<path d="M391.8 196.8l3.4 2.7l2.3 -0.4l-3.3 -2.9z" fill="#127cd8"/>
<path d="M422.1 216.7l3.3 3.3l2.4 0.3l-3.3 -3.4z" fill="#0b74dd"/>
<path d="M434.4 227.4l3.4 3.6l0.2 0.1l-0.6 -2.1l-0.6 -0.8z" fill="#066fdf"/>
<path d="M368.2 187.6l3.3 2.2l2.4 -1.5l-3.4 -2.3z" fill="#1480d6"/>
<path d="M413.1 210.5l3.4 3.1l2.3 -0.1l-3.3 -3.2z" fill="#0e76db"/>
<path d="M377.2 190.9l3.3 2.6l2.3 -1.3l-3.3 -2.6z" fill="#137fd7"/>
<path d="M404.1 204.9l3.4 2.8l2.3 -0.2l-3.3 -3z" fill="#1079da"/>
<path d="M425.4 220l3.4 3.3l2.3 0.5l-3.3 -3.5z" fill="#0a72de"/>
<path d="M386.2 194.8l3.3 2.7l2.3 -0.7l-3.3 -2.8z" fill="#137dd8"/>
<path d="M395.2 199.5l3.3 2.8l2.3 -0.3l-3.3 -2.9z" fill="#127bd9"/>
<path d="M371.5 189.8l3.3 2.6l2.4 -1.5l-3.3 -2.6z" fill="#137fd6"/>
<path d="M416.5 213.6l3.3 3.1l2.3 0l-3.3 -3.2z" fill="#0d75dc"/>
<path d="M437.8 231l0.2 0.4l0 -0.3z" fill="#056de0"/>
<path d="M428.8 223.3l3.3 3.5l2.3 0.6l-3.3 -3.6z" fill="#0971de"/>
<path d="M380.5 193.5l3.3 2.6l2.4 -1.3l-3.4 -2.6z" fill="#137ed7"/>
<path d="M407.5 207.7l3.3 2.9l2.3 -0.1l-3.3 -3z" fill="#0f78db"/>
<path d="M398.5 202.3l3.3 2.8l2.3 -0.2l-3.3 -2.9z" fill="#117ad9"/>
<path d="M389.5 197.5l3.3 2.6l2.4 -0.6l-3.4 -2.7z" fill="#127cd8"/>
<path d="M419.8 216.7l3.3 3.1l2.3 0.2l-3.3 -3.3z" fill="#0c74dd"/>
<path d="M432.1 226.8l3.3 3.5l2.4 0.7l-3.4 -3.6z" fill="#0770df"/>
<path d="M374.8 192.4l3.4 2.5l2.3 -1.4l-3.3 -2.6z" fill="#137fd7"/>
<path d="M410.8 210.6l3.3 2.9l2.4 0.1l-3.4 -3.1z" fill="#0f77db"/>
<path d="M383.8 196.1l3.3 2.5l2.4 -1.1l-3.3 -2.7z" fill="#137dd8"/>
<path d="M401.8 205.1l3.3 2.6l2.4 0l-3.4 -2.8z" fill="#107ada"/>
<path d="M392.8 200.1l3.3 2.7l2.4 -0.5l-3.3 -2.8z" fill="#127cd8"/>
<path d="M423.1 219.8l3.3 3.2l2.4 0.3l-3.4 -3.3z" fill="#0b73dd"/>
<path d="M435.4 230.3l3.3 3.4l0.1 0.1l-0.8 -2.4l-0.2 -0.4z" fill="#066edf"/>
<path d="M378.1 194.9l3.3 2.5l2.3 -1.3l-3.3 -2.6z" fill="#137ed7"/>
<path d="M414.1 213.5l3.3 3l2.4 0.2l-3.3 -3.1z" fill="#0e76dc"/>
<path d="M387.1 198.6l3.4 2.6l2.3 -1.1l-3.3 -2.6z" fill="#127dd8"/>
<path d="M405.1 207.7l3.3 2.8l2.4 0.1l-3.3 -2.9z" fill="#1079da"/>
<path d="M426.4 223l3.3 3.4l2.4 0.4l-3.3 -3.5z" fill="#0a72de"/>
<path d="M396.1 202.8l3.3 2.6l2.4 -0.3l-3.3 -2.8z" fill="#117bd9"/>
<path d="M417.4 216.5l3.3 3l2.4 0.3l-3.3 -3.1z" fill="#0d75dc"/>
<path d="M381.5 197.4l3.3 2.5l2.3 -1.3l-3.3 -2.5z" fill="#137dd8"/>
<path d="M438.7 233.7l0.1 0.1l0 0z" fill="#056de0"/>
<path d="M429.7 226.4l3.4 3.3l2.3 0.6l-3.3 -3.5z" fill="#0871de"/>
<path d="M390.5 201.2l3.3 2.6l2.3 -1l-3.3 -2.7z" fill="#127cd8"/>
<path d="M408.4 210.5l3.4 2.8l2.3 0.2l-3.3 -2.9z" fill="#0f78db"/>
<path d="M399.4 205.4l3.4 2.6l2.3 -0.3l-3.3 -2.6z" fill="#117ad9"/>
<path d="M420.7 219.5l3.4 3.1l2.3 0.4l-3.3 -3.2z" fill="#0c74dd"/>
<path d="M433.1 229.7l3.3 3.3l2.3 0.7l-3.3 -3.4z" fill="#0770df"/>
<path d="M384.8 199.9l3.3 2.5l2.4 -1.2l-3.4 -2.6z" fill="#127dd8"/>
<path d="M411.8 213.3l3.3 2.8l2.3 0.4l-3.3 -3z" fill="#0e77db"/>
<path d="M393.8 203.8l3.3 2.6l2.3 -1l-3.3 -2.6z" fill="#117bd9"/>
<path d="M402.8 208l3.3 2.6l2.3 -0.1l-3.3 -2.8z" fill="#1079da"/>
<path d="M424.1 222.6l3.3 3.2l2.3 0.6l-3.3 -3.4z" fill="#0b73dd"/>
<path d="M436.4 233l3.3 3.3l0 0l-0.9 -2.5l-0.1 -0.1z" fill="#066edf"/>
<path d="M388.1 202.4l3.3 2.6l2.4 -1.2l-3.3 -2.6z" fill="#127cd8"/>
<path d="M415.1 216.1l3.3 2.8l2.3 0.6l-3.3 -3z" fill="#0e76dc"/>
<path d="M397.1 206.4l3.3 2.5l2.4 -0.9l-3.4 -2.6z" fill="#117ad9"/>
<path d="M406.1 210.6l3.3 2.7l2.4 0l-3.4 -2.8z" fill="#1079da"/>
<path d="M427.4 225.8l3.3 3.2l2.4 0.7l-3.4 -3.3z" fill="#0972de"/>
<path d="M418.4 218.9l3.3 3l2.4 0.7l-3.4 -3.1z" fill="#0d75dc"/>
<path d="M391.4 205l3.3 2.5l2.4 -1.1l-3.3 -2.6z" fill="#117bd9"/>
<path d="M430.7 229l3.3 3.2l2.4 0.8l-3.3 -3.3z" fill="#0871de"/>
<path d="M439.7 236.3l0 0l0 0z" fill="#056de0"/>
<path d="M400.4 208.9l3.3 2.5l2.4 -0.8l-3.3 -2.6z" fill="#117ada"/>
<path d="M409.4 213.3l3.3 2.7l2.4 0.1l-3.3 -2.8z" fill="#0f78db"/>
<path d="M421.7 221.9l3.3 3l2.4 0.9l-3.3 -3.2z" fill="#0c74dd"/>
<path d="M434 232.2l3.3 3.1l2.4 1l-3.3 -3.3z" fill="#0770df"/>
<path d="M394.7 207.5l3.4 2.5l2.3 -1.1l-3.3 -2.5z" fill="#117ad9"/>
<path d="M412.7 216l3.3 2.7l2.4 0.2l-3.3 -2.8z" fill="#0e77db"/>
<path d="M403.7 211.4l3.4 2.6l2.3 -0.7l-3.3 -2.7z" fill="#1079da"/>
<path d="M425 224.9l3.4 3.1l2.3 1l-3.3 -3.2z" fill="#0b73dd"/>
<path d="M437.3 235.3l3.4 3.3l0.1 0.1l-1.1 -2.4l0 0z" fill="#066fdf"/>
<path d="M398.1 210l3.3 2.4l2.3 -1l-3.3 -2.5z" fill="#117ada"/>
<path d="M416 218.7l3.4 2.8l2.3 0.4l-3.3 -3z" fill="#0e76dc"/>
<path d="M407.1 214l3.3 2.6l2.3 -0.6l-3.3 -2.7z" fill="#0f78db"/>
<path d="M428.4 228l3.3 2.9l2.3 1.3l-3.3 -3.2z" fill="#0a72de"/>
<path d="M401.4 212.4l3.3 2.6l2.4 -1l-3.4 -2.6z" fill="#1079da"/>
<path d="M419.4 221.5l3.3 2.9l2.3 0.5l-3.3 -3z" fill="#0d75dc"/>
<path d="M410.4 216.6l3.3 2.6l2.3 -0.5l-3.3 -2.7z" fill="#0f77db"/>
<path d="M440.7 238.6l0.2 0.3l-0.1 -0.2z" fill="#056de0"/>
<path d="M431.7 230.9l3.3 3l2.3 1.4l-3.3 -3.1z" fill="#0971de"/>
<path d="M422.7 224.4l3.3 2.9l2.4 0.7l-3.4 -3.1z" fill="#0c74dd"/>
<path d="M404.7 215l3.3 2.6l2.4 -1l-3.3 -2.6z" fill="#1078da"/>
<path d="M435 233.9l3.3 3.2l2.4 1.5l-3.4 -3.3z" fill="#0870df"/>
<path d="M413.7 219.2l3.3 2.8l2.4 -0.5l-3.4 -2.8z" fill="#0e76db"/>
<path d="M426 227.3l3.3 2.8l2.4 0.8l-3.3 -2.9z" fill="#0b73dd"/>
<path d="M438.3 237.1l3.3 3.6l0.5 0.3l-1.2 -2.1l-0.2 -0.3z" fill="#066fdf"/>
<path d="M408 217.6l3.3 2.5l2.4 -0.9l-3.3 -2.6z" fill="#0f77db"/>
<path d="M417 222l3.3 2.8l2.4 -0.4l-3.3 -2.9z" fill="#0d76dc"/>
<path d="M429.3 230.1l3.3 2.8l2.4 1l-3.3 -3z" fill="#0a72de"/>
<path d="M411.3 220.1l3.4 2.7l2.3 -0.8l-3.3 -2.8z" fill="#0e77db"/>
<path d="M420.3 224.8l3.4 2.8l2.3 -0.3l-3.3 -2.9z" fill="#0c75dc"/>
<path d="M441.6 240.7l0.8 0.9l-0.3 -0.6z" fill="#056de0"/>
<path d="M432.6 232.9l3.4 3.1l2.3 1.1l-3.3 -3.2z" fill="#0971de"/>
<path d="M423.7 227.6l3.3 2.8l2.3 -0.3l-3.3 -2.8z" fill="#0b74dd"/>
<path d="M414.7 222.8l3.3 2.8l2.3 -0.8l-3.3 -2.8z" fill="#0e76dc"/>
<path d="M436 236l3.3 3.4l2.3 1.3l-3.3 -3.6z" fill="#0870df"/>
<path d="M427 230.4l3.3 2.7l2.3 -0.2l-3.3 -2.8z" fill="#0b73dd"/>
<path d="M418 225.6l3.3 2.8l2.4 -0.8l-3.4 -2.8z" fill="#0d75dc"/>
<path d="M439.3 239.4l3.3 3.7l0.7 0.4l-0.9 -1.9l-0.8 -0.9z" fill="#066fdf"/>
<path d="M430.3 233.1l3.3 2.9l2.4 0l-3.4 -3.1z" fill="#0a72de"/>
<path d="M421.3 228.4l3.3 2.7l2.4 -0.7l-3.3 -2.8z" fill="#0c74dd"/>
<path d="M433.6 236l3.3 3.4l2.4 0l-3.3 -3.4z" fill="#0971de"/>
<path d="M424.6 231.1l3.3 2.6l2.4 -0.6l-3.3 -2.7z" fill="#0b73dd"/>
<path d="M436.9 239.4l3.3 3.6l2.4 0.1l-3.3 -3.7z" fill="#0770df"/>
<path d="M427.9 233.7l3.4 2.9l2.3 -0.6l-3.3 -2.9z" fill="#0a72de"/>
<path d="M431.3 236.6l3.3 3.3l2.3 -0.5l-3.3 -3.4z" fill="#0972de"/>
<path d="M434.6 239.9l3.3 3.5l2.3 -0.4l-3.3 -3.6z" fill="#0870df"/>
</g>

</svg>
</body></html>
